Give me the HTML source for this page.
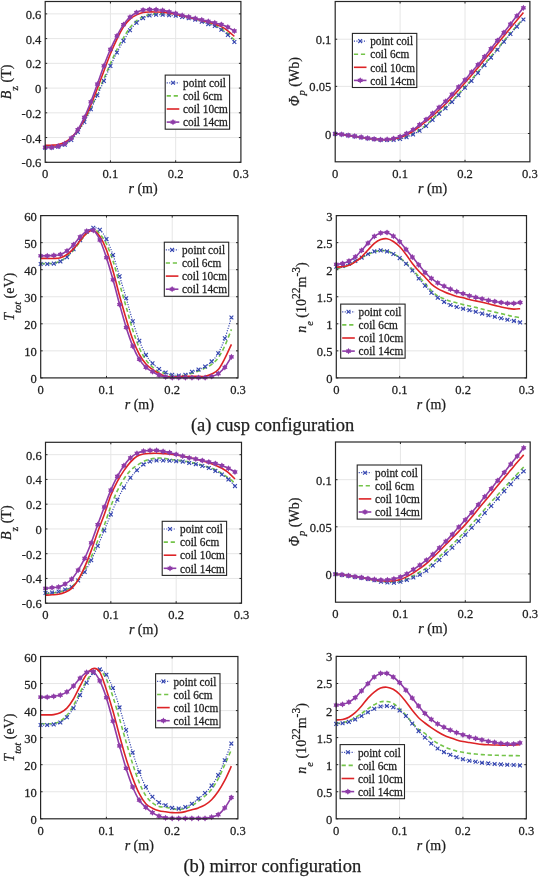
<!DOCTYPE html>
<html><head><meta charset="utf-8"><style>
html,body{margin:0;padding:0;background:#fff;width:538px;height:877px;overflow:hidden}
svg{display:block;will-change:transform}
text{font-family:"Liberation Serif", serif;fill:#1e1e1e;stroke:#1e1e1e;stroke-width:0.25px}
</style></head><body>
<svg width="538" height="877" viewBox="0 0 538 877">
<line x1="110.43" y1="1.50" x2="110.43" y2="162.30" stroke="#e6e6e6" stroke-width="1"/>
<line x1="175.67" y1="1.50" x2="175.67" y2="162.30" stroke="#e6e6e6" stroke-width="1"/>
<line x1="45.20" y1="137.56" x2="240.90" y2="137.56" stroke="#e6e6e6" stroke-width="1"/>
<line x1="45.20" y1="112.82" x2="240.90" y2="112.82" stroke="#e6e6e6" stroke-width="1"/>
<line x1="45.20" y1="88.08" x2="240.90" y2="88.08" stroke="#e6e6e6" stroke-width="1"/>
<line x1="45.20" y1="63.35" x2="240.90" y2="63.35" stroke="#e6e6e6" stroke-width="1"/>
<line x1="45.20" y1="38.61" x2="240.90" y2="38.61" stroke="#e6e6e6" stroke-width="1"/>
<line x1="45.20" y1="13.87" x2="240.90" y2="13.87" stroke="#e6e6e6" stroke-width="1"/>
<path d="M45.20,146.80 C46.29,146.77 49.55,146.75 51.72,146.60 C53.90,146.45 56.07,146.33 58.25,145.90 C60.42,145.47 62.60,145.10 64.77,144.00 C66.94,142.90 69.12,141.43 71.29,139.30 C73.47,137.17 75.64,134.28 77.82,131.20 C79.99,128.12 82.17,124.73 84.34,120.80 C86.51,116.87 88.69,112.18 90.86,107.60 C93.04,103.02 95.21,98.12 97.39,93.30 C99.56,88.48 101.74,83.65 103.91,78.70 C106.08,73.75 108.26,68.47 110.43,63.60 C112.61,58.73 114.78,53.80 116.96,49.50 C119.13,45.20 121.31,41.45 123.48,37.80 C125.65,34.15 127.83,30.43 130.00,27.60 C132.18,24.77 134.35,22.62 136.53,20.80 C138.70,18.98 140.88,17.73 143.05,16.70 C145.22,15.67 147.40,15.07 149.57,14.60 C151.75,14.13 153.92,14.02 156.10,13.90 C158.27,13.78 160.45,13.82 162.62,13.90 C164.79,13.98 166.97,14.22 169.14,14.40 C171.32,14.58 173.49,14.70 175.67,15.00 C177.84,15.30 180.02,15.77 182.19,16.20 C184.36,16.63 186.54,17.13 188.71,17.60 C190.89,18.07 193.06,18.42 195.24,19.00 C197.41,19.58 199.59,20.38 201.76,21.10 C203.93,21.82 206.11,22.62 208.28,23.30 C210.46,23.98 212.63,24.32 214.81,25.20 C216.98,26.08 219.16,27.20 221.33,28.60 C223.50,30.00 225.68,31.68 227.85,33.60 C230.03,35.52 233.29,39.02 234.38,40.10" fill="none" stroke="#74c44a" stroke-width="1.6" stroke-dasharray="4.2,2.8"/>
<path d="M45.20,147.80 C46.29,147.77 49.55,147.77 51.72,147.60 C53.90,147.43 56.07,147.27 58.25,146.80 C60.42,146.33 62.60,145.93 64.77,144.80 C66.94,143.67 69.12,142.13 71.29,140.00 C73.47,137.87 75.64,135.00 77.82,132.00 C79.99,129.00 82.17,125.78 84.34,122.00 C86.51,118.22 88.69,113.75 90.86,109.30 C93.04,104.85 95.21,100.03 97.39,95.30 C99.56,90.57 101.74,85.78 103.91,80.90 C106.08,76.02 108.26,70.73 110.43,66.00 C112.61,61.27 114.78,56.68 116.96,52.50 C119.13,48.32 121.31,44.62 123.48,40.90 C125.65,37.18 127.83,33.22 130.00,30.20 C132.18,27.18 134.35,24.82 136.53,22.80 C138.70,20.78 140.88,19.32 143.05,18.10 C145.22,16.88 147.40,16.05 149.57,15.50 C151.75,14.95 153.92,14.92 156.10,14.80 C158.27,14.68 160.45,14.72 162.62,14.80 C164.79,14.88 166.97,15.13 169.14,15.30 C171.32,15.47 173.49,15.53 175.67,15.80 C177.84,16.07 180.02,16.50 182.19,16.90 C184.36,17.30 186.54,17.75 188.71,18.20 C190.89,18.65 193.06,19.00 195.24,19.60 C197.41,20.20 199.59,21.05 201.76,21.80 C203.93,22.55 206.11,23.40 208.28,24.10 C210.46,24.80 212.63,25.07 214.81,26.00 C216.98,26.93 219.16,28.22 221.33,29.70 C223.50,31.18 225.68,32.85 227.85,34.90 C230.03,36.95 233.29,40.82 234.38,42.00" fill="none" stroke="#3445b0" stroke-width="1.2" stroke-dasharray="1.1,1.4"/>
<path d="M43.30,145.90L47.10,149.70M43.30,149.70L47.10,145.90" stroke="#3445b0" stroke-width="1.1"/>
<path d="M49.82,145.70L53.62,149.50M49.82,149.50L53.62,145.70" stroke="#3445b0" stroke-width="1.1"/>
<path d="M56.35,144.90L60.15,148.70M56.35,148.70L60.15,144.90" stroke="#3445b0" stroke-width="1.1"/>
<path d="M62.87,142.90L66.67,146.70M62.87,146.70L66.67,142.90" stroke="#3445b0" stroke-width="1.1"/>
<path d="M69.39,138.10L73.19,141.90M69.39,141.90L73.19,138.10" stroke="#3445b0" stroke-width="1.1"/>
<path d="M75.92,130.10L79.72,133.90M75.92,133.90L79.72,130.10" stroke="#3445b0" stroke-width="1.1"/>
<path d="M82.44,120.10L86.24,123.90M82.44,123.90L86.24,120.10" stroke="#3445b0" stroke-width="1.1"/>
<path d="M88.96,107.40L92.76,111.20M88.96,111.20L92.76,107.40" stroke="#3445b0" stroke-width="1.1"/>
<path d="M95.49,93.40L99.29,97.20M95.49,97.20L99.29,93.40" stroke="#3445b0" stroke-width="1.1"/>
<path d="M102.01,79.00L105.81,82.80M102.01,82.80L105.81,79.00" stroke="#3445b0" stroke-width="1.1"/>
<path d="M108.53,64.10L112.33,67.90M108.53,67.90L112.33,64.10" stroke="#3445b0" stroke-width="1.1"/>
<path d="M115.06,50.60L118.86,54.40M115.06,54.40L118.86,50.60" stroke="#3445b0" stroke-width="1.1"/>
<path d="M121.58,39.00L125.38,42.80M121.58,42.80L125.38,39.00" stroke="#3445b0" stroke-width="1.1"/>
<path d="M128.10,28.30L131.90,32.10M128.10,32.10L131.90,28.30" stroke="#3445b0" stroke-width="1.1"/>
<path d="M134.63,20.90L138.43,24.70M134.63,24.70L138.43,20.90" stroke="#3445b0" stroke-width="1.1"/>
<path d="M141.15,16.20L144.95,20.00M141.15,20.00L144.95,16.20" stroke="#3445b0" stroke-width="1.1"/>
<path d="M147.67,13.60L151.47,17.40M147.67,17.40L151.47,13.60" stroke="#3445b0" stroke-width="1.1"/>
<path d="M154.20,12.90L158.00,16.70M154.20,16.70L158.00,12.90" stroke="#3445b0" stroke-width="1.1"/>
<path d="M160.72,12.90L164.52,16.70M160.72,16.70L164.52,12.90" stroke="#3445b0" stroke-width="1.1"/>
<path d="M167.24,13.40L171.04,17.20M167.24,17.20L171.04,13.40" stroke="#3445b0" stroke-width="1.1"/>
<path d="M173.77,13.90L177.57,17.70M173.77,17.70L177.57,13.90" stroke="#3445b0" stroke-width="1.1"/>
<path d="M180.29,15.00L184.09,18.80M180.29,18.80L184.09,15.00" stroke="#3445b0" stroke-width="1.1"/>
<path d="M186.81,16.30L190.61,20.10M186.81,20.10L190.61,16.30" stroke="#3445b0" stroke-width="1.1"/>
<path d="M193.34,17.70L197.14,21.50M193.34,21.50L197.14,17.70" stroke="#3445b0" stroke-width="1.1"/>
<path d="M199.86,19.90L203.66,23.70M199.86,23.70L203.66,19.90" stroke="#3445b0" stroke-width="1.1"/>
<path d="M206.38,22.20L210.18,26.00M206.38,26.00L210.18,22.20" stroke="#3445b0" stroke-width="1.1"/>
<path d="M212.91,24.10L216.71,27.90M212.91,27.90L216.71,24.10" stroke="#3445b0" stroke-width="1.1"/>
<path d="M219.43,27.80L223.23,31.60M219.43,31.60L223.23,27.80" stroke="#3445b0" stroke-width="1.1"/>
<path d="M225.95,33.00L229.75,36.80M225.95,36.80L229.75,33.00" stroke="#3445b0" stroke-width="1.1"/>
<path d="M232.48,40.10L236.28,43.90M232.48,43.90L236.28,40.10" stroke="#3445b0" stroke-width="1.1"/>
<path d="M45.20,145.30 C46.29,145.28 49.55,145.33 51.72,145.20 C53.90,145.07 56.07,144.98 58.25,144.50 C60.42,144.02 62.60,143.45 64.77,142.30 C66.94,141.15 69.12,139.60 71.29,137.60 C73.47,135.60 75.64,133.32 77.82,130.30 C79.99,127.28 82.17,123.72 84.34,119.50 C86.51,115.28 88.69,110.17 90.86,105.00 C93.04,99.83 95.21,94.17 97.39,88.50 C99.56,82.83 101.74,76.78 103.91,71.00 C106.08,65.22 108.26,59.10 110.43,53.80 C112.61,48.50 114.78,43.68 116.96,39.20 C119.13,34.72 121.31,30.25 123.48,26.90 C125.65,23.55 127.83,21.10 130.00,19.10 C132.18,17.10 134.35,16.00 136.53,14.90 C138.70,13.80 140.88,13.00 143.05,12.50 C145.22,12.00 147.40,11.98 149.57,11.90 C151.75,11.82 153.92,11.93 156.10,12.00 C158.27,12.07 160.45,12.10 162.62,12.30 C164.79,12.50 166.97,12.87 169.14,13.20 C171.32,13.53 173.49,13.87 175.67,14.30 C177.84,14.73 180.02,15.32 182.19,15.80 C184.36,16.28 186.54,16.70 188.71,17.20 C190.89,17.70 193.06,18.27 195.24,18.80 C197.41,19.33 199.59,19.85 201.76,20.40 C203.93,20.95 206.11,21.50 208.28,22.10 C210.46,22.70 212.63,23.25 214.81,24.00 C216.98,24.75 219.16,25.47 221.33,26.60 C223.50,27.73 225.68,29.17 227.85,30.80 C230.03,32.43 233.29,35.47 234.38,36.40" fill="none" stroke="#dd2326" stroke-width="1.6"/>
<path d="M45.20,147.40 C46.29,147.38 49.55,147.50 51.72,147.30 C53.90,147.10 56.07,146.82 58.25,146.20 C60.42,145.58 62.60,144.95 64.77,143.60 C66.94,142.25 69.12,140.42 71.29,138.10 C73.47,135.78 75.64,133.15 77.82,129.70 C79.99,126.25 82.17,122.05 84.34,117.40 C86.51,112.75 88.69,107.35 90.86,101.80 C93.04,96.25 95.21,90.10 97.39,84.10 C99.56,78.10 101.74,71.60 103.91,65.80 C106.08,60.00 108.26,54.30 110.43,49.30 C112.61,44.30 114.78,39.92 116.96,35.80 C119.13,31.68 121.31,27.70 123.48,24.60 C125.65,21.50 127.83,19.22 130.00,17.20 C132.18,15.18 134.35,13.70 136.53,12.50 C138.70,11.30 140.88,10.50 143.05,10.00 C145.22,9.50 147.40,9.55 149.57,9.50 C151.75,9.45 153.92,9.55 156.10,9.70 C158.27,9.85 160.45,10.05 162.62,10.40 C164.79,10.75 166.97,11.32 169.14,11.80 C171.32,12.28 173.49,12.72 175.67,13.30 C177.84,13.88 180.02,14.70 182.19,15.30 C184.36,15.90 186.54,16.38 188.71,16.90 C190.89,17.42 193.06,17.90 195.24,18.40 C197.41,18.90 199.59,19.42 201.76,19.90 C203.93,20.38 206.11,20.82 208.28,21.30 C210.46,21.78 212.63,22.27 214.81,22.80 C216.98,23.33 219.16,23.77 221.33,24.50 C223.50,25.23 225.68,26.12 227.85,27.20 C230.03,28.28 233.29,30.37 234.38,31.00" fill="none" stroke="#8e3ca8" stroke-width="1.6"/>
<path d="M45.20,144.30 L44.25,145.75 L42.52,145.85 L43.30,147.40 L42.52,148.95 L44.25,149.05 L45.20,150.50 L46.15,149.05 L47.88,148.95 L47.10,147.40 L47.88,145.85 L46.15,145.75Z" fill="#8e3ca8"/>
<path d="M51.72,144.20 L50.77,145.65 L49.04,145.75 L49.82,147.30 L49.04,148.85 L50.77,148.95 L51.72,150.40 L52.67,148.95 L54.41,148.85 L53.62,147.30 L54.41,145.75 L52.67,145.65Z" fill="#8e3ca8"/>
<path d="M58.25,143.10 L57.30,144.55 L55.56,144.65 L56.35,146.20 L55.56,147.75 L57.30,147.85 L58.25,149.30 L59.20,147.85 L60.93,147.75 L60.15,146.20 L60.93,144.65 L59.20,144.55Z" fill="#8e3ca8"/>
<path d="M64.77,140.50 L63.82,141.95 L62.09,142.05 L62.87,143.60 L62.09,145.15 L63.82,145.25 L64.77,146.70 L65.72,145.25 L67.45,145.15 L66.67,143.60 L67.45,142.05 L65.72,141.95Z" fill="#8e3ca8"/>
<path d="M71.29,135.00 L70.34,136.45 L68.61,136.55 L69.39,138.10 L68.61,139.65 L70.34,139.75 L71.29,141.20 L72.24,139.75 L73.98,139.65 L73.19,138.10 L73.98,136.55 L72.24,136.45Z" fill="#8e3ca8"/>
<path d="M77.82,126.60 L76.87,128.05 L75.13,128.15 L75.92,129.70 L75.13,131.25 L76.87,131.35 L77.82,132.80 L78.77,131.35 L80.50,131.25 L79.72,129.70 L80.50,128.15 L78.77,128.05Z" fill="#8e3ca8"/>
<path d="M84.34,114.30 L83.39,115.75 L81.66,115.85 L82.44,117.40 L81.66,118.95 L83.39,119.05 L84.34,120.50 L85.29,119.05 L87.02,118.95 L86.24,117.40 L87.02,115.85 L85.29,115.75Z" fill="#8e3ca8"/>
<path d="M90.86,98.70 L89.91,100.15 L88.18,100.25 L88.96,101.80 L88.18,103.35 L89.91,103.45 L90.86,104.90 L91.81,103.45 L93.55,103.35 L92.76,101.80 L93.55,100.25 L91.81,100.15Z" fill="#8e3ca8"/>
<path d="M97.39,81.00 L96.44,82.45 L94.70,82.55 L95.49,84.10 L94.70,85.65 L96.44,85.75 L97.39,87.20 L98.34,85.75 L100.07,85.65 L99.29,84.10 L100.07,82.55 L98.34,82.45Z" fill="#8e3ca8"/>
<path d="M103.91,62.70 L102.96,64.15 L101.23,64.25 L102.01,65.80 L101.23,67.35 L102.96,67.45 L103.91,68.90 L104.86,67.45 L106.59,67.35 L105.81,65.80 L106.59,64.25 L104.86,64.15Z" fill="#8e3ca8"/>
<path d="M110.43,46.20 L109.48,47.65 L107.75,47.75 L108.53,49.30 L107.75,50.85 L109.48,50.95 L110.43,52.40 L111.38,50.95 L113.12,50.85 L112.33,49.30 L113.12,47.75 L111.38,47.65Z" fill="#8e3ca8"/>
<path d="M116.96,32.70 L116.01,34.15 L114.27,34.25 L115.06,35.80 L114.27,37.35 L116.01,37.45 L116.96,38.90 L117.91,37.45 L119.64,37.35 L118.86,35.80 L119.64,34.25 L117.91,34.15Z" fill="#8e3ca8"/>
<path d="M123.48,21.50 L122.53,22.95 L120.80,23.05 L121.58,24.60 L120.80,26.15 L122.53,26.25 L123.48,27.70 L124.43,26.25 L126.16,26.15 L125.38,24.60 L126.16,23.05 L124.43,22.95Z" fill="#8e3ca8"/>
<path d="M130.00,14.10 L129.05,15.55 L127.32,15.65 L128.10,17.20 L127.32,18.75 L129.05,18.85 L130.00,20.30 L130.95,18.85 L132.69,18.75 L131.90,17.20 L132.69,15.65 L130.95,15.55Z" fill="#8e3ca8"/>
<path d="M136.53,9.40 L135.58,10.85 L133.84,10.95 L134.63,12.50 L133.84,14.05 L135.58,14.15 L136.53,15.60 L137.48,14.15 L139.21,14.05 L138.43,12.50 L139.21,10.95 L137.48,10.85Z" fill="#8e3ca8"/>
<path d="M143.05,6.90 L142.10,8.35 L140.37,8.45 L141.15,10.00 L140.37,11.55 L142.10,11.65 L143.05,13.10 L144.00,11.65 L145.73,11.55 L144.95,10.00 L145.73,8.45 L144.00,8.35Z" fill="#8e3ca8"/>
<path d="M149.57,6.40 L148.62,7.85 L146.89,7.95 L147.67,9.50 L146.89,11.05 L148.62,11.15 L149.57,12.60 L150.52,11.15 L152.26,11.05 L151.47,9.50 L152.26,7.95 L150.52,7.85Z" fill="#8e3ca8"/>
<path d="M156.10,6.60 L155.15,8.05 L153.41,8.15 L154.20,9.70 L153.41,11.25 L155.15,11.35 L156.10,12.80 L157.05,11.35 L158.78,11.25 L158.00,9.70 L158.78,8.15 L157.05,8.05Z" fill="#8e3ca8"/>
<path d="M162.62,7.30 L161.67,8.75 L159.94,8.85 L160.72,10.40 L159.94,11.95 L161.67,12.05 L162.62,13.50 L163.57,12.05 L165.30,11.95 L164.52,10.40 L165.30,8.85 L163.57,8.75Z" fill="#8e3ca8"/>
<path d="M169.14,8.70 L168.19,10.15 L166.46,10.25 L167.24,11.80 L166.46,13.35 L168.19,13.45 L169.14,14.90 L170.09,13.45 L171.83,13.35 L171.04,11.80 L171.83,10.25 L170.09,10.15Z" fill="#8e3ca8"/>
<path d="M175.67,10.20 L174.72,11.65 L172.98,11.75 L173.77,13.30 L172.98,14.85 L174.72,14.95 L175.67,16.40 L176.62,14.95 L178.35,14.85 L177.57,13.30 L178.35,11.75 L176.62,11.65Z" fill="#8e3ca8"/>
<path d="M182.19,12.20 L181.24,13.65 L179.51,13.75 L180.29,15.30 L179.51,16.85 L181.24,16.95 L182.19,18.40 L183.14,16.95 L184.87,16.85 L184.09,15.30 L184.87,13.75 L183.14,13.65Z" fill="#8e3ca8"/>
<path d="M188.71,13.80 L187.76,15.25 L186.03,15.35 L186.81,16.90 L186.03,18.45 L187.76,18.55 L188.71,20.00 L189.66,18.55 L191.40,18.45 L190.61,16.90 L191.40,15.35 L189.66,15.25Z" fill="#8e3ca8"/>
<path d="M195.24,15.30 L194.29,16.75 L192.55,16.85 L193.34,18.40 L192.55,19.95 L194.29,20.05 L195.24,21.50 L196.19,20.05 L197.92,19.95 L197.14,18.40 L197.92,16.85 L196.19,16.75Z" fill="#8e3ca8"/>
<path d="M201.76,16.80 L200.81,18.25 L199.08,18.35 L199.86,19.90 L199.08,21.45 L200.81,21.55 L201.76,23.00 L202.71,21.55 L204.44,21.45 L203.66,19.90 L204.44,18.35 L202.71,18.25Z" fill="#8e3ca8"/>
<path d="M208.28,18.20 L207.33,19.65 L205.60,19.75 L206.38,21.30 L205.60,22.85 L207.33,22.95 L208.28,24.40 L209.23,22.95 L210.97,22.85 L210.18,21.30 L210.97,19.75 L209.23,19.65Z" fill="#8e3ca8"/>
<path d="M214.81,19.70 L213.86,21.15 L212.12,21.25 L212.91,22.80 L212.12,24.35 L213.86,24.45 L214.81,25.90 L215.76,24.45 L217.49,24.35 L216.71,22.80 L217.49,21.25 L215.76,21.15Z" fill="#8e3ca8"/>
<path d="M221.33,21.40 L220.38,22.85 L218.65,22.95 L219.43,24.50 L218.65,26.05 L220.38,26.15 L221.33,27.60 L222.28,26.15 L224.01,26.05 L223.23,24.50 L224.01,22.95 L222.28,22.85Z" fill="#8e3ca8"/>
<path d="M227.85,24.10 L226.90,25.55 L225.17,25.65 L225.95,27.20 L225.17,28.75 L226.90,28.85 L227.85,30.30 L228.80,28.85 L230.54,28.75 L229.75,27.20 L230.54,25.65 L228.80,25.55Z" fill="#8e3ca8"/>
<path d="M234.38,27.90 L233.43,29.35 L231.69,29.45 L232.48,31.00 L231.69,32.55 L233.43,32.65 L234.38,34.10 L235.33,32.65 L237.06,32.55 L236.28,31.00 L237.06,29.45 L235.33,29.35Z" fill="#8e3ca8"/>
<rect x="45.20" y="1.50" width="195.70" height="160.80" fill="none" stroke="#262626" stroke-width="1.2"/>
<line x1="110.43" y1="162.30" x2="110.43" y2="160.30" stroke="#262626" stroke-width="1"/>
<line x1="110.43" y1="1.50" x2="110.43" y2="3.50" stroke="#262626" stroke-width="1"/>
<line x1="175.67" y1="162.30" x2="175.67" y2="160.30" stroke="#262626" stroke-width="1"/>
<line x1="175.67" y1="1.50" x2="175.67" y2="3.50" stroke="#262626" stroke-width="1"/>
<line x1="45.20" y1="162.30" x2="47.20" y2="162.30" stroke="#262626" stroke-width="1"/>
<line x1="240.90" y1="162.30" x2="238.90" y2="162.30" stroke="#262626" stroke-width="1"/>
<line x1="45.20" y1="137.56" x2="47.20" y2="137.56" stroke="#262626" stroke-width="1"/>
<line x1="240.90" y1="137.56" x2="238.90" y2="137.56" stroke="#262626" stroke-width="1"/>
<line x1="45.20" y1="112.82" x2="47.20" y2="112.82" stroke="#262626" stroke-width="1"/>
<line x1="240.90" y1="112.82" x2="238.90" y2="112.82" stroke="#262626" stroke-width="1"/>
<line x1="45.20" y1="88.08" x2="47.20" y2="88.08" stroke="#262626" stroke-width="1"/>
<line x1="240.90" y1="88.08" x2="238.90" y2="88.08" stroke="#262626" stroke-width="1"/>
<line x1="45.20" y1="63.35" x2="47.20" y2="63.35" stroke="#262626" stroke-width="1"/>
<line x1="240.90" y1="63.35" x2="238.90" y2="63.35" stroke="#262626" stroke-width="1"/>
<line x1="45.20" y1="38.61" x2="47.20" y2="38.61" stroke="#262626" stroke-width="1"/>
<line x1="240.90" y1="38.61" x2="238.90" y2="38.61" stroke="#262626" stroke-width="1"/>
<line x1="45.20" y1="13.87" x2="47.20" y2="13.87" stroke="#262626" stroke-width="1"/>
<line x1="240.90" y1="13.87" x2="238.90" y2="13.87" stroke="#262626" stroke-width="1"/>
<text transform="translate(45.20,178.10) scale(1,1.07)" font-size="12.6" text-anchor="middle">0</text>
<text transform="translate(110.43,178.10) scale(1,1.07)" font-size="12.6" text-anchor="middle">0.1</text>
<text transform="translate(175.67,178.10) scale(1,1.07)" font-size="12.6" text-anchor="middle">0.2</text>
<text transform="translate(240.90,178.10) scale(1,1.07)" font-size="12.6" text-anchor="middle">0.3</text>
<text transform="translate(41.40,167.30) scale(1,1.07)" font-size="12.6" text-anchor="end">-0.6</text>
<text transform="translate(41.40,142.56) scale(1,1.07)" font-size="12.6" text-anchor="end">-0.4</text>
<text transform="translate(41.40,117.82) scale(1,1.07)" font-size="12.6" text-anchor="end">-0.2</text>
<text transform="translate(41.40,93.08) scale(1,1.07)" font-size="12.6" text-anchor="end">0</text>
<text transform="translate(41.40,68.35) scale(1,1.07)" font-size="12.6" text-anchor="end">0.2</text>
<text transform="translate(41.40,43.61) scale(1,1.07)" font-size="12.6" text-anchor="end">0.4</text>
<text transform="translate(41.40,18.87) scale(1,1.07)" font-size="12.6" text-anchor="end">0.6</text>
<text x="143.05" y="193.30" font-size="14" text-anchor="middle"><tspan font-style="italic">r</tspan> (m)</text>
<text transform="translate(11.20,81.90) rotate(-90)" x="0" y="0" font-size="14" text-anchor="middle"><tspan font-style="italic">B</tspan><tspan font-size="10.5" dy="6.8">z</tspan><tspan dy="-6.8"> (T)</tspan></text>
<rect x="165.20" y="75.10" width="64.4" height="54.1" fill="#fff" stroke="#262626" stroke-width="1.1"/>
<path d="M166.70,82.80 L179.30,82.80" fill="none" stroke="#3445b0" stroke-width="1.2" stroke-dasharray="1.1,1.4"/>
<path d="M171.10,80.90L174.90,84.70M171.10,84.70L174.90,80.90" stroke="#3445b0" stroke-width="1.1"/>
<text transform="translate(183.00,87.00) scale(1,1.1)" font-size="11.3">point coil</text>
<path d="M166.70,95.90 L179.30,95.90" fill="none" stroke="#74c44a" stroke-width="1.6" stroke-dasharray="4.2,2.8"/>
<text transform="translate(183.00,100.10) scale(1,1.1)" font-size="11.3">coil 6cm</text>
<path d="M166.70,109.00 L179.30,109.00" fill="none" stroke="#dd2326" stroke-width="1.6"/>
<text transform="translate(183.00,113.20) scale(1,1.1)" font-size="11.3">coil 10cm</text>
<path d="M166.70,122.10 L179.30,122.10" fill="none" stroke="#8e3ca8" stroke-width="1.6"/>
<path d="M173.00,119.00 L172.05,120.45 L170.32,120.55 L171.10,122.10 L170.32,123.65 L172.05,123.75 L173.00,125.20 L173.95,123.75 L175.68,123.65 L174.90,122.10 L175.68,120.55 L173.95,120.45Z" fill="#8e3ca8"/>
<text transform="translate(183.00,126.30) scale(1,1.1)" font-size="11.3">coil 14cm</text>
<line x1="400.10" y1="1.50" x2="400.10" y2="161.80" stroke="#e6e6e6" stroke-width="1"/>
<line x1="465.00" y1="1.50" x2="465.00" y2="161.80" stroke="#e6e6e6" stroke-width="1"/>
<line x1="335.20" y1="133.51" x2="529.90" y2="133.51" stroke="#e6e6e6" stroke-width="1"/>
<line x1="335.20" y1="86.36" x2="529.90" y2="86.36" stroke="#e6e6e6" stroke-width="1"/>
<line x1="335.20" y1="39.22" x2="529.90" y2="39.22" stroke="#e6e6e6" stroke-width="1"/>
<path d="M335.20,133.90 C336.28,134.00 339.53,134.25 341.69,134.50 C343.85,134.75 346.02,135.10 348.18,135.40 C350.34,135.70 352.51,135.97 354.67,136.30 C356.83,136.63 359.00,137.05 361.16,137.40 C363.32,137.75 365.49,138.10 367.65,138.40 C369.81,138.70 371.98,138.97 374.14,139.20 C376.30,139.43 378.47,139.68 380.63,139.80 C382.79,139.92 384.96,139.92 387.12,139.90 C389.28,139.88 391.45,139.92 393.61,139.70 C395.77,139.48 397.94,139.12 400.10,138.60 C402.26,138.08 404.43,137.43 406.59,136.60 C408.75,135.77 410.92,134.73 413.08,133.60 C415.24,132.47 417.41,131.23 419.57,129.80 C421.73,128.37 423.90,126.82 426.06,125.00 C428.22,123.18 430.39,120.93 432.55,118.90 C434.71,116.87 436.88,114.77 439.04,112.80 C441.20,110.83 443.37,109.08 445.53,107.10 C447.69,105.12 449.86,103.07 452.02,100.90 C454.18,98.73 456.35,96.50 458.51,94.10 C460.67,91.70 462.84,88.90 465.00,86.50 C467.16,84.10 469.33,82.15 471.49,79.70 C473.65,77.25 475.82,74.42 477.98,71.80 C480.14,69.18 482.31,66.55 484.47,64.00 C486.63,61.45 488.80,59.05 490.96,56.50 C493.12,53.95 495.29,51.32 497.45,48.70 C499.61,46.08 501.78,43.42 503.94,40.80 C506.10,38.18 508.27,35.52 510.43,33.00 C512.59,30.48 514.76,28.10 516.92,25.70 C519.08,23.30 522.33,19.78 523.41,18.60" fill="none" stroke="#74c44a" stroke-width="1.6" stroke-dasharray="4.2,2.8"/>
<path d="M335.20,133.90 C336.28,134.00 339.53,134.25 341.69,134.50 C343.85,134.75 346.02,135.08 348.18,135.40 C350.34,135.72 352.51,136.05 354.67,136.40 C356.83,136.75 359.00,137.15 361.16,137.50 C363.32,137.85 365.49,138.20 367.65,138.50 C369.81,138.80 371.98,139.07 374.14,139.30 C376.30,139.53 378.47,139.78 380.63,139.90 C382.79,140.02 384.96,139.98 387.12,140.00 C389.28,140.02 391.45,140.17 393.61,140.00 C395.77,139.83 397.94,139.47 400.10,139.00 C402.26,138.53 404.43,137.97 406.59,137.20 C408.75,136.43 410.92,135.48 413.08,134.40 C415.24,133.32 417.41,132.10 419.57,130.70 C421.73,129.30 423.90,127.80 426.06,126.00 C428.22,124.20 430.39,121.93 432.55,119.90 C434.71,117.87 436.88,115.75 439.04,113.80 C441.20,111.85 443.37,110.18 445.53,108.20 C447.69,106.22 449.86,104.07 452.02,101.90 C454.18,99.73 456.35,97.57 458.51,95.20 C460.67,92.83 462.84,90.08 465.00,87.70 C467.16,85.32 469.33,83.37 471.49,80.90 C473.65,78.43 475.82,75.53 477.98,72.90 C480.14,70.27 482.31,67.65 484.47,65.10 C486.63,62.55 488.80,60.15 490.96,57.60 C493.12,55.05 495.29,52.43 497.45,49.80 C499.61,47.17 501.78,44.43 503.94,41.80 C506.10,39.17 508.27,36.53 510.43,34.00 C512.59,31.47 514.76,29.02 516.92,26.60 C519.08,24.18 522.33,20.68 523.41,19.50" fill="none" stroke="#3445b0" stroke-width="1.2" stroke-dasharray="1.1,1.4"/>
<path d="M333.30,132.00L337.10,135.80M333.30,135.80L337.10,132.00" stroke="#3445b0" stroke-width="1.1"/>
<path d="M339.79,132.60L343.59,136.40M339.79,136.40L343.59,132.60" stroke="#3445b0" stroke-width="1.1"/>
<path d="M346.28,133.50L350.08,137.30M346.28,137.30L350.08,133.50" stroke="#3445b0" stroke-width="1.1"/>
<path d="M352.77,134.50L356.57,138.30M352.77,138.30L356.57,134.50" stroke="#3445b0" stroke-width="1.1"/>
<path d="M359.26,135.60L363.06,139.40M359.26,139.40L363.06,135.60" stroke="#3445b0" stroke-width="1.1"/>
<path d="M365.75,136.60L369.55,140.40M365.75,140.40L369.55,136.60" stroke="#3445b0" stroke-width="1.1"/>
<path d="M372.24,137.40L376.04,141.20M372.24,141.20L376.04,137.40" stroke="#3445b0" stroke-width="1.1"/>
<path d="M378.73,138.00L382.53,141.80M378.73,141.80L382.53,138.00" stroke="#3445b0" stroke-width="1.1"/>
<path d="M385.22,138.10L389.02,141.90M385.22,141.90L389.02,138.10" stroke="#3445b0" stroke-width="1.1"/>
<path d="M391.71,138.10L395.51,141.90M391.71,141.90L395.51,138.10" stroke="#3445b0" stroke-width="1.1"/>
<path d="M398.20,137.10L402.00,140.90M398.20,140.90L402.00,137.10" stroke="#3445b0" stroke-width="1.1"/>
<path d="M404.69,135.30L408.49,139.10M404.69,139.10L408.49,135.30" stroke="#3445b0" stroke-width="1.1"/>
<path d="M411.18,132.50L414.98,136.30M411.18,136.30L414.98,132.50" stroke="#3445b0" stroke-width="1.1"/>
<path d="M417.67,128.80L421.47,132.60M417.67,132.60L421.47,128.80" stroke="#3445b0" stroke-width="1.1"/>
<path d="M424.16,124.10L427.96,127.90M424.16,127.90L427.96,124.10" stroke="#3445b0" stroke-width="1.1"/>
<path d="M430.65,118.00L434.45,121.80M430.65,121.80L434.45,118.00" stroke="#3445b0" stroke-width="1.1"/>
<path d="M437.14,111.90L440.94,115.70M437.14,115.70L440.94,111.90" stroke="#3445b0" stroke-width="1.1"/>
<path d="M443.63,106.30L447.43,110.10M443.63,110.10L447.43,106.30" stroke="#3445b0" stroke-width="1.1"/>
<path d="M450.12,100.00L453.92,103.80M450.12,103.80L453.92,100.00" stroke="#3445b0" stroke-width="1.1"/>
<path d="M456.61,93.30L460.41,97.10M456.61,97.10L460.41,93.30" stroke="#3445b0" stroke-width="1.1"/>
<path d="M463.10,85.80L466.90,89.60M463.10,89.60L466.90,85.80" stroke="#3445b0" stroke-width="1.1"/>
<path d="M469.59,79.00L473.39,82.80M469.59,82.80L473.39,79.00" stroke="#3445b0" stroke-width="1.1"/>
<path d="M476.08,71.00L479.88,74.80M476.08,74.80L479.88,71.00" stroke="#3445b0" stroke-width="1.1"/>
<path d="M482.57,63.20L486.37,67.00M482.57,67.00L486.37,63.20" stroke="#3445b0" stroke-width="1.1"/>
<path d="M489.06,55.70L492.86,59.50M489.06,59.50L492.86,55.70" stroke="#3445b0" stroke-width="1.1"/>
<path d="M495.55,47.90L499.35,51.70M495.55,51.70L499.35,47.90" stroke="#3445b0" stroke-width="1.1"/>
<path d="M502.04,39.90L505.84,43.70M502.04,43.70L505.84,39.90" stroke="#3445b0" stroke-width="1.1"/>
<path d="M508.53,32.10L512.33,35.90M508.53,35.90L512.33,32.10" stroke="#3445b0" stroke-width="1.1"/>
<path d="M515.02,24.70L518.82,28.50M515.02,28.50L518.82,24.70" stroke="#3445b0" stroke-width="1.1"/>
<path d="M521.51,17.60L525.31,21.40M521.51,21.40L525.31,17.60" stroke="#3445b0" stroke-width="1.1"/>
<path d="M335.20,133.80 C336.28,133.90 339.53,134.15 341.69,134.40 C343.85,134.65 346.02,135.00 348.18,135.30 C350.34,135.60 352.51,135.88 354.67,136.20 C356.83,136.52 359.00,136.87 361.16,137.20 C363.32,137.53 365.49,137.88 367.65,138.20 C369.81,138.52 371.98,138.85 374.14,139.10 C376.30,139.35 378.47,139.62 380.63,139.70 C382.79,139.78 384.96,139.73 387.12,139.60 C389.28,139.47 391.45,139.27 393.61,138.90 C395.77,138.53 397.94,138.10 400.10,137.40 C402.26,136.70 404.43,135.73 406.59,134.70 C408.75,133.67 410.92,132.57 413.08,131.20 C415.24,129.83 417.41,128.15 419.57,126.50 C421.73,124.85 423.90,123.05 426.06,121.30 C428.22,119.55 430.39,117.88 432.55,116.00 C434.71,114.12 436.88,112.00 439.04,110.00 C441.20,108.00 443.37,106.13 445.53,104.00 C447.69,101.87 449.86,99.53 452.02,97.20 C454.18,94.87 456.35,92.40 458.51,90.00 C460.67,87.60 462.84,85.27 465.00,82.80 C467.16,80.33 469.33,77.70 471.49,75.20 C473.65,72.70 475.82,70.37 477.98,67.80 C480.14,65.23 482.31,62.45 484.47,59.80 C486.63,57.15 488.80,54.57 490.96,51.90 C493.12,49.23 495.29,46.47 497.45,43.80 C499.61,41.13 501.78,38.53 503.94,35.90 C506.10,33.27 508.27,30.62 510.43,28.00 C512.59,25.38 514.76,22.77 516.92,20.20 C519.08,17.63 522.33,13.87 523.41,12.60" fill="none" stroke="#dd2326" stroke-width="1.6"/>
<path d="M335.20,133.80 C336.28,133.90 339.53,134.15 341.69,134.40 C343.85,134.65 346.02,135.00 348.18,135.30 C350.34,135.60 352.51,135.88 354.67,136.20 C356.83,136.52 359.00,136.88 361.16,137.20 C363.32,137.52 365.49,137.80 367.65,138.10 C369.81,138.40 371.98,138.75 374.14,139.00 C376.30,139.25 378.47,139.53 380.63,139.60 C382.79,139.67 384.96,139.58 387.12,139.40 C389.28,139.22 391.45,138.97 393.61,138.50 C395.77,138.03 397.94,137.43 400.10,136.60 C402.26,135.77 404.43,134.65 406.59,133.50 C408.75,132.35 410.92,131.17 413.08,129.70 C415.24,128.23 417.41,126.40 419.57,124.70 C421.73,123.00 423.90,121.38 426.06,119.50 C428.22,117.62 430.39,115.42 432.55,113.40 C434.71,111.38 436.88,109.42 439.04,107.40 C441.20,105.38 443.37,103.47 445.53,101.30 C447.69,99.13 449.86,96.78 452.02,94.40 C454.18,92.02 456.35,89.42 458.51,87.00 C460.67,84.58 462.84,82.38 465.00,79.90 C467.16,77.42 469.33,74.63 471.49,72.10 C473.65,69.57 475.82,67.27 477.98,64.70 C480.14,62.13 482.31,59.37 484.47,56.70 C486.63,54.03 488.80,51.40 490.96,48.70 C493.12,46.00 495.29,43.20 497.45,40.50 C499.61,37.80 501.78,35.22 503.94,32.50 C506.10,29.78 508.27,26.98 510.43,24.20 C512.59,21.42 514.76,18.53 516.92,15.80 C519.08,13.07 522.33,9.13 523.41,7.80" fill="none" stroke="#8e3ca8" stroke-width="1.6"/>
<path d="M335.20,130.70 L334.25,132.15 L332.52,132.25 L333.30,133.80 L332.52,135.35 L334.25,135.45 L335.20,136.90 L336.15,135.45 L337.88,135.35 L337.10,133.80 L337.88,132.25 L336.15,132.15Z" fill="#8e3ca8"/>
<path d="M341.69,131.30 L340.74,132.75 L339.01,132.85 L339.79,134.40 L339.01,135.95 L340.74,136.05 L341.69,137.50 L342.64,136.05 L344.37,135.95 L343.59,134.40 L344.37,132.85 L342.64,132.75Z" fill="#8e3ca8"/>
<path d="M348.18,132.20 L347.23,133.65 L345.50,133.75 L346.28,135.30 L345.50,136.85 L347.23,136.95 L348.18,138.40 L349.13,136.95 L350.86,136.85 L350.08,135.30 L350.86,133.75 L349.13,133.65Z" fill="#8e3ca8"/>
<path d="M354.67,133.10 L353.72,134.55 L351.99,134.65 L352.77,136.20 L351.99,137.75 L353.72,137.85 L354.67,139.30 L355.62,137.85 L357.35,137.75 L356.57,136.20 L357.35,134.65 L355.62,134.55Z" fill="#8e3ca8"/>
<path d="M361.16,134.10 L360.21,135.55 L358.48,135.65 L359.26,137.20 L358.48,138.75 L360.21,138.85 L361.16,140.30 L362.11,138.85 L363.84,138.75 L363.06,137.20 L363.84,135.65 L362.11,135.55Z" fill="#8e3ca8"/>
<path d="M367.65,135.00 L366.70,136.45 L364.97,136.55 L365.75,138.10 L364.97,139.65 L366.70,139.75 L367.65,141.20 L368.60,139.75 L370.33,139.65 L369.55,138.10 L370.33,136.55 L368.60,136.45Z" fill="#8e3ca8"/>
<path d="M374.14,135.90 L373.19,137.35 L371.46,137.45 L372.24,139.00 L371.46,140.55 L373.19,140.65 L374.14,142.10 L375.09,140.65 L376.82,140.55 L376.04,139.00 L376.82,137.45 L375.09,137.35Z" fill="#8e3ca8"/>
<path d="M380.63,136.50 L379.68,137.95 L377.95,138.05 L378.73,139.60 L377.95,141.15 L379.68,141.25 L380.63,142.70 L381.58,141.25 L383.31,141.15 L382.53,139.60 L383.31,138.05 L381.58,137.95Z" fill="#8e3ca8"/>
<path d="M387.12,136.30 L386.17,137.75 L384.44,137.85 L385.22,139.40 L384.44,140.95 L386.17,141.05 L387.12,142.50 L388.07,141.05 L389.80,140.95 L389.02,139.40 L389.80,137.85 L388.07,137.75Z" fill="#8e3ca8"/>
<path d="M393.61,135.40 L392.66,136.85 L390.93,136.95 L391.71,138.50 L390.93,140.05 L392.66,140.15 L393.61,141.60 L394.56,140.15 L396.29,140.05 L395.51,138.50 L396.29,136.95 L394.56,136.85Z" fill="#8e3ca8"/>
<path d="M400.10,133.50 L399.15,134.95 L397.42,135.05 L398.20,136.60 L397.42,138.15 L399.15,138.25 L400.10,139.70 L401.05,138.25 L402.78,138.15 L402.00,136.60 L402.78,135.05 L401.05,134.95Z" fill="#8e3ca8"/>
<path d="M406.59,130.40 L405.64,131.85 L403.91,131.95 L404.69,133.50 L403.91,135.05 L405.64,135.15 L406.59,136.60 L407.54,135.15 L409.27,135.05 L408.49,133.50 L409.27,131.95 L407.54,131.85Z" fill="#8e3ca8"/>
<path d="M413.08,126.60 L412.13,128.05 L410.40,128.15 L411.18,129.70 L410.40,131.25 L412.13,131.35 L413.08,132.80 L414.03,131.35 L415.76,131.25 L414.98,129.70 L415.76,128.15 L414.03,128.05Z" fill="#8e3ca8"/>
<path d="M419.57,121.60 L418.62,123.05 L416.89,123.15 L417.67,124.70 L416.89,126.25 L418.62,126.35 L419.57,127.80 L420.52,126.35 L422.25,126.25 L421.47,124.70 L422.25,123.15 L420.52,123.05Z" fill="#8e3ca8"/>
<path d="M426.06,116.40 L425.11,117.85 L423.38,117.95 L424.16,119.50 L423.38,121.05 L425.11,121.15 L426.06,122.60 L427.01,121.15 L428.74,121.05 L427.96,119.50 L428.74,117.95 L427.01,117.85Z" fill="#8e3ca8"/>
<path d="M432.55,110.30 L431.60,111.75 L429.87,111.85 L430.65,113.40 L429.87,114.95 L431.60,115.05 L432.55,116.50 L433.50,115.05 L435.23,114.95 L434.45,113.40 L435.23,111.85 L433.50,111.75Z" fill="#8e3ca8"/>
<path d="M439.04,104.30 L438.09,105.75 L436.36,105.85 L437.14,107.40 L436.36,108.95 L438.09,109.05 L439.04,110.50 L439.99,109.05 L441.72,108.95 L440.94,107.40 L441.72,105.85 L439.99,105.75Z" fill="#8e3ca8"/>
<path d="M445.53,98.20 L444.58,99.65 L442.85,99.75 L443.63,101.30 L442.85,102.85 L444.58,102.95 L445.53,104.40 L446.48,102.95 L448.21,102.85 L447.43,101.30 L448.21,99.75 L446.48,99.65Z" fill="#8e3ca8"/>
<path d="M452.02,91.30 L451.07,92.75 L449.34,92.85 L450.12,94.40 L449.34,95.95 L451.07,96.05 L452.02,97.50 L452.97,96.05 L454.70,95.95 L453.92,94.40 L454.70,92.85 L452.97,92.75Z" fill="#8e3ca8"/>
<path d="M458.51,83.90 L457.56,85.35 L455.83,85.45 L456.61,87.00 L455.83,88.55 L457.56,88.65 L458.51,90.10 L459.46,88.65 L461.19,88.55 L460.41,87.00 L461.19,85.45 L459.46,85.35Z" fill="#8e3ca8"/>
<path d="M465.00,76.80 L464.05,78.25 L462.32,78.35 L463.10,79.90 L462.32,81.45 L464.05,81.55 L465.00,83.00 L465.95,81.55 L467.68,81.45 L466.90,79.90 L467.68,78.35 L465.95,78.25Z" fill="#8e3ca8"/>
<path d="M471.49,69.00 L470.54,70.45 L468.81,70.55 L469.59,72.10 L468.81,73.65 L470.54,73.75 L471.49,75.20 L472.44,73.75 L474.17,73.65 L473.39,72.10 L474.17,70.55 L472.44,70.45Z" fill="#8e3ca8"/>
<path d="M477.98,61.60 L477.03,63.05 L475.30,63.15 L476.08,64.70 L475.30,66.25 L477.03,66.35 L477.98,67.80 L478.93,66.35 L480.66,66.25 L479.88,64.70 L480.66,63.15 L478.93,63.05Z" fill="#8e3ca8"/>
<path d="M484.47,53.60 L483.52,55.05 L481.79,55.15 L482.57,56.70 L481.79,58.25 L483.52,58.35 L484.47,59.80 L485.42,58.35 L487.15,58.25 L486.37,56.70 L487.15,55.15 L485.42,55.05Z" fill="#8e3ca8"/>
<path d="M490.96,45.60 L490.01,47.05 L488.28,47.15 L489.06,48.70 L488.28,50.25 L490.01,50.35 L490.96,51.80 L491.91,50.35 L493.64,50.25 L492.86,48.70 L493.64,47.15 L491.91,47.05Z" fill="#8e3ca8"/>
<path d="M497.45,37.40 L496.50,38.85 L494.77,38.95 L495.55,40.50 L494.77,42.05 L496.50,42.15 L497.45,43.60 L498.40,42.15 L500.13,42.05 L499.35,40.50 L500.13,38.95 L498.40,38.85Z" fill="#8e3ca8"/>
<path d="M503.94,29.40 L502.99,30.85 L501.26,30.95 L502.04,32.50 L501.26,34.05 L502.99,34.15 L503.94,35.60 L504.89,34.15 L506.62,34.05 L505.84,32.50 L506.62,30.95 L504.89,30.85Z" fill="#8e3ca8"/>
<path d="M510.43,21.10 L509.48,22.55 L507.75,22.65 L508.53,24.20 L507.75,25.75 L509.48,25.85 L510.43,27.30 L511.38,25.85 L513.11,25.75 L512.33,24.20 L513.11,22.65 L511.38,22.55Z" fill="#8e3ca8"/>
<path d="M516.92,12.70 L515.97,14.15 L514.24,14.25 L515.02,15.80 L514.24,17.35 L515.97,17.45 L516.92,18.90 L517.87,17.45 L519.60,17.35 L518.82,15.80 L519.60,14.25 L517.87,14.15Z" fill="#8e3ca8"/>
<path d="M523.41,4.70 L522.46,6.15 L520.73,6.25 L521.51,7.80 L520.73,9.35 L522.46,9.45 L523.41,10.90 L524.36,9.45 L526.09,9.35 L525.31,7.80 L526.09,6.25 L524.36,6.15Z" fill="#8e3ca8"/>
<rect x="335.20" y="1.50" width="194.70" height="160.30" fill="none" stroke="#262626" stroke-width="1.2"/>
<line x1="400.10" y1="161.80" x2="400.10" y2="159.80" stroke="#262626" stroke-width="1"/>
<line x1="400.10" y1="1.50" x2="400.10" y2="3.50" stroke="#262626" stroke-width="1"/>
<line x1="465.00" y1="161.80" x2="465.00" y2="159.80" stroke="#262626" stroke-width="1"/>
<line x1="465.00" y1="1.50" x2="465.00" y2="3.50" stroke="#262626" stroke-width="1"/>
<line x1="335.20" y1="133.51" x2="337.20" y2="133.51" stroke="#262626" stroke-width="1"/>
<line x1="529.90" y1="133.51" x2="527.90" y2="133.51" stroke="#262626" stroke-width="1"/>
<line x1="335.20" y1="86.36" x2="337.20" y2="86.36" stroke="#262626" stroke-width="1"/>
<line x1="529.90" y1="86.36" x2="527.90" y2="86.36" stroke="#262626" stroke-width="1"/>
<line x1="335.20" y1="39.22" x2="337.20" y2="39.22" stroke="#262626" stroke-width="1"/>
<line x1="529.90" y1="39.22" x2="527.90" y2="39.22" stroke="#262626" stroke-width="1"/>
<text transform="translate(335.20,177.60) scale(1,1.07)" font-size="12.6" text-anchor="middle">0</text>
<text transform="translate(400.10,177.60) scale(1,1.07)" font-size="12.6" text-anchor="middle">0.1</text>
<text transform="translate(465.00,177.60) scale(1,1.07)" font-size="12.6" text-anchor="middle">0.2</text>
<text transform="translate(529.90,177.60) scale(1,1.07)" font-size="12.6" text-anchor="middle">0.3</text>
<text transform="translate(331.40,138.51) scale(1,1.07)" font-size="12.6" text-anchor="end">0</text>
<text transform="translate(331.40,91.36) scale(1,1.07)" font-size="12.6" text-anchor="end">0.05</text>
<text transform="translate(331.40,44.22) scale(1,1.07)" font-size="12.6" text-anchor="end">0.1</text>
<text x="432.55" y="192.80" font-size="14" text-anchor="middle"><tspan font-style="italic">r</tspan> (m)</text>
<text transform="translate(298.60,81.65) rotate(-90)" x="0" y="0" font-size="14" text-anchor="middle"><tspan font-style="italic">Φ</tspan><tspan font-size="10.5" dy="6.8" font-style="italic">p</tspan><tspan dy="-6.8"> (Wb)</tspan></text>
<rect x="352.40" y="33.40" width="64.4" height="54.1" fill="#fff" stroke="#262626" stroke-width="1.1"/>
<path d="M353.90,41.10 L366.50,41.10" fill="none" stroke="#3445b0" stroke-width="1.2" stroke-dasharray="1.1,1.4"/>
<path d="M358.30,39.20L362.10,43.00M358.30,43.00L362.10,39.20" stroke="#3445b0" stroke-width="1.1"/>
<text transform="translate(370.20,45.30) scale(1,1.1)" font-size="11.3">point coil</text>
<path d="M353.90,54.20 L366.50,54.20" fill="none" stroke="#74c44a" stroke-width="1.6" stroke-dasharray="4.2,2.8"/>
<text transform="translate(370.20,58.40) scale(1,1.1)" font-size="11.3">coil 6cm</text>
<path d="M353.90,67.30 L366.50,67.30" fill="none" stroke="#dd2326" stroke-width="1.6"/>
<text transform="translate(370.20,71.50) scale(1,1.1)" font-size="11.3">coil 10cm</text>
<path d="M353.90,80.40 L366.50,80.40" fill="none" stroke="#8e3ca8" stroke-width="1.6"/>
<path d="M360.20,77.30 L359.25,78.75 L357.52,78.85 L358.30,80.40 L357.52,81.95 L359.25,82.05 L360.20,83.50 L361.15,82.05 L362.88,81.95 L362.10,80.40 L362.88,78.85 L361.15,78.75Z" fill="#8e3ca8"/>
<text transform="translate(370.20,84.60) scale(1,1.1)" font-size="11.3">coil 14cm</text>
<line x1="106.47" y1="215.60" x2="106.47" y2="377.90" stroke="#e6e6e6" stroke-width="1"/>
<line x1="172.23" y1="215.60" x2="172.23" y2="377.90" stroke="#e6e6e6" stroke-width="1"/>
<line x1="40.70" y1="350.85" x2="238.00" y2="350.85" stroke="#e6e6e6" stroke-width="1"/>
<line x1="40.70" y1="323.80" x2="238.00" y2="323.80" stroke="#e6e6e6" stroke-width="1"/>
<line x1="40.70" y1="296.75" x2="238.00" y2="296.75" stroke="#e6e6e6" stroke-width="1"/>
<line x1="40.70" y1="269.70" x2="238.00" y2="269.70" stroke="#e6e6e6" stroke-width="1"/>
<line x1="40.70" y1="242.65" x2="238.00" y2="242.65" stroke="#e6e6e6" stroke-width="1"/>
<path d="M40.70,263.60 C41.80,263.60 45.08,263.67 47.28,263.60 C49.47,263.53 51.66,263.63 53.85,263.20 C56.05,262.77 58.24,262.10 60.43,261.00 C62.62,259.90 64.81,258.40 67.01,256.60 C69.20,254.80 71.39,252.72 73.58,250.20 C75.78,247.68 77.97,244.28 80.16,241.50 C82.35,238.72 84.54,235.58 86.74,233.50 C88.93,231.42 91.12,228.92 93.31,229.00 C95.51,229.08 97.70,231.50 99.89,234.00 C102.08,236.50 104.27,239.50 106.47,244.00 C108.66,248.50 110.85,254.33 113.04,261.00 C115.24,267.67 117.43,276.33 119.62,284.00 C121.81,291.67 124.00,299.33 126.20,307.00 C128.39,314.67 130.58,323.17 132.77,330.00 C134.97,336.83 137.16,343.00 139.35,348.00 C141.54,353.00 143.73,356.83 145.93,360.00 C148.12,363.17 150.31,365.00 152.50,367.00 C154.70,369.00 156.89,370.95 159.08,372.00 C161.27,373.05 163.46,372.72 165.66,373.30 C167.85,373.88 170.04,375.05 172.23,375.50 C174.43,375.95 176.62,376.05 178.81,376.00 C181.00,375.95 183.19,375.65 185.39,375.20 C187.58,374.75 189.77,374.00 191.96,373.30 C194.16,372.60 196.35,371.88 198.54,371.00 C200.73,370.12 202.92,369.12 205.12,368.00 C207.31,366.88 209.50,366.02 211.69,364.30 C213.89,362.58 216.08,360.78 218.27,357.70 C220.46,354.62 222.65,350.52 224.85,345.80 C227.04,341.08 230.33,332.13 231.42,329.40" fill="none" stroke="#74c44a" stroke-width="1.6" stroke-dasharray="4.2,2.8"/>
<path d="M40.70,264.00 C41.80,264.00 45.08,264.07 47.28,264.00 C49.47,263.93 51.66,264.03 53.85,263.60 C56.05,263.17 58.24,262.48 60.43,261.40 C62.62,260.32 64.81,259.12 67.01,257.10 C69.20,255.08 71.39,252.12 73.58,249.30 C75.78,246.48 77.97,243.13 80.16,240.20 C82.35,237.27 84.54,233.77 86.74,231.70 C88.93,229.63 91.12,228.12 93.31,227.80 C95.51,227.48 97.70,227.92 99.89,229.80 C102.08,231.68 104.27,234.90 106.47,239.10 C108.66,243.30 110.85,248.80 113.04,255.00 C115.24,261.20 117.43,269.08 119.62,276.30 C121.81,283.52 124.00,290.80 126.20,298.30 C128.39,305.80 130.58,314.22 132.77,321.30 C134.97,328.38 137.16,335.20 139.35,340.80 C141.54,346.40 143.73,351.17 145.93,354.90 C148.12,358.63 150.31,360.85 152.50,363.20 C154.70,365.55 156.89,367.45 159.08,369.00 C161.27,370.55 163.46,371.53 165.66,372.50 C167.85,373.47 170.04,374.30 172.23,374.80 C174.43,375.30 176.62,375.50 178.81,375.50 C181.00,375.50 183.19,375.42 185.39,374.80 C187.58,374.18 189.77,372.67 191.96,371.80 C194.16,370.93 196.35,370.47 198.54,369.60 C200.73,368.73 202.92,367.97 205.12,366.60 C207.31,365.23 209.50,363.63 211.69,361.40 C213.89,359.17 216.08,357.05 218.27,353.20 C220.46,349.35 222.65,344.25 224.85,338.30 C227.04,332.35 230.33,320.97 231.42,317.50" fill="none" stroke="#3445b0" stroke-width="1.2" stroke-dasharray="1.1,1.4"/>
<path d="M38.80,262.10L42.60,265.90M38.80,265.90L42.60,262.10" stroke="#3445b0" stroke-width="1.1"/>
<path d="M45.38,262.10L49.18,265.90M45.38,265.90L49.18,262.10" stroke="#3445b0" stroke-width="1.1"/>
<path d="M51.95,261.70L55.75,265.50M51.95,265.50L55.75,261.70" stroke="#3445b0" stroke-width="1.1"/>
<path d="M58.53,259.50L62.33,263.30M58.53,263.30L62.33,259.50" stroke="#3445b0" stroke-width="1.1"/>
<path d="M65.11,255.20L68.91,259.00M65.11,259.00L68.91,255.20" stroke="#3445b0" stroke-width="1.1"/>
<path d="M71.68,247.40L75.48,251.20M71.68,251.20L75.48,247.40" stroke="#3445b0" stroke-width="1.1"/>
<path d="M78.26,238.30L82.06,242.10M78.26,242.10L82.06,238.30" stroke="#3445b0" stroke-width="1.1"/>
<path d="M84.84,229.80L88.64,233.60M84.84,233.60L88.64,229.80" stroke="#3445b0" stroke-width="1.1"/>
<path d="M91.41,225.90L95.21,229.70M91.41,229.70L95.21,225.90" stroke="#3445b0" stroke-width="1.1"/>
<path d="M97.99,227.90L101.79,231.70M97.99,231.70L101.79,227.90" stroke="#3445b0" stroke-width="1.1"/>
<path d="M104.57,237.20L108.37,241.00M104.57,241.00L108.37,237.20" stroke="#3445b0" stroke-width="1.1"/>
<path d="M111.14,253.10L114.94,256.90M111.14,256.90L114.94,253.10" stroke="#3445b0" stroke-width="1.1"/>
<path d="M117.72,274.40L121.52,278.20M117.72,278.20L121.52,274.40" stroke="#3445b0" stroke-width="1.1"/>
<path d="M124.30,296.40L128.10,300.20M124.30,300.20L128.10,296.40" stroke="#3445b0" stroke-width="1.1"/>
<path d="M130.87,319.40L134.67,323.20M130.87,323.20L134.67,319.40" stroke="#3445b0" stroke-width="1.1"/>
<path d="M137.45,338.90L141.25,342.70M137.45,342.70L141.25,338.90" stroke="#3445b0" stroke-width="1.1"/>
<path d="M144.03,353.00L147.83,356.80M144.03,356.80L147.83,353.00" stroke="#3445b0" stroke-width="1.1"/>
<path d="M150.60,361.30L154.40,365.10M150.60,365.10L154.40,361.30" stroke="#3445b0" stroke-width="1.1"/>
<path d="M157.18,367.10L160.98,370.90M157.18,370.90L160.98,367.10" stroke="#3445b0" stroke-width="1.1"/>
<path d="M163.76,370.60L167.56,374.40M163.76,374.40L167.56,370.60" stroke="#3445b0" stroke-width="1.1"/>
<path d="M170.33,372.90L174.13,376.70M170.33,376.70L174.13,372.90" stroke="#3445b0" stroke-width="1.1"/>
<path d="M176.91,373.60L180.71,377.40M176.91,377.40L180.71,373.60" stroke="#3445b0" stroke-width="1.1"/>
<path d="M183.49,372.90L187.29,376.70M183.49,376.70L187.29,372.90" stroke="#3445b0" stroke-width="1.1"/>
<path d="M190.06,369.90L193.86,373.70M190.06,373.70L193.86,369.90" stroke="#3445b0" stroke-width="1.1"/>
<path d="M196.64,367.70L200.44,371.50M196.64,371.50L200.44,367.70" stroke="#3445b0" stroke-width="1.1"/>
<path d="M203.22,364.70L207.02,368.50M203.22,368.50L207.02,364.70" stroke="#3445b0" stroke-width="1.1"/>
<path d="M209.79,359.50L213.59,363.30M209.79,363.30L213.59,359.50" stroke="#3445b0" stroke-width="1.1"/>
<path d="M216.37,351.30L220.17,355.10M216.37,355.10L220.17,351.30" stroke="#3445b0" stroke-width="1.1"/>
<path d="M222.95,336.40L226.75,340.20M222.95,340.20L226.75,336.40" stroke="#3445b0" stroke-width="1.1"/>
<path d="M229.52,315.60L233.32,319.40M229.52,319.40L233.32,315.60" stroke="#3445b0" stroke-width="1.1"/>
<path d="M40.70,258.40 C41.80,258.40 45.08,258.40 47.28,258.40 C49.47,258.40 51.66,258.52 53.85,258.40 C56.05,258.28 58.24,258.35 60.43,257.70 C62.62,257.05 64.81,256.02 67.01,254.50 C69.20,252.98 71.39,250.88 73.58,248.60 C75.78,246.32 77.97,243.40 80.16,240.80 C82.35,238.20 84.54,234.73 86.74,233.00 C88.93,231.27 91.12,229.82 93.31,230.40 C95.51,230.98 97.70,233.23 99.89,236.50 C102.08,239.77 104.27,244.25 106.47,250.00 C108.66,255.75 110.85,263.33 113.04,271.00 C115.24,278.67 117.43,288.00 119.62,296.00 C121.81,304.00 124.00,311.75 126.20,319.00 C128.39,326.25 130.58,333.58 132.77,339.50 C134.97,345.42 137.16,350.42 139.35,354.50 C141.54,358.58 143.73,361.50 145.93,364.00 C148.12,366.50 150.31,367.92 152.50,369.50 C154.70,371.08 156.89,372.38 159.08,373.50 C161.27,374.62 163.46,375.62 165.66,376.20 C167.85,376.78 170.04,376.93 172.23,377.00 C174.43,377.07 176.62,376.70 178.81,376.60 C181.00,376.50 183.19,376.43 185.39,376.40 C187.58,376.37 189.77,376.40 191.96,376.40 C194.16,376.40 196.35,376.43 198.54,376.40 C200.73,376.37 202.92,376.60 205.12,376.20 C207.31,375.80 209.50,375.10 211.69,374.00 C213.89,372.90 216.08,372.20 218.27,369.60 C220.46,367.00 222.65,362.62 224.85,358.40 C227.04,354.18 230.33,346.65 231.42,344.30" fill="none" stroke="#dd2326" stroke-width="1.6"/>
<path d="M40.70,255.80 C41.80,255.80 45.08,255.87 47.28,255.80 C49.47,255.73 51.66,255.62 53.85,255.40 C56.05,255.18 58.24,255.27 60.43,254.50 C62.62,253.73 64.81,252.43 67.01,250.80 C69.20,249.17 71.39,247.02 73.58,244.70 C75.78,242.38 77.97,239.17 80.16,236.90 C82.35,234.63 84.54,232.18 86.74,231.10 C88.93,230.02 91.12,228.92 93.31,230.40 C95.51,231.88 97.70,235.45 99.89,240.00 C102.08,244.55 104.27,251.07 106.47,257.70 C108.66,264.33 110.85,272.00 113.04,279.80 C115.24,287.60 117.43,296.55 119.62,304.50 C121.81,312.45 124.00,320.57 126.20,327.50 C128.39,334.43 130.58,340.80 132.77,346.10 C134.97,351.40 137.16,355.77 139.35,359.30 C141.54,362.83 143.73,365.23 145.93,367.30 C148.12,369.37 150.31,370.38 152.50,371.70 C154.70,373.02 156.89,374.32 159.08,375.20 C161.27,376.08 163.46,376.58 165.66,377.00 C167.85,377.42 170.04,377.58 172.23,377.70 C174.43,377.82 176.62,377.70 178.81,377.70 C181.00,377.70 183.19,377.70 185.39,377.70 C187.58,377.70 189.77,377.70 191.96,377.70 C194.16,377.70 196.35,377.70 198.54,377.70 C200.73,377.70 202.92,377.90 205.12,377.70 C207.31,377.50 209.50,377.18 211.69,376.50 C213.89,375.82 216.08,375.13 218.27,373.60 C220.46,372.07 222.65,370.08 224.85,367.30 C227.04,364.52 230.33,358.63 231.42,356.90" fill="none" stroke="#8e3ca8" stroke-width="1.6"/>
<path d="M40.70,252.70 L39.75,254.15 L38.02,254.25 L38.80,255.80 L38.02,257.35 L39.75,257.45 L40.70,258.90 L41.65,257.45 L43.38,257.35 L42.60,255.80 L43.38,254.25 L41.65,254.15Z" fill="#8e3ca8"/>
<path d="M47.28,252.70 L46.33,254.15 L44.59,254.25 L45.38,255.80 L44.59,257.35 L46.33,257.45 L47.28,258.90 L48.23,257.45 L49.96,257.35 L49.18,255.80 L49.96,254.25 L48.23,254.15Z" fill="#8e3ca8"/>
<path d="M53.85,252.30 L52.90,253.75 L51.17,253.85 L51.95,255.40 L51.17,256.95 L52.90,257.05 L53.85,258.50 L54.80,257.05 L56.54,256.95 L55.75,255.40 L56.54,253.85 L54.80,253.75Z" fill="#8e3ca8"/>
<path d="M60.43,251.40 L59.48,252.85 L57.75,252.95 L58.53,254.50 L57.75,256.05 L59.48,256.15 L60.43,257.60 L61.38,256.15 L63.11,256.05 L62.33,254.50 L63.11,252.95 L61.38,252.85Z" fill="#8e3ca8"/>
<path d="M67.01,247.70 L66.06,249.15 L64.32,249.25 L65.11,250.80 L64.32,252.35 L66.06,252.45 L67.01,253.90 L67.96,252.45 L69.69,252.35 L68.91,250.80 L69.69,249.25 L67.96,249.15Z" fill="#8e3ca8"/>
<path d="M73.58,241.60 L72.63,243.05 L70.90,243.15 L71.68,244.70 L70.90,246.25 L72.63,246.35 L73.58,247.80 L74.53,246.35 L76.27,246.25 L75.48,244.70 L76.27,243.15 L74.53,243.05Z" fill="#8e3ca8"/>
<path d="M80.16,233.80 L79.21,235.25 L77.48,235.35 L78.26,236.90 L77.48,238.45 L79.21,238.55 L80.16,240.00 L81.11,238.55 L82.84,238.45 L82.06,236.90 L82.84,235.35 L81.11,235.25Z" fill="#8e3ca8"/>
<path d="M86.74,228.00 L85.79,229.45 L84.05,229.55 L84.84,231.10 L84.05,232.65 L85.79,232.75 L86.74,234.20 L87.69,232.75 L89.42,232.65 L88.64,231.10 L89.42,229.55 L87.69,229.45Z" fill="#8e3ca8"/>
<path d="M93.31,227.30 L92.36,228.75 L90.63,228.85 L91.41,230.40 L90.63,231.95 L92.36,232.05 L93.31,233.50 L94.26,232.05 L96.00,231.95 L95.21,230.40 L96.00,228.85 L94.26,228.75Z" fill="#8e3ca8"/>
<path d="M99.89,236.90 L98.94,238.35 L97.21,238.45 L97.99,240.00 L97.21,241.55 L98.94,241.65 L99.89,243.10 L100.84,241.65 L102.57,241.55 L101.79,240.00 L102.57,238.45 L100.84,238.35Z" fill="#8e3ca8"/>
<path d="M106.47,254.60 L105.52,256.05 L103.78,256.15 L104.57,257.70 L103.78,259.25 L105.52,259.35 L106.47,260.80 L107.42,259.35 L109.15,259.25 L108.37,257.70 L109.15,256.15 L107.42,256.05Z" fill="#8e3ca8"/>
<path d="M113.04,276.70 L112.09,278.15 L110.36,278.25 L111.14,279.80 L110.36,281.35 L112.09,281.45 L113.04,282.90 L113.99,281.45 L115.73,281.35 L114.94,279.80 L115.73,278.25 L113.99,278.15Z" fill="#8e3ca8"/>
<path d="M119.62,301.40 L118.67,302.85 L116.94,302.95 L117.72,304.50 L116.94,306.05 L118.67,306.15 L119.62,307.60 L120.57,306.15 L122.30,306.05 L121.52,304.50 L122.30,302.95 L120.57,302.85Z" fill="#8e3ca8"/>
<path d="M126.20,324.40 L125.25,325.85 L123.51,325.95 L124.30,327.50 L123.51,329.05 L125.25,329.15 L126.20,330.60 L127.15,329.15 L128.88,329.05 L128.10,327.50 L128.88,325.95 L127.15,325.85Z" fill="#8e3ca8"/>
<path d="M132.77,343.00 L131.82,344.45 L130.09,344.55 L130.87,346.10 L130.09,347.65 L131.82,347.75 L132.77,349.20 L133.72,347.75 L135.46,347.65 L134.67,346.10 L135.46,344.55 L133.72,344.45Z" fill="#8e3ca8"/>
<path d="M139.35,356.20 L138.40,357.65 L136.67,357.75 L137.45,359.30 L136.67,360.85 L138.40,360.95 L139.35,362.40 L140.30,360.95 L142.03,360.85 L141.25,359.30 L142.03,357.75 L140.30,357.65Z" fill="#8e3ca8"/>
<path d="M145.93,364.20 L144.98,365.65 L143.24,365.75 L144.03,367.30 L143.24,368.85 L144.98,368.95 L145.93,370.40 L146.88,368.95 L148.61,368.85 L147.83,367.30 L148.61,365.75 L146.88,365.65Z" fill="#8e3ca8"/>
<path d="M152.50,368.60 L151.55,370.05 L149.82,370.15 L150.60,371.70 L149.82,373.25 L151.55,373.35 L152.50,374.80 L153.45,373.35 L155.19,373.25 L154.40,371.70 L155.19,370.15 L153.45,370.05Z" fill="#8e3ca8"/>
<path d="M159.08,372.10 L158.13,373.55 L156.40,373.65 L157.18,375.20 L156.40,376.75 L158.13,376.85 L159.08,378.30 L160.03,376.85 L161.76,376.75 L160.98,375.20 L161.76,373.65 L160.03,373.55Z" fill="#8e3ca8"/>
<path d="M165.66,373.90 L164.71,375.35 L162.97,375.45 L163.76,377.00 L162.97,378.55 L164.71,378.65 L165.66,380.10 L166.61,378.65 L168.34,378.55 L167.56,377.00 L168.34,375.45 L166.61,375.35Z" fill="#8e3ca8"/>
<path d="M172.23,374.60 L171.28,376.05 L169.55,376.15 L170.33,377.70 L169.55,379.25 L171.28,379.35 L172.23,380.80 L173.18,379.35 L174.92,379.25 L174.13,377.70 L174.92,376.15 L173.18,376.05Z" fill="#8e3ca8"/>
<path d="M178.81,374.60 L177.86,376.05 L176.13,376.15 L176.91,377.70 L176.13,379.25 L177.86,379.35 L178.81,380.80 L179.76,379.35 L181.49,379.25 L180.71,377.70 L181.49,376.15 L179.76,376.05Z" fill="#8e3ca8"/>
<path d="M185.39,374.60 L184.44,376.05 L182.70,376.15 L183.49,377.70 L182.70,379.25 L184.44,379.35 L185.39,380.80 L186.34,379.35 L188.07,379.25 L187.29,377.70 L188.07,376.15 L186.34,376.05Z" fill="#8e3ca8"/>
<path d="M191.96,374.60 L191.01,376.05 L189.28,376.15 L190.06,377.70 L189.28,379.25 L191.01,379.35 L191.96,380.80 L192.91,379.35 L194.65,379.25 L193.86,377.70 L194.65,376.15 L192.91,376.05Z" fill="#8e3ca8"/>
<path d="M198.54,374.60 L197.59,376.05 L195.86,376.15 L196.64,377.70 L195.86,379.25 L197.59,379.35 L198.54,380.80 L199.49,379.35 L201.22,379.25 L200.44,377.70 L201.22,376.15 L199.49,376.05Z" fill="#8e3ca8"/>
<path d="M205.12,374.60 L204.17,376.05 L202.43,376.15 L203.22,377.70 L202.43,379.25 L204.17,379.35 L205.12,380.80 L206.07,379.35 L207.80,379.25 L207.02,377.70 L207.80,376.15 L206.07,376.05Z" fill="#8e3ca8"/>
<path d="M211.69,373.40 L210.74,374.85 L209.01,374.95 L209.79,376.50 L209.01,378.05 L210.74,378.15 L211.69,379.60 L212.64,378.15 L214.38,378.05 L213.59,376.50 L214.38,374.95 L212.64,374.85Z" fill="#8e3ca8"/>
<path d="M218.27,370.50 L217.32,371.95 L215.59,372.05 L216.37,373.60 L215.59,375.15 L217.32,375.25 L218.27,376.70 L219.22,375.25 L220.95,375.15 L220.17,373.60 L220.95,372.05 L219.22,371.95Z" fill="#8e3ca8"/>
<path d="M224.85,364.20 L223.90,365.65 L222.16,365.75 L222.95,367.30 L222.16,368.85 L223.90,368.95 L224.85,370.40 L225.80,368.95 L227.53,368.85 L226.75,367.30 L227.53,365.75 L225.80,365.65Z" fill="#8e3ca8"/>
<path d="M231.42,353.80 L230.47,355.25 L228.74,355.35 L229.52,356.90 L228.74,358.45 L230.47,358.55 L231.42,360.00 L232.37,358.55 L234.11,358.45 L233.32,356.90 L234.11,355.35 L232.37,355.25Z" fill="#8e3ca8"/>
<rect x="40.70" y="215.60" width="197.30" height="162.30" fill="none" stroke="#262626" stroke-width="1.2"/>
<line x1="106.47" y1="377.90" x2="106.47" y2="375.90" stroke="#262626" stroke-width="1"/>
<line x1="106.47" y1="215.60" x2="106.47" y2="217.60" stroke="#262626" stroke-width="1"/>
<line x1="172.23" y1="377.90" x2="172.23" y2="375.90" stroke="#262626" stroke-width="1"/>
<line x1="172.23" y1="215.60" x2="172.23" y2="217.60" stroke="#262626" stroke-width="1"/>
<line x1="40.70" y1="377.90" x2="42.70" y2="377.90" stroke="#262626" stroke-width="1"/>
<line x1="238.00" y1="377.90" x2="236.00" y2="377.90" stroke="#262626" stroke-width="1"/>
<line x1="40.70" y1="350.85" x2="42.70" y2="350.85" stroke="#262626" stroke-width="1"/>
<line x1="238.00" y1="350.85" x2="236.00" y2="350.85" stroke="#262626" stroke-width="1"/>
<line x1="40.70" y1="323.80" x2="42.70" y2="323.80" stroke="#262626" stroke-width="1"/>
<line x1="238.00" y1="323.80" x2="236.00" y2="323.80" stroke="#262626" stroke-width="1"/>
<line x1="40.70" y1="296.75" x2="42.70" y2="296.75" stroke="#262626" stroke-width="1"/>
<line x1="238.00" y1="296.75" x2="236.00" y2="296.75" stroke="#262626" stroke-width="1"/>
<line x1="40.70" y1="269.70" x2="42.70" y2="269.70" stroke="#262626" stroke-width="1"/>
<line x1="238.00" y1="269.70" x2="236.00" y2="269.70" stroke="#262626" stroke-width="1"/>
<line x1="40.70" y1="242.65" x2="42.70" y2="242.65" stroke="#262626" stroke-width="1"/>
<line x1="238.00" y1="242.65" x2="236.00" y2="242.65" stroke="#262626" stroke-width="1"/>
<line x1="40.70" y1="215.60" x2="42.70" y2="215.60" stroke="#262626" stroke-width="1"/>
<line x1="238.00" y1="215.60" x2="236.00" y2="215.60" stroke="#262626" stroke-width="1"/>
<text transform="translate(40.70,393.70) scale(1,1.07)" font-size="12.6" text-anchor="middle">0</text>
<text transform="translate(106.47,393.70) scale(1,1.07)" font-size="12.6" text-anchor="middle">0.1</text>
<text transform="translate(172.23,393.70) scale(1,1.07)" font-size="12.6" text-anchor="middle">0.2</text>
<text transform="translate(238.00,393.70) scale(1,1.07)" font-size="12.6" text-anchor="middle">0.3</text>
<text transform="translate(36.90,382.90) scale(1,1.07)" font-size="12.6" text-anchor="end">0</text>
<text transform="translate(36.90,355.85) scale(1,1.07)" font-size="12.6" text-anchor="end">10</text>
<text transform="translate(36.90,328.80) scale(1,1.07)" font-size="12.6" text-anchor="end">20</text>
<text transform="translate(36.90,301.75) scale(1,1.07)" font-size="12.6" text-anchor="end">30</text>
<text transform="translate(36.90,274.70) scale(1,1.07)" font-size="12.6" text-anchor="end">40</text>
<text transform="translate(36.90,247.65) scale(1,1.07)" font-size="12.6" text-anchor="end">50</text>
<text transform="translate(36.90,220.60) scale(1,1.07)" font-size="12.6" text-anchor="end">60</text>
<text x="139.35" y="408.90" font-size="14" text-anchor="middle"><tspan font-style="italic">r</tspan> (m)</text>
<text transform="translate(13.80,296.75) rotate(-90)" x="0" y="0" font-size="14" text-anchor="middle"><tspan font-style="italic">T</tspan><tspan font-size="10.5" dy="6.8" font-style="italic">tot</tspan><tspan dy="-6.8"> (eV)</tspan></text>
<rect x="164.30" y="242.20" width="64.4" height="54.1" fill="#fff" stroke="#262626" stroke-width="1.1"/>
<path d="M165.80,249.90 L178.40,249.90" fill="none" stroke="#3445b0" stroke-width="1.2" stroke-dasharray="1.1,1.4"/>
<path d="M170.20,248.00L174.00,251.80M170.20,251.80L174.00,248.00" stroke="#3445b0" stroke-width="1.1"/>
<text transform="translate(182.10,254.10) scale(1,1.1)" font-size="11.3">point coil</text>
<path d="M165.80,263.00 L178.40,263.00" fill="none" stroke="#74c44a" stroke-width="1.6" stroke-dasharray="4.2,2.8"/>
<text transform="translate(182.10,267.20) scale(1,1.1)" font-size="11.3">coil 6cm</text>
<path d="M165.80,276.10 L178.40,276.10" fill="none" stroke="#dd2326" stroke-width="1.6"/>
<text transform="translate(182.10,280.30) scale(1,1.1)" font-size="11.3">coil 10cm</text>
<path d="M165.80,289.20 L178.40,289.20" fill="none" stroke="#8e3ca8" stroke-width="1.6"/>
<path d="M172.10,286.10 L171.15,287.55 L169.42,287.65 L170.20,289.20 L169.42,290.75 L171.15,290.85 L172.10,292.30 L173.05,290.85 L174.78,290.75 L174.00,289.20 L174.78,287.65 L173.05,287.55Z" fill="#8e3ca8"/>
<text transform="translate(182.10,293.40) scale(1,1.1)" font-size="11.3">coil 14cm</text>
<line x1="399.70" y1="215.60" x2="399.70" y2="377.90" stroke="#e6e6e6" stroke-width="1"/>
<line x1="463.10" y1="215.60" x2="463.10" y2="377.90" stroke="#e6e6e6" stroke-width="1"/>
<line x1="336.30" y1="350.85" x2="526.50" y2="350.85" stroke="#e6e6e6" stroke-width="1"/>
<line x1="336.30" y1="323.80" x2="526.50" y2="323.80" stroke="#e6e6e6" stroke-width="1"/>
<line x1="336.30" y1="296.75" x2="526.50" y2="296.75" stroke="#e6e6e6" stroke-width="1"/>
<line x1="336.30" y1="269.70" x2="526.50" y2="269.70" stroke="#e6e6e6" stroke-width="1"/>
<line x1="336.30" y1="242.65" x2="526.50" y2="242.65" stroke="#e6e6e6" stroke-width="1"/>
<path d="M336.30,268.50 C337.36,268.33 340.53,268.05 342.64,267.50 C344.75,266.95 346.87,266.20 348.98,265.20 C351.09,264.20 353.21,262.77 355.32,261.50 C357.43,260.23 359.55,258.82 361.66,257.60 C363.77,256.38 365.89,255.17 368.00,254.20 C370.11,253.23 372.23,252.40 374.34,251.80 C376.45,251.20 378.57,250.73 380.68,250.60 C382.79,250.47 384.91,250.47 387.02,251.00 C389.13,251.53 391.25,252.70 393.36,253.80 C395.47,254.90 397.59,256.07 399.70,257.60 C401.81,259.13 403.93,261.05 406.04,263.00 C408.15,264.95 410.27,267.05 412.38,269.30 C414.49,271.55 416.61,274.13 418.72,276.50 C420.83,278.87 422.95,281.13 425.06,283.50 C427.17,285.87 429.29,288.65 431.40,290.70 C433.51,292.75 435.63,294.45 437.74,295.80 C439.85,297.15 441.97,297.88 444.08,298.80 C446.19,299.72 448.31,300.62 450.42,301.30 C452.53,301.98 454.65,302.35 456.76,302.90 C458.87,303.45 460.99,304.08 463.10,304.60 C465.21,305.12 467.33,305.53 469.44,306.00 C471.55,306.47 473.67,306.88 475.78,307.40 C477.89,307.92 480.01,308.55 482.12,309.10 C484.23,309.65 486.35,310.20 488.46,310.70 C490.57,311.20 492.69,311.62 494.80,312.10 C496.91,312.58 499.03,313.08 501.14,313.60 C503.25,314.12 505.37,314.70 507.48,315.20 C509.59,315.70 511.71,316.18 513.82,316.60 C515.93,317.02 519.10,317.52 520.16,317.70" fill="none" stroke="#74c44a" stroke-width="1.6" stroke-dasharray="4.2,2.8"/>
<path d="M336.30,266.80 C337.36,266.67 340.53,266.50 342.64,266.00 C344.75,265.50 346.87,264.63 348.98,263.80 C351.09,262.97 353.21,262.03 355.32,261.00 C357.43,259.97 359.55,258.77 361.66,257.60 C363.77,256.43 365.89,255.03 368.00,254.00 C370.11,252.97 372.23,252.00 374.34,251.40 C376.45,250.80 378.57,250.40 380.68,250.40 C382.79,250.40 384.91,250.80 387.02,251.40 C389.13,252.00 391.25,252.88 393.36,254.00 C395.47,255.12 397.59,256.47 399.70,258.10 C401.81,259.73 403.93,261.73 406.04,263.80 C408.15,265.87 410.27,268.05 412.38,270.50 C414.49,272.95 416.61,275.95 418.72,278.50 C420.83,281.05 422.95,283.43 425.06,285.80 C427.17,288.17 429.29,290.70 431.40,292.70 C433.51,294.70 435.63,296.27 437.74,297.80 C439.85,299.33 441.97,300.70 444.08,301.90 C446.19,303.10 448.31,304.15 450.42,305.00 C452.53,305.85 454.65,306.38 456.76,307.00 C458.87,307.62 460.99,308.18 463.10,308.70 C465.21,309.22 467.33,309.60 469.44,310.10 C471.55,310.60 473.67,311.12 475.78,311.70 C477.89,312.28 480.01,313.02 482.12,313.60 C484.23,314.18 486.35,314.67 488.46,315.20 C490.57,315.73 492.69,316.28 494.80,316.80 C496.91,317.32 499.03,317.82 501.14,318.30 C503.25,318.78 505.37,319.27 507.48,319.70 C509.59,320.13 511.71,320.45 513.82,320.90 C515.93,321.35 519.10,322.15 520.16,322.40" fill="none" stroke="#3445b0" stroke-width="1.2" stroke-dasharray="1.1,1.4"/>
<path d="M334.40,264.90L338.20,268.70M334.40,268.70L338.20,264.90" stroke="#3445b0" stroke-width="1.1"/>
<path d="M340.74,264.10L344.54,267.90M340.74,267.90L344.54,264.10" stroke="#3445b0" stroke-width="1.1"/>
<path d="M347.08,261.90L350.88,265.70M347.08,265.70L350.88,261.90" stroke="#3445b0" stroke-width="1.1"/>
<path d="M353.42,259.10L357.22,262.90M353.42,262.90L357.22,259.10" stroke="#3445b0" stroke-width="1.1"/>
<path d="M359.76,255.70L363.56,259.50M359.76,259.50L363.56,255.70" stroke="#3445b0" stroke-width="1.1"/>
<path d="M366.10,252.10L369.90,255.90M366.10,255.90L369.90,252.10" stroke="#3445b0" stroke-width="1.1"/>
<path d="M372.44,249.50L376.24,253.30M372.44,253.30L376.24,249.50" stroke="#3445b0" stroke-width="1.1"/>
<path d="M378.78,248.50L382.58,252.30M378.78,252.30L382.58,248.50" stroke="#3445b0" stroke-width="1.1"/>
<path d="M385.12,249.50L388.92,253.30M385.12,253.30L388.92,249.50" stroke="#3445b0" stroke-width="1.1"/>
<path d="M391.46,252.10L395.26,255.90M391.46,255.90L395.26,252.10" stroke="#3445b0" stroke-width="1.1"/>
<path d="M397.80,256.20L401.60,260.00M397.80,260.00L401.60,256.20" stroke="#3445b0" stroke-width="1.1"/>
<path d="M404.14,261.90L407.94,265.70M404.14,265.70L407.94,261.90" stroke="#3445b0" stroke-width="1.1"/>
<path d="M410.48,268.60L414.28,272.40M410.48,272.40L414.28,268.60" stroke="#3445b0" stroke-width="1.1"/>
<path d="M416.82,276.60L420.62,280.40M416.82,280.40L420.62,276.60" stroke="#3445b0" stroke-width="1.1"/>
<path d="M423.16,283.90L426.96,287.70M423.16,287.70L426.96,283.90" stroke="#3445b0" stroke-width="1.1"/>
<path d="M429.50,290.80L433.30,294.60M429.50,294.60L433.30,290.80" stroke="#3445b0" stroke-width="1.1"/>
<path d="M435.84,295.90L439.64,299.70M435.84,299.70L439.64,295.90" stroke="#3445b0" stroke-width="1.1"/>
<path d="M442.18,300.00L445.98,303.80M442.18,303.80L445.98,300.00" stroke="#3445b0" stroke-width="1.1"/>
<path d="M448.52,303.10L452.32,306.90M448.52,306.90L452.32,303.10" stroke="#3445b0" stroke-width="1.1"/>
<path d="M454.86,305.10L458.66,308.90M454.86,308.90L458.66,305.10" stroke="#3445b0" stroke-width="1.1"/>
<path d="M461.20,306.80L465.00,310.60M461.20,310.60L465.00,306.80" stroke="#3445b0" stroke-width="1.1"/>
<path d="M467.54,308.20L471.34,312.00M467.54,312.00L471.34,308.20" stroke="#3445b0" stroke-width="1.1"/>
<path d="M473.88,309.80L477.68,313.60M473.88,313.60L477.68,309.80" stroke="#3445b0" stroke-width="1.1"/>
<path d="M480.22,311.70L484.02,315.50M480.22,315.50L484.02,311.70" stroke="#3445b0" stroke-width="1.1"/>
<path d="M486.56,313.30L490.36,317.10M486.56,317.10L490.36,313.30" stroke="#3445b0" stroke-width="1.1"/>
<path d="M492.90,314.90L496.70,318.70M492.90,318.70L496.70,314.90" stroke="#3445b0" stroke-width="1.1"/>
<path d="M499.24,316.40L503.04,320.20M499.24,320.20L503.04,316.40" stroke="#3445b0" stroke-width="1.1"/>
<path d="M505.58,317.80L509.38,321.60M505.58,321.60L509.38,317.80" stroke="#3445b0" stroke-width="1.1"/>
<path d="M511.92,319.00L515.72,322.80M511.92,322.80L515.72,319.00" stroke="#3445b0" stroke-width="1.1"/>
<path d="M518.26,320.50L522.06,324.30M518.26,324.30L522.06,320.50" stroke="#3445b0" stroke-width="1.1"/>
<path d="M336.30,267.20 C337.36,267.10 340.53,266.93 342.64,266.60 C344.75,266.27 346.87,266.00 348.98,265.20 C351.09,264.40 353.21,263.20 355.32,261.80 C357.43,260.40 359.55,258.77 361.66,256.80 C363.77,254.83 365.89,252.23 368.00,250.00 C370.11,247.77 372.23,245.13 374.34,243.40 C376.45,241.67 378.57,240.38 380.68,239.60 C382.79,238.82 384.91,238.38 387.02,238.70 C389.13,239.02 391.25,240.15 393.36,241.50 C395.47,242.85 397.59,244.63 399.70,246.80 C401.81,248.97 403.93,251.72 406.04,254.50 C408.15,257.28 410.27,260.75 412.38,263.50 C414.49,266.25 416.61,268.72 418.72,271.00 C420.83,273.28 422.95,275.02 425.06,277.20 C427.17,279.38 429.29,282.20 431.40,284.10 C433.51,286.00 435.63,287.33 437.74,288.60 C439.85,289.87 441.97,290.75 444.08,291.70 C446.19,292.65 448.31,293.52 450.42,294.30 C452.53,295.08 454.65,295.82 456.76,296.40 C458.87,296.98 460.99,297.28 463.10,297.80 C465.21,298.32 467.33,298.98 469.44,299.50 C471.55,300.02 473.67,300.43 475.78,300.90 C477.89,301.37 480.01,301.82 482.12,302.30 C484.23,302.78 486.35,303.28 488.46,303.80 C490.57,304.32 492.69,304.87 494.80,305.40 C496.91,305.93 499.03,306.52 501.14,307.00 C503.25,307.48 505.37,307.95 507.48,308.30 C509.59,308.65 511.71,309.03 513.82,309.10 C515.93,309.17 519.10,308.77 520.16,308.70" fill="none" stroke="#dd2326" stroke-width="1.6"/>
<path d="M336.30,264.30 C337.36,264.17 340.53,264.05 342.64,263.50 C344.75,262.95 346.87,262.12 348.98,261.00 C351.09,259.88 353.21,258.57 355.32,256.80 C357.43,255.03 359.55,252.68 361.66,250.40 C363.77,248.12 365.89,245.43 368.00,243.10 C370.11,240.77 372.23,238.08 374.34,236.40 C376.45,234.72 378.57,233.65 380.68,233.00 C382.79,232.35 384.91,231.97 387.02,232.50 C389.13,233.03 391.25,234.67 393.36,236.20 C395.47,237.73 397.59,239.52 399.70,241.70 C401.81,243.88 403.93,246.73 406.04,249.30 C408.15,251.87 410.27,254.52 412.38,257.10 C414.49,259.68 416.61,262.23 418.72,264.80 C420.83,267.37 422.95,270.23 425.06,272.50 C427.17,274.77 429.29,276.67 431.40,278.40 C433.51,280.13 435.63,281.60 437.74,282.90 C439.85,284.20 441.97,285.15 444.08,286.20 C446.19,287.25 448.31,288.28 450.42,289.20 C452.53,290.12 454.65,290.95 456.76,291.70 C458.87,292.45 460.99,293.02 463.10,293.70 C465.21,294.38 467.33,295.18 469.44,295.80 C471.55,296.42 473.67,296.90 475.78,297.40 C477.89,297.90 480.01,298.32 482.12,298.80 C484.23,299.28 486.35,299.85 488.46,300.30 C490.57,300.75 492.69,301.13 494.80,301.50 C496.91,301.87 499.03,302.20 501.14,302.50 C503.25,302.80 505.37,303.17 507.48,303.30 C509.59,303.43 511.71,303.43 513.82,303.30 C515.93,303.17 519.10,302.63 520.16,302.50" fill="none" stroke="#8e3ca8" stroke-width="1.6"/>
<path d="M336.30,261.20 L335.35,262.65 L333.62,262.75 L334.40,264.30 L333.62,265.85 L335.35,265.95 L336.30,267.40 L337.25,265.95 L338.98,265.85 L338.20,264.30 L338.98,262.75 L337.25,262.65Z" fill="#8e3ca8"/>
<path d="M342.64,260.40 L341.69,261.85 L339.96,261.95 L340.74,263.50 L339.96,265.05 L341.69,265.15 L342.64,266.60 L343.59,265.15 L345.32,265.05 L344.54,263.50 L345.32,261.95 L343.59,261.85Z" fill="#8e3ca8"/>
<path d="M348.98,257.90 L348.03,259.35 L346.30,259.45 L347.08,261.00 L346.30,262.55 L348.03,262.65 L348.98,264.10 L349.93,262.65 L351.66,262.55 L350.88,261.00 L351.66,259.45 L349.93,259.35Z" fill="#8e3ca8"/>
<path d="M355.32,253.70 L354.37,255.15 L352.64,255.25 L353.42,256.80 L352.64,258.35 L354.37,258.45 L355.32,259.90 L356.27,258.45 L358.00,258.35 L357.22,256.80 L358.00,255.25 L356.27,255.15Z" fill="#8e3ca8"/>
<path d="M361.66,247.30 L360.71,248.75 L358.98,248.85 L359.76,250.40 L358.98,251.95 L360.71,252.05 L361.66,253.50 L362.61,252.05 L364.34,251.95 L363.56,250.40 L364.34,248.85 L362.61,248.75Z" fill="#8e3ca8"/>
<path d="M368.00,240.00 L367.05,241.45 L365.32,241.55 L366.10,243.10 L365.32,244.65 L367.05,244.75 L368.00,246.20 L368.95,244.75 L370.68,244.65 L369.90,243.10 L370.68,241.55 L368.95,241.45Z" fill="#8e3ca8"/>
<path d="M374.34,233.30 L373.39,234.75 L371.66,234.85 L372.44,236.40 L371.66,237.95 L373.39,238.05 L374.34,239.50 L375.29,238.05 L377.02,237.95 L376.24,236.40 L377.02,234.85 L375.29,234.75Z" fill="#8e3ca8"/>
<path d="M380.68,229.90 L379.73,231.35 L378.00,231.45 L378.78,233.00 L378.00,234.55 L379.73,234.65 L380.68,236.10 L381.63,234.65 L383.36,234.55 L382.58,233.00 L383.36,231.45 L381.63,231.35Z" fill="#8e3ca8"/>
<path d="M387.02,229.40 L386.07,230.85 L384.34,230.95 L385.12,232.50 L384.34,234.05 L386.07,234.15 L387.02,235.60 L387.97,234.15 L389.70,234.05 L388.92,232.50 L389.70,230.95 L387.97,230.85Z" fill="#8e3ca8"/>
<path d="M393.36,233.10 L392.41,234.55 L390.68,234.65 L391.46,236.20 L390.68,237.75 L392.41,237.85 L393.36,239.30 L394.31,237.85 L396.04,237.75 L395.26,236.20 L396.04,234.65 L394.31,234.55Z" fill="#8e3ca8"/>
<path d="M399.70,238.60 L398.75,240.05 L397.02,240.15 L397.80,241.70 L397.02,243.25 L398.75,243.35 L399.70,244.80 L400.65,243.35 L402.38,243.25 L401.60,241.70 L402.38,240.15 L400.65,240.05Z" fill="#8e3ca8"/>
<path d="M406.04,246.20 L405.09,247.65 L403.36,247.75 L404.14,249.30 L403.36,250.85 L405.09,250.95 L406.04,252.40 L406.99,250.95 L408.72,250.85 L407.94,249.30 L408.72,247.75 L406.99,247.65Z" fill="#8e3ca8"/>
<path d="M412.38,254.00 L411.43,255.45 L409.70,255.55 L410.48,257.10 L409.70,258.65 L411.43,258.75 L412.38,260.20 L413.33,258.75 L415.06,258.65 L414.28,257.10 L415.06,255.55 L413.33,255.45Z" fill="#8e3ca8"/>
<path d="M418.72,261.70 L417.77,263.15 L416.04,263.25 L416.82,264.80 L416.04,266.35 L417.77,266.45 L418.72,267.90 L419.67,266.45 L421.40,266.35 L420.62,264.80 L421.40,263.25 L419.67,263.15Z" fill="#8e3ca8"/>
<path d="M425.06,269.40 L424.11,270.85 L422.38,270.95 L423.16,272.50 L422.38,274.05 L424.11,274.15 L425.06,275.60 L426.01,274.15 L427.74,274.05 L426.96,272.50 L427.74,270.95 L426.01,270.85Z" fill="#8e3ca8"/>
<path d="M431.40,275.30 L430.45,276.75 L428.72,276.85 L429.50,278.40 L428.72,279.95 L430.45,280.05 L431.40,281.50 L432.35,280.05 L434.08,279.95 L433.30,278.40 L434.08,276.85 L432.35,276.75Z" fill="#8e3ca8"/>
<path d="M437.74,279.80 L436.79,281.25 L435.06,281.35 L435.84,282.90 L435.06,284.45 L436.79,284.55 L437.74,286.00 L438.69,284.55 L440.42,284.45 L439.64,282.90 L440.42,281.35 L438.69,281.25Z" fill="#8e3ca8"/>
<path d="M444.08,283.10 L443.13,284.55 L441.40,284.65 L442.18,286.20 L441.40,287.75 L443.13,287.85 L444.08,289.30 L445.03,287.85 L446.76,287.75 L445.98,286.20 L446.76,284.65 L445.03,284.55Z" fill="#8e3ca8"/>
<path d="M450.42,286.10 L449.47,287.55 L447.74,287.65 L448.52,289.20 L447.74,290.75 L449.47,290.85 L450.42,292.30 L451.37,290.85 L453.10,290.75 L452.32,289.20 L453.10,287.65 L451.37,287.55Z" fill="#8e3ca8"/>
<path d="M456.76,288.60 L455.81,290.05 L454.08,290.15 L454.86,291.70 L454.08,293.25 L455.81,293.35 L456.76,294.80 L457.71,293.35 L459.44,293.25 L458.66,291.70 L459.44,290.15 L457.71,290.05Z" fill="#8e3ca8"/>
<path d="M463.10,290.60 L462.15,292.05 L460.42,292.15 L461.20,293.70 L460.42,295.25 L462.15,295.35 L463.10,296.80 L464.05,295.35 L465.78,295.25 L465.00,293.70 L465.78,292.15 L464.05,292.05Z" fill="#8e3ca8"/>
<path d="M469.44,292.70 L468.49,294.15 L466.76,294.25 L467.54,295.80 L466.76,297.35 L468.49,297.45 L469.44,298.90 L470.39,297.45 L472.12,297.35 L471.34,295.80 L472.12,294.25 L470.39,294.15Z" fill="#8e3ca8"/>
<path d="M475.78,294.30 L474.83,295.75 L473.10,295.85 L473.88,297.40 L473.10,298.95 L474.83,299.05 L475.78,300.50 L476.73,299.05 L478.46,298.95 L477.68,297.40 L478.46,295.85 L476.73,295.75Z" fill="#8e3ca8"/>
<path d="M482.12,295.70 L481.17,297.15 L479.44,297.25 L480.22,298.80 L479.44,300.35 L481.17,300.45 L482.12,301.90 L483.07,300.45 L484.80,300.35 L484.02,298.80 L484.80,297.25 L483.07,297.15Z" fill="#8e3ca8"/>
<path d="M488.46,297.20 L487.51,298.65 L485.78,298.75 L486.56,300.30 L485.78,301.85 L487.51,301.95 L488.46,303.40 L489.41,301.95 L491.14,301.85 L490.36,300.30 L491.14,298.75 L489.41,298.65Z" fill="#8e3ca8"/>
<path d="M494.80,298.40 L493.85,299.85 L492.12,299.95 L492.90,301.50 L492.12,303.05 L493.85,303.15 L494.80,304.60 L495.75,303.15 L497.48,303.05 L496.70,301.50 L497.48,299.95 L495.75,299.85Z" fill="#8e3ca8"/>
<path d="M501.14,299.40 L500.19,300.85 L498.46,300.95 L499.24,302.50 L498.46,304.05 L500.19,304.15 L501.14,305.60 L502.09,304.15 L503.82,304.05 L503.04,302.50 L503.82,300.95 L502.09,300.85Z" fill="#8e3ca8"/>
<path d="M507.48,300.20 L506.53,301.65 L504.80,301.75 L505.58,303.30 L504.80,304.85 L506.53,304.95 L507.48,306.40 L508.43,304.95 L510.16,304.85 L509.38,303.30 L510.16,301.75 L508.43,301.65Z" fill="#8e3ca8"/>
<path d="M513.82,300.20 L512.87,301.65 L511.14,301.75 L511.92,303.30 L511.14,304.85 L512.87,304.95 L513.82,306.40 L514.77,304.95 L516.50,304.85 L515.72,303.30 L516.50,301.75 L514.77,301.65Z" fill="#8e3ca8"/>
<path d="M520.16,299.40 L519.21,300.85 L517.48,300.95 L518.26,302.50 L517.48,304.05 L519.21,304.15 L520.16,305.60 L521.11,304.15 L522.84,304.05 L522.06,302.50 L522.84,300.95 L521.11,300.85Z" fill="#8e3ca8"/>
<rect x="336.30" y="215.60" width="190.20" height="162.30" fill="none" stroke="#262626" stroke-width="1.2"/>
<line x1="399.70" y1="377.90" x2="399.70" y2="375.90" stroke="#262626" stroke-width="1"/>
<line x1="399.70" y1="215.60" x2="399.70" y2="217.60" stroke="#262626" stroke-width="1"/>
<line x1="463.10" y1="377.90" x2="463.10" y2="375.90" stroke="#262626" stroke-width="1"/>
<line x1="463.10" y1="215.60" x2="463.10" y2="217.60" stroke="#262626" stroke-width="1"/>
<line x1="336.30" y1="377.90" x2="338.30" y2="377.90" stroke="#262626" stroke-width="1"/>
<line x1="526.50" y1="377.90" x2="524.50" y2="377.90" stroke="#262626" stroke-width="1"/>
<line x1="336.30" y1="350.85" x2="338.30" y2="350.85" stroke="#262626" stroke-width="1"/>
<line x1="526.50" y1="350.85" x2="524.50" y2="350.85" stroke="#262626" stroke-width="1"/>
<line x1="336.30" y1="323.80" x2="338.30" y2="323.80" stroke="#262626" stroke-width="1"/>
<line x1="526.50" y1="323.80" x2="524.50" y2="323.80" stroke="#262626" stroke-width="1"/>
<line x1="336.30" y1="296.75" x2="338.30" y2="296.75" stroke="#262626" stroke-width="1"/>
<line x1="526.50" y1="296.75" x2="524.50" y2="296.75" stroke="#262626" stroke-width="1"/>
<line x1="336.30" y1="269.70" x2="338.30" y2="269.70" stroke="#262626" stroke-width="1"/>
<line x1="526.50" y1="269.70" x2="524.50" y2="269.70" stroke="#262626" stroke-width="1"/>
<line x1="336.30" y1="242.65" x2="338.30" y2="242.65" stroke="#262626" stroke-width="1"/>
<line x1="526.50" y1="242.65" x2="524.50" y2="242.65" stroke="#262626" stroke-width="1"/>
<line x1="336.30" y1="215.60" x2="338.30" y2="215.60" stroke="#262626" stroke-width="1"/>
<line x1="526.50" y1="215.60" x2="524.50" y2="215.60" stroke="#262626" stroke-width="1"/>
<text transform="translate(336.30,393.70) scale(1,1.07)" font-size="12.6" text-anchor="middle">0</text>
<text transform="translate(399.70,393.70) scale(1,1.07)" font-size="12.6" text-anchor="middle">0.1</text>
<text transform="translate(463.10,393.70) scale(1,1.07)" font-size="12.6" text-anchor="middle">0.2</text>
<text transform="translate(526.50,393.70) scale(1,1.07)" font-size="12.6" text-anchor="middle">0.3</text>
<text transform="translate(332.50,382.90) scale(1,1.07)" font-size="12.6" text-anchor="end">0</text>
<text transform="translate(332.50,355.85) scale(1,1.07)" font-size="12.6" text-anchor="end">0.5</text>
<text transform="translate(332.50,328.80) scale(1,1.07)" font-size="12.6" text-anchor="end">1</text>
<text transform="translate(332.50,301.75) scale(1,1.07)" font-size="12.6" text-anchor="end">1.5</text>
<text transform="translate(332.50,274.70) scale(1,1.07)" font-size="12.6" text-anchor="end">2</text>
<text transform="translate(332.50,247.65) scale(1,1.07)" font-size="12.6" text-anchor="end">2.5</text>
<text transform="translate(332.50,220.60) scale(1,1.07)" font-size="12.6" text-anchor="end">3</text>
<text x="431.40" y="408.90" font-size="14" text-anchor="middle"><tspan font-style="italic">r</tspan> (m)</text>
<text transform="translate(306.00,297.55) rotate(-90)" x="0" y="0" font-size="14" text-anchor="middle"><tspan font-style="italic">n</tspan><tspan font-size="10.5" dy="6.8" font-style="italic">e</tspan><tspan dy="-6.8"> (10</tspan><tspan font-size="11.5" dy="-6.5">22</tspan><tspan dy="6.5">m</tspan><tspan font-size="11.5" dy="-6.5">-3</tspan><tspan dy="6.5">)</tspan></text>
<rect x="340.70" y="304.10" width="64.4" height="54.1" fill="#fff" stroke="#262626" stroke-width="1.1"/>
<path d="M342.20,311.80 L354.80,311.80" fill="none" stroke="#3445b0" stroke-width="1.2" stroke-dasharray="1.1,1.4"/>
<path d="M346.60,309.90L350.40,313.70M346.60,313.70L350.40,309.90" stroke="#3445b0" stroke-width="1.1"/>
<text transform="translate(358.50,316.00) scale(1,1.1)" font-size="11.3">point coil</text>
<path d="M342.20,324.90 L354.80,324.90" fill="none" stroke="#74c44a" stroke-width="1.6" stroke-dasharray="4.2,2.8"/>
<text transform="translate(358.50,329.10) scale(1,1.1)" font-size="11.3">coil 6cm</text>
<path d="M342.20,338.00 L354.80,338.00" fill="none" stroke="#dd2326" stroke-width="1.6"/>
<text transform="translate(358.50,342.20) scale(1,1.1)" font-size="11.3">coil 10cm</text>
<path d="M342.20,351.10 L354.80,351.10" fill="none" stroke="#8e3ca8" stroke-width="1.6"/>
<path d="M348.50,348.00 L347.55,349.45 L345.82,349.55 L346.60,351.10 L345.82,352.65 L347.55,352.75 L348.50,354.20 L349.45,352.75 L351.18,352.65 L350.40,351.10 L351.18,349.55 L349.45,349.45Z" fill="#8e3ca8"/>
<text transform="translate(358.50,355.30) scale(1,1.1)" font-size="11.3">coil 14cm</text>
<line x1="110.83" y1="442.30" x2="110.83" y2="603.20" stroke="#e6e6e6" stroke-width="1"/>
<line x1="176.17" y1="442.30" x2="176.17" y2="603.20" stroke="#e6e6e6" stroke-width="1"/>
<line x1="45.50" y1="578.45" x2="241.50" y2="578.45" stroke="#e6e6e6" stroke-width="1"/>
<line x1="45.50" y1="553.69" x2="241.50" y2="553.69" stroke="#e6e6e6" stroke-width="1"/>
<line x1="45.50" y1="528.94" x2="241.50" y2="528.94" stroke="#e6e6e6" stroke-width="1"/>
<line x1="45.50" y1="504.18" x2="241.50" y2="504.18" stroke="#e6e6e6" stroke-width="1"/>
<line x1="45.50" y1="479.43" x2="241.50" y2="479.43" stroke="#e6e6e6" stroke-width="1"/>
<line x1="45.50" y1="454.68" x2="241.50" y2="454.68" stroke="#e6e6e6" stroke-width="1"/>
<path d="M45.50,593.50 C46.59,593.45 49.86,593.42 52.03,593.20 C54.21,592.98 56.39,592.68 58.57,592.20 C60.74,591.72 62.92,591.17 65.10,590.30 C67.28,589.43 69.46,588.85 71.63,587.00 C73.81,585.15 75.99,582.13 78.17,579.20 C80.34,576.27 82.52,573.08 84.70,569.40 C86.88,565.72 89.06,561.87 91.23,557.10 C93.41,552.33 95.59,546.12 97.77,540.80 C99.94,535.48 102.12,530.95 104.30,525.20 C106.48,519.45 108.66,512.05 110.83,506.30 C113.01,500.55 115.19,495.25 117.37,490.70 C119.54,486.15 121.72,482.35 123.90,479.00 C126.08,475.65 128.26,472.87 130.43,470.60 C132.61,468.33 134.79,466.92 136.97,465.40 C139.14,463.88 141.32,462.53 143.50,461.50 C145.68,460.47 147.86,459.75 150.03,459.20 C152.21,458.65 154.39,458.37 156.57,458.20 C158.74,458.03 160.92,458.02 163.10,458.20 C165.28,458.38 167.46,458.98 169.63,459.30 C171.81,459.62 173.99,459.85 176.17,460.10 C178.34,460.35 180.52,460.48 182.70,460.80 C184.88,461.12 187.06,461.55 189.23,462.00 C191.41,462.45 193.59,462.95 195.77,463.50 C197.94,464.05 200.12,464.68 202.30,465.30 C204.48,465.92 206.66,466.47 208.83,467.20 C211.01,467.93 213.19,468.65 215.37,469.70 C217.54,470.75 219.72,472.13 221.90,473.50 C224.08,474.87 226.26,476.30 228.43,477.90 C230.61,479.50 233.88,482.23 234.97,483.10" fill="none" stroke="#74c44a" stroke-width="1.6" stroke-dasharray="4.2,2.8"/>
<path d="M45.50,592.90 C46.59,592.85 49.86,592.82 52.03,592.60 C54.21,592.38 56.39,592.10 58.57,591.60 C60.74,591.10 62.92,590.37 65.10,589.60 C67.28,588.83 69.46,588.52 71.63,587.00 C73.81,585.48 75.99,583.00 78.17,580.50 C80.34,578.00 82.52,575.37 84.70,572.00 C86.88,568.63 89.06,564.63 91.23,560.30 C93.41,555.97 95.59,550.98 97.77,546.00 C99.94,541.02 102.12,535.67 104.30,530.40 C106.48,525.13 108.66,519.50 110.83,514.40 C113.01,509.30 115.19,504.28 117.37,499.80 C119.54,495.32 121.72,491.18 123.90,487.50 C126.08,483.82 128.26,480.58 130.43,477.70 C132.61,474.82 134.79,472.42 136.97,470.20 C139.14,467.98 141.32,465.85 143.50,464.40 C145.68,462.95 147.86,462.15 150.03,461.50 C152.21,460.85 154.39,460.67 156.57,460.50 C158.74,460.33 160.92,460.45 163.10,460.50 C165.28,460.55 167.46,460.67 169.63,460.80 C171.81,460.93 173.99,461.17 176.17,461.30 C178.34,461.43 180.52,461.32 182.70,461.60 C184.88,461.88 187.06,462.57 189.23,463.00 C191.41,463.43 193.59,463.70 195.77,464.20 C197.94,464.70 200.12,465.37 202.30,466.00 C204.48,466.63 206.66,467.18 208.83,468.00 C211.01,468.82 213.19,469.82 215.37,470.90 C217.54,471.98 219.72,473.08 221.90,474.50 C224.08,475.92 226.26,477.47 228.43,479.40 C230.61,481.33 233.88,484.98 234.97,486.10" fill="none" stroke="#3445b0" stroke-width="1.2" stroke-dasharray="1.1,1.4"/>
<path d="M43.60,591.00L47.40,594.80M43.60,594.80L47.40,591.00" stroke="#3445b0" stroke-width="1.1"/>
<path d="M50.13,590.70L53.93,594.50M50.13,594.50L53.93,590.70" stroke="#3445b0" stroke-width="1.1"/>
<path d="M56.67,589.70L60.47,593.50M56.67,593.50L60.47,589.70" stroke="#3445b0" stroke-width="1.1"/>
<path d="M63.20,587.70L67.00,591.50M63.20,591.50L67.00,587.70" stroke="#3445b0" stroke-width="1.1"/>
<path d="M69.73,585.10L73.53,588.90M69.73,588.90L73.53,585.10" stroke="#3445b0" stroke-width="1.1"/>
<path d="M76.27,578.60L80.07,582.40M76.27,582.40L80.07,578.60" stroke="#3445b0" stroke-width="1.1"/>
<path d="M82.80,570.10L86.60,573.90M82.80,573.90L86.60,570.10" stroke="#3445b0" stroke-width="1.1"/>
<path d="M89.33,558.40L93.13,562.20M89.33,562.20L93.13,558.40" stroke="#3445b0" stroke-width="1.1"/>
<path d="M95.87,544.10L99.67,547.90M95.87,547.90L99.67,544.10" stroke="#3445b0" stroke-width="1.1"/>
<path d="M102.40,528.50L106.20,532.30M102.40,532.30L106.20,528.50" stroke="#3445b0" stroke-width="1.1"/>
<path d="M108.93,512.50L112.73,516.30M108.93,516.30L112.73,512.50" stroke="#3445b0" stroke-width="1.1"/>
<path d="M115.47,497.90L119.27,501.70M115.47,501.70L119.27,497.90" stroke="#3445b0" stroke-width="1.1"/>
<path d="M122.00,485.60L125.80,489.40M122.00,489.40L125.80,485.60" stroke="#3445b0" stroke-width="1.1"/>
<path d="M128.53,475.80L132.33,479.60M128.53,479.60L132.33,475.80" stroke="#3445b0" stroke-width="1.1"/>
<path d="M135.07,468.30L138.87,472.10M135.07,472.10L138.87,468.30" stroke="#3445b0" stroke-width="1.1"/>
<path d="M141.60,462.50L145.40,466.30M141.60,466.30L145.40,462.50" stroke="#3445b0" stroke-width="1.1"/>
<path d="M148.13,459.60L151.93,463.40M148.13,463.40L151.93,459.60" stroke="#3445b0" stroke-width="1.1"/>
<path d="M154.67,458.60L158.47,462.40M154.67,462.40L158.47,458.60" stroke="#3445b0" stroke-width="1.1"/>
<path d="M161.20,458.60L165.00,462.40M161.20,462.40L165.00,458.60" stroke="#3445b0" stroke-width="1.1"/>
<path d="M167.73,458.90L171.53,462.70M167.73,462.70L171.53,458.90" stroke="#3445b0" stroke-width="1.1"/>
<path d="M174.27,459.40L178.07,463.20M174.27,463.20L178.07,459.40" stroke="#3445b0" stroke-width="1.1"/>
<path d="M180.80,459.70L184.60,463.50M180.80,463.50L184.60,459.70" stroke="#3445b0" stroke-width="1.1"/>
<path d="M187.33,461.10L191.13,464.90M187.33,464.90L191.13,461.10" stroke="#3445b0" stroke-width="1.1"/>
<path d="M193.87,462.30L197.67,466.10M193.87,466.10L197.67,462.30" stroke="#3445b0" stroke-width="1.1"/>
<path d="M200.40,464.10L204.20,467.90M200.40,467.90L204.20,464.10" stroke="#3445b0" stroke-width="1.1"/>
<path d="M206.93,466.10L210.73,469.90M206.93,469.90L210.73,466.10" stroke="#3445b0" stroke-width="1.1"/>
<path d="M213.47,469.00L217.27,472.80M213.47,472.80L217.27,469.00" stroke="#3445b0" stroke-width="1.1"/>
<path d="M220.00,472.60L223.80,476.40M220.00,476.40L223.80,472.60" stroke="#3445b0" stroke-width="1.1"/>
<path d="M226.53,477.50L230.33,481.30M226.53,481.30L230.33,477.50" stroke="#3445b0" stroke-width="1.1"/>
<path d="M233.07,484.20L236.87,488.00M233.07,488.00L236.87,484.20" stroke="#3445b0" stroke-width="1.1"/>
<path d="M45.50,595.20 C46.59,595.13 49.86,594.97 52.03,594.80 C54.21,594.63 56.39,594.63 58.57,594.20 C60.74,593.77 62.92,593.18 65.10,592.20 C67.28,591.22 69.46,590.37 71.63,588.30 C73.81,586.23 75.99,583.38 78.17,579.80 C80.34,576.22 82.52,571.67 84.70,566.80 C86.88,561.93 89.06,556.45 91.23,550.60 C93.41,544.75 95.59,537.72 97.77,531.70 C99.94,525.68 102.12,520.57 104.30,514.50 C106.48,508.43 108.66,500.82 110.83,495.30 C113.01,489.78 115.19,485.52 117.37,481.40 C119.54,477.28 121.72,473.82 123.90,470.60 C126.08,467.38 128.26,464.48 130.43,462.10 C132.61,459.72 134.79,457.65 136.97,456.30 C139.14,454.95 141.32,454.48 143.50,454.00 C145.68,453.52 147.86,453.52 150.03,453.40 C152.21,453.28 154.39,453.25 156.57,453.30 C158.74,453.35 160.92,453.57 163.10,453.70 C165.28,453.83 167.46,453.90 169.63,454.10 C171.81,454.30 173.99,454.57 176.17,454.90 C178.34,455.23 180.52,455.67 182.70,456.10 C184.88,456.53 187.06,457.02 189.23,457.50 C191.41,457.98 193.59,458.45 195.77,459.00 C197.94,459.55 200.12,460.17 202.30,460.80 C204.48,461.43 206.66,462.05 208.83,462.80 C211.01,463.55 213.19,464.38 215.37,465.30 C217.54,466.22 219.72,467.07 221.90,468.30 C224.08,469.53 226.26,470.92 228.43,472.70 C230.61,474.48 233.88,477.95 234.97,479.00" fill="none" stroke="#dd2326" stroke-width="1.6"/>
<path d="M45.50,588.30 C46.59,588.20 49.86,587.92 52.03,587.70 C54.21,587.48 56.39,587.62 58.57,587.00 C60.74,586.38 62.92,585.30 65.10,584.00 C67.28,582.70 69.46,581.52 71.63,579.20 C73.81,576.88 75.99,573.57 78.17,570.10 C80.34,566.63 82.52,562.95 84.70,558.40 C86.88,553.85 89.06,548.43 91.23,542.80 C93.41,537.17 95.59,530.57 97.77,524.60 C99.94,518.63 102.12,512.75 104.30,507.00 C106.48,501.25 108.66,495.20 110.83,490.10 C113.01,485.00 115.19,480.47 117.37,476.40 C119.54,472.33 121.72,468.78 123.90,465.70 C126.08,462.62 128.26,459.95 130.43,457.90 C132.61,455.85 134.79,454.53 136.97,453.40 C139.14,452.27 141.32,451.60 143.50,451.10 C145.68,450.60 147.86,450.52 150.03,450.40 C152.21,450.28 154.39,450.23 156.57,450.40 C158.74,450.57 160.92,451.03 163.10,451.40 C165.28,451.77 167.46,452.10 169.63,452.60 C171.81,453.10 173.99,453.82 176.17,454.40 C178.34,454.98 180.52,455.53 182.70,456.10 C184.88,456.67 187.06,457.32 189.23,457.80 C191.41,458.28 193.59,458.55 195.77,459.00 C197.94,459.45 200.12,460.00 202.30,460.50 C204.48,461.00 206.66,461.50 208.83,462.00 C211.01,462.50 213.19,462.90 215.37,463.50 C217.54,464.10 219.72,464.80 221.90,465.60 C224.08,466.40 226.26,467.23 228.43,468.30 C230.61,469.37 233.88,471.38 234.97,472.00" fill="none" stroke="#8e3ca8" stroke-width="1.6"/>
<path d="M45.50,585.20 L44.55,586.65 L42.82,586.75 L43.60,588.30 L42.82,589.85 L44.55,589.95 L45.50,591.40 L46.45,589.95 L48.18,589.85 L47.40,588.30 L48.18,586.75 L46.45,586.65Z" fill="#8e3ca8"/>
<path d="M52.03,584.60 L51.08,586.05 L49.35,586.15 L50.13,587.70 L49.35,589.25 L51.08,589.35 L52.03,590.80 L52.98,589.35 L54.72,589.25 L53.93,587.70 L54.72,586.15 L52.98,586.05Z" fill="#8e3ca8"/>
<path d="M58.57,583.90 L57.62,585.35 L55.88,585.45 L56.67,587.00 L55.88,588.55 L57.62,588.65 L58.57,590.10 L59.52,588.65 L61.25,588.55 L60.47,587.00 L61.25,585.45 L59.52,585.35Z" fill="#8e3ca8"/>
<path d="M65.10,580.90 L64.15,582.35 L62.42,582.45 L63.20,584.00 L62.42,585.55 L64.15,585.65 L65.10,587.10 L66.05,585.65 L67.78,585.55 L67.00,584.00 L67.78,582.45 L66.05,582.35Z" fill="#8e3ca8"/>
<path d="M71.63,576.10 L70.68,577.55 L68.95,577.65 L69.73,579.20 L68.95,580.75 L70.68,580.85 L71.63,582.30 L72.58,580.85 L74.32,580.75 L73.53,579.20 L74.32,577.65 L72.58,577.55Z" fill="#8e3ca8"/>
<path d="M78.17,567.00 L77.22,568.45 L75.48,568.55 L76.27,570.10 L75.48,571.65 L77.22,571.75 L78.17,573.20 L79.12,571.75 L80.85,571.65 L80.07,570.10 L80.85,568.55 L79.12,568.45Z" fill="#8e3ca8"/>
<path d="M84.70,555.30 L83.75,556.75 L82.02,556.85 L82.80,558.40 L82.02,559.95 L83.75,560.05 L84.70,561.50 L85.65,560.05 L87.38,559.95 L86.60,558.40 L87.38,556.85 L85.65,556.75Z" fill="#8e3ca8"/>
<path d="M91.23,539.70 L90.28,541.15 L88.55,541.25 L89.33,542.80 L88.55,544.35 L90.28,544.45 L91.23,545.90 L92.18,544.45 L93.92,544.35 L93.13,542.80 L93.92,541.25 L92.18,541.15Z" fill="#8e3ca8"/>
<path d="M97.77,521.50 L96.82,522.95 L95.08,523.05 L95.87,524.60 L95.08,526.15 L96.82,526.25 L97.77,527.70 L98.72,526.25 L100.45,526.15 L99.67,524.60 L100.45,523.05 L98.72,522.95Z" fill="#8e3ca8"/>
<path d="M104.30,503.90 L103.35,505.35 L101.62,505.45 L102.40,507.00 L101.62,508.55 L103.35,508.65 L104.30,510.10 L105.25,508.65 L106.98,508.55 L106.20,507.00 L106.98,505.45 L105.25,505.35Z" fill="#8e3ca8"/>
<path d="M110.83,487.00 L109.88,488.45 L108.15,488.55 L108.93,490.10 L108.15,491.65 L109.88,491.75 L110.83,493.20 L111.78,491.75 L113.52,491.65 L112.73,490.10 L113.52,488.55 L111.78,488.45Z" fill="#8e3ca8"/>
<path d="M117.37,473.30 L116.42,474.75 L114.68,474.85 L115.47,476.40 L114.68,477.95 L116.42,478.05 L117.37,479.50 L118.32,478.05 L120.05,477.95 L119.27,476.40 L120.05,474.85 L118.32,474.75Z" fill="#8e3ca8"/>
<path d="M123.90,462.60 L122.95,464.05 L121.22,464.15 L122.00,465.70 L121.22,467.25 L122.95,467.35 L123.90,468.80 L124.85,467.35 L126.58,467.25 L125.80,465.70 L126.58,464.15 L124.85,464.05Z" fill="#8e3ca8"/>
<path d="M130.43,454.80 L129.48,456.25 L127.75,456.35 L128.53,457.90 L127.75,459.45 L129.48,459.55 L130.43,461.00 L131.38,459.55 L133.12,459.45 L132.33,457.90 L133.12,456.35 L131.38,456.25Z" fill="#8e3ca8"/>
<path d="M136.97,450.30 L136.02,451.75 L134.28,451.85 L135.07,453.40 L134.28,454.95 L136.02,455.05 L136.97,456.50 L137.92,455.05 L139.65,454.95 L138.87,453.40 L139.65,451.85 L137.92,451.75Z" fill="#8e3ca8"/>
<path d="M143.50,448.00 L142.55,449.45 L140.82,449.55 L141.60,451.10 L140.82,452.65 L142.55,452.75 L143.50,454.20 L144.45,452.75 L146.18,452.65 L145.40,451.10 L146.18,449.55 L144.45,449.45Z" fill="#8e3ca8"/>
<path d="M150.03,447.30 L149.08,448.75 L147.35,448.85 L148.13,450.40 L147.35,451.95 L149.08,452.05 L150.03,453.50 L150.98,452.05 L152.72,451.95 L151.93,450.40 L152.72,448.85 L150.98,448.75Z" fill="#8e3ca8"/>
<path d="M156.57,447.30 L155.62,448.75 L153.88,448.85 L154.67,450.40 L153.88,451.95 L155.62,452.05 L156.57,453.50 L157.52,452.05 L159.25,451.95 L158.47,450.40 L159.25,448.85 L157.52,448.75Z" fill="#8e3ca8"/>
<path d="M163.10,448.30 L162.15,449.75 L160.42,449.85 L161.20,451.40 L160.42,452.95 L162.15,453.05 L163.10,454.50 L164.05,453.05 L165.78,452.95 L165.00,451.40 L165.78,449.85 L164.05,449.75Z" fill="#8e3ca8"/>
<path d="M169.63,449.50 L168.68,450.95 L166.95,451.05 L167.73,452.60 L166.95,454.15 L168.68,454.25 L169.63,455.70 L170.58,454.25 L172.32,454.15 L171.53,452.60 L172.32,451.05 L170.58,450.95Z" fill="#8e3ca8"/>
<path d="M176.17,451.30 L175.22,452.75 L173.48,452.85 L174.27,454.40 L173.48,455.95 L175.22,456.05 L176.17,457.50 L177.12,456.05 L178.85,455.95 L178.07,454.40 L178.85,452.85 L177.12,452.75Z" fill="#8e3ca8"/>
<path d="M182.70,453.00 L181.75,454.45 L180.02,454.55 L180.80,456.10 L180.02,457.65 L181.75,457.75 L182.70,459.20 L183.65,457.75 L185.38,457.65 L184.60,456.10 L185.38,454.55 L183.65,454.45Z" fill="#8e3ca8"/>
<path d="M189.23,454.70 L188.28,456.15 L186.55,456.25 L187.33,457.80 L186.55,459.35 L188.28,459.45 L189.23,460.90 L190.18,459.45 L191.92,459.35 L191.13,457.80 L191.92,456.25 L190.18,456.15Z" fill="#8e3ca8"/>
<path d="M195.77,455.90 L194.82,457.35 L193.08,457.45 L193.87,459.00 L193.08,460.55 L194.82,460.65 L195.77,462.10 L196.72,460.65 L198.45,460.55 L197.67,459.00 L198.45,457.45 L196.72,457.35Z" fill="#8e3ca8"/>
<path d="M202.30,457.40 L201.35,458.85 L199.62,458.95 L200.40,460.50 L199.62,462.05 L201.35,462.15 L202.30,463.60 L203.25,462.15 L204.98,462.05 L204.20,460.50 L204.98,458.95 L203.25,458.85Z" fill="#8e3ca8"/>
<path d="M208.83,458.90 L207.88,460.35 L206.15,460.45 L206.93,462.00 L206.15,463.55 L207.88,463.65 L208.83,465.10 L209.78,463.65 L211.52,463.55 L210.73,462.00 L211.52,460.45 L209.78,460.35Z" fill="#8e3ca8"/>
<path d="M215.37,460.40 L214.42,461.85 L212.68,461.95 L213.47,463.50 L212.68,465.05 L214.42,465.15 L215.37,466.60 L216.32,465.15 L218.05,465.05 L217.27,463.50 L218.05,461.95 L216.32,461.85Z" fill="#8e3ca8"/>
<path d="M221.90,462.50 L220.95,463.95 L219.22,464.05 L220.00,465.60 L219.22,467.15 L220.95,467.25 L221.90,468.70 L222.85,467.25 L224.58,467.15 L223.80,465.60 L224.58,464.05 L222.85,463.95Z" fill="#8e3ca8"/>
<path d="M228.43,465.20 L227.48,466.65 L225.75,466.75 L226.53,468.30 L225.75,469.85 L227.48,469.95 L228.43,471.40 L229.38,469.95 L231.12,469.85 L230.33,468.30 L231.12,466.75 L229.38,466.65Z" fill="#8e3ca8"/>
<path d="M234.97,468.90 L234.02,470.35 L232.28,470.45 L233.07,472.00 L232.28,473.55 L234.02,473.65 L234.97,475.10 L235.92,473.65 L237.65,473.55 L236.87,472.00 L237.65,470.45 L235.92,470.35Z" fill="#8e3ca8"/>
<rect x="45.50" y="442.30" width="196.00" height="160.90" fill="none" stroke="#262626" stroke-width="1.2"/>
<line x1="110.83" y1="603.20" x2="110.83" y2="601.20" stroke="#262626" stroke-width="1"/>
<line x1="110.83" y1="442.30" x2="110.83" y2="444.30" stroke="#262626" stroke-width="1"/>
<line x1="176.17" y1="603.20" x2="176.17" y2="601.20" stroke="#262626" stroke-width="1"/>
<line x1="176.17" y1="442.30" x2="176.17" y2="444.30" stroke="#262626" stroke-width="1"/>
<line x1="45.50" y1="603.20" x2="47.50" y2="603.20" stroke="#262626" stroke-width="1"/>
<line x1="241.50" y1="603.20" x2="239.50" y2="603.20" stroke="#262626" stroke-width="1"/>
<line x1="45.50" y1="578.45" x2="47.50" y2="578.45" stroke="#262626" stroke-width="1"/>
<line x1="241.50" y1="578.45" x2="239.50" y2="578.45" stroke="#262626" stroke-width="1"/>
<line x1="45.50" y1="553.69" x2="47.50" y2="553.69" stroke="#262626" stroke-width="1"/>
<line x1="241.50" y1="553.69" x2="239.50" y2="553.69" stroke="#262626" stroke-width="1"/>
<line x1="45.50" y1="528.94" x2="47.50" y2="528.94" stroke="#262626" stroke-width="1"/>
<line x1="241.50" y1="528.94" x2="239.50" y2="528.94" stroke="#262626" stroke-width="1"/>
<line x1="45.50" y1="504.18" x2="47.50" y2="504.18" stroke="#262626" stroke-width="1"/>
<line x1="241.50" y1="504.18" x2="239.50" y2="504.18" stroke="#262626" stroke-width="1"/>
<line x1="45.50" y1="479.43" x2="47.50" y2="479.43" stroke="#262626" stroke-width="1"/>
<line x1="241.50" y1="479.43" x2="239.50" y2="479.43" stroke="#262626" stroke-width="1"/>
<line x1="45.50" y1="454.68" x2="47.50" y2="454.68" stroke="#262626" stroke-width="1"/>
<line x1="241.50" y1="454.68" x2="239.50" y2="454.68" stroke="#262626" stroke-width="1"/>
<text transform="translate(45.50,619.00) scale(1,1.07)" font-size="12.6" text-anchor="middle">0</text>
<text transform="translate(110.83,619.00) scale(1,1.07)" font-size="12.6" text-anchor="middle">0.1</text>
<text transform="translate(176.17,619.00) scale(1,1.07)" font-size="12.6" text-anchor="middle">0.2</text>
<text transform="translate(241.50,619.00) scale(1,1.07)" font-size="12.6" text-anchor="middle">0.3</text>
<text transform="translate(41.70,608.20) scale(1,1.07)" font-size="12.6" text-anchor="end">-0.6</text>
<text transform="translate(41.70,583.45) scale(1,1.07)" font-size="12.6" text-anchor="end">-0.4</text>
<text transform="translate(41.70,558.69) scale(1,1.07)" font-size="12.6" text-anchor="end">-0.2</text>
<text transform="translate(41.70,533.94) scale(1,1.07)" font-size="12.6" text-anchor="end">0</text>
<text transform="translate(41.70,509.18) scale(1,1.07)" font-size="12.6" text-anchor="end">0.2</text>
<text transform="translate(41.70,484.43) scale(1,1.07)" font-size="12.6" text-anchor="end">0.4</text>
<text transform="translate(41.70,459.68) scale(1,1.07)" font-size="12.6" text-anchor="end">0.6</text>
<text x="143.50" y="634.20" font-size="14" text-anchor="middle"><tspan font-style="italic">r</tspan> (m)</text>
<text transform="translate(11.20,522.75) rotate(-90)" x="0" y="0" font-size="14" text-anchor="middle"><tspan font-style="italic">B</tspan><tspan font-size="10.5" dy="6.8">z</tspan><tspan dy="-6.8"> (T)</tspan></text>
<rect x="162.20" y="521.30" width="64.4" height="54.1" fill="#fff" stroke="#262626" stroke-width="1.1"/>
<path d="M163.70,529.00 L176.30,529.00" fill="none" stroke="#3445b0" stroke-width="1.2" stroke-dasharray="1.1,1.4"/>
<path d="M168.10,527.10L171.90,530.90M168.10,530.90L171.90,527.10" stroke="#3445b0" stroke-width="1.1"/>
<text transform="translate(180.00,533.20) scale(1,1.1)" font-size="11.3">point coil</text>
<path d="M163.70,542.10 L176.30,542.10" fill="none" stroke="#74c44a" stroke-width="1.6" stroke-dasharray="4.2,2.8"/>
<text transform="translate(180.00,546.30) scale(1,1.1)" font-size="11.3">coil 6cm</text>
<path d="M163.70,555.20 L176.30,555.20" fill="none" stroke="#dd2326" stroke-width="1.6"/>
<text transform="translate(180.00,559.40) scale(1,1.1)" font-size="11.3">coil 10cm</text>
<path d="M163.70,568.30 L176.30,568.30" fill="none" stroke="#8e3ca8" stroke-width="1.6"/>
<path d="M170.00,565.20 L169.05,566.65 L167.32,566.75 L168.10,568.30 L167.32,569.85 L169.05,569.95 L170.00,571.40 L170.95,569.95 L172.68,569.85 L171.90,568.30 L172.68,566.75 L170.95,566.65Z" fill="#8e3ca8"/>
<text transform="translate(180.00,572.50) scale(1,1.1)" font-size="11.3">coil 14cm</text>
<line x1="400.40" y1="442.00" x2="400.40" y2="602.20" stroke="#e6e6e6" stroke-width="1"/>
<line x1="465.30" y1="442.00" x2="465.30" y2="602.20" stroke="#e6e6e6" stroke-width="1"/>
<line x1="335.50" y1="573.93" x2="530.20" y2="573.93" stroke="#e6e6e6" stroke-width="1"/>
<line x1="335.50" y1="526.81" x2="530.20" y2="526.81" stroke="#e6e6e6" stroke-width="1"/>
<line x1="335.50" y1="479.69" x2="530.20" y2="479.69" stroke="#e6e6e6" stroke-width="1"/>
<path d="M335.50,574.30 C336.58,574.40 339.83,574.63 341.99,574.90 C344.15,575.17 346.32,575.57 348.48,575.90 C350.64,576.23 352.81,576.57 354.97,576.90 C357.13,577.23 359.30,577.55 361.46,577.90 C363.62,578.25 365.79,578.62 367.95,579.00 C370.11,579.38 372.28,579.82 374.44,580.20 C376.60,580.58 378.77,581.03 380.93,581.30 C383.09,581.57 385.26,581.72 387.42,581.80 C389.58,581.88 391.75,581.90 393.91,581.80 C396.07,581.70 398.24,581.67 400.40,581.20 C402.56,580.73 404.73,579.92 406.89,579.00 C409.05,578.08 411.22,576.87 413.38,575.70 C415.54,574.53 417.71,573.25 419.87,572.00 C422.03,570.75 424.20,569.75 426.36,568.20 C428.52,566.65 430.69,564.62 432.85,562.70 C435.01,560.78 437.18,558.72 439.34,556.70 C441.50,554.68 443.67,552.63 445.83,550.60 C447.99,548.57 450.16,546.60 452.32,544.50 C454.48,542.40 456.65,540.23 458.81,538.00 C460.97,535.77 463.14,533.43 465.30,531.10 C467.46,528.77 469.63,526.38 471.79,524.00 C473.95,521.62 476.12,519.25 478.28,516.80 C480.44,514.35 482.61,511.78 484.77,509.30 C486.93,506.82 489.10,504.32 491.26,501.90 C493.42,499.48 495.59,497.15 497.75,494.80 C499.91,492.45 502.08,490.12 504.24,487.80 C506.40,485.48 508.57,483.20 510.73,480.90 C512.89,478.60 515.06,476.32 517.22,474.00 C519.38,471.68 522.63,468.17 523.71,467.00" fill="none" stroke="#74c44a" stroke-width="1.6" stroke-dasharray="4.2,2.8"/>
<path d="M335.50,574.30 C336.58,574.40 339.83,574.63 341.99,574.90 C344.15,575.17 346.32,575.57 348.48,575.90 C350.64,576.23 352.81,576.57 354.97,576.90 C357.13,577.23 359.30,577.55 361.46,577.90 C363.62,578.25 365.79,578.60 367.95,579.00 C370.11,579.40 372.28,579.83 374.44,580.30 C376.60,580.77 378.77,581.43 380.93,581.80 C383.09,582.17 385.26,582.35 387.42,582.50 C389.58,582.65 391.75,582.82 393.91,582.70 C396.07,582.58 398.24,582.25 400.40,581.80 C402.56,581.35 404.73,580.72 406.89,580.00 C409.05,579.28 411.22,578.38 413.38,577.50 C415.54,576.62 417.71,575.83 419.87,574.70 C422.03,573.57 424.20,572.23 426.36,570.70 C428.52,569.17 430.69,567.30 432.85,565.50 C435.01,563.70 437.18,561.85 439.34,559.90 C441.50,557.95 443.67,555.82 445.83,553.80 C447.99,551.78 450.16,549.88 452.32,547.80 C454.48,545.72 456.65,543.47 458.81,541.30 C460.97,539.13 463.14,537.07 465.30,534.80 C467.46,532.53 469.63,530.02 471.79,527.70 C473.95,525.38 476.12,523.35 478.28,520.90 C480.44,518.45 482.61,515.48 484.77,513.00 C486.93,510.52 489.10,508.40 491.26,506.00 C493.42,503.60 495.59,501.08 497.75,498.60 C499.91,496.12 502.08,493.50 504.24,491.10 C506.40,488.70 508.57,486.52 510.73,484.20 C512.89,481.88 515.06,479.37 517.22,477.20 C519.38,475.03 522.63,472.20 523.71,471.20" fill="none" stroke="#3445b0" stroke-width="1.2" stroke-dasharray="1.1,1.4"/>
<path d="M333.60,572.40L337.40,576.20M333.60,576.20L337.40,572.40" stroke="#3445b0" stroke-width="1.1"/>
<path d="M340.09,573.00L343.89,576.80M340.09,576.80L343.89,573.00" stroke="#3445b0" stroke-width="1.1"/>
<path d="M346.58,574.00L350.38,577.80M346.58,577.80L350.38,574.00" stroke="#3445b0" stroke-width="1.1"/>
<path d="M353.07,575.00L356.87,578.80M353.07,578.80L356.87,575.00" stroke="#3445b0" stroke-width="1.1"/>
<path d="M359.56,576.00L363.36,579.80M359.56,579.80L363.36,576.00" stroke="#3445b0" stroke-width="1.1"/>
<path d="M366.05,577.10L369.85,580.90M366.05,580.90L369.85,577.10" stroke="#3445b0" stroke-width="1.1"/>
<path d="M372.54,578.40L376.34,582.20M372.54,582.20L376.34,578.40" stroke="#3445b0" stroke-width="1.1"/>
<path d="M379.03,579.90L382.83,583.70M379.03,583.70L382.83,579.90" stroke="#3445b0" stroke-width="1.1"/>
<path d="M385.52,580.60L389.32,584.40M385.52,584.40L389.32,580.60" stroke="#3445b0" stroke-width="1.1"/>
<path d="M392.01,580.80L395.81,584.60M392.01,584.60L395.81,580.80" stroke="#3445b0" stroke-width="1.1"/>
<path d="M398.50,579.90L402.30,583.70M398.50,583.70L402.30,579.90" stroke="#3445b0" stroke-width="1.1"/>
<path d="M404.99,578.10L408.79,581.90M404.99,581.90L408.79,578.10" stroke="#3445b0" stroke-width="1.1"/>
<path d="M411.48,575.60L415.28,579.40M411.48,579.40L415.28,575.60" stroke="#3445b0" stroke-width="1.1"/>
<path d="M417.97,572.80L421.77,576.60M417.97,576.60L421.77,572.80" stroke="#3445b0" stroke-width="1.1"/>
<path d="M424.46,568.80L428.26,572.60M424.46,572.60L428.26,568.80" stroke="#3445b0" stroke-width="1.1"/>
<path d="M430.95,563.60L434.75,567.40M430.95,567.40L434.75,563.60" stroke="#3445b0" stroke-width="1.1"/>
<path d="M437.44,558.00L441.24,561.80M437.44,561.80L441.24,558.00" stroke="#3445b0" stroke-width="1.1"/>
<path d="M443.93,551.90L447.73,555.70M443.93,555.70L447.73,551.90" stroke="#3445b0" stroke-width="1.1"/>
<path d="M450.42,545.90L454.22,549.70M450.42,549.70L454.22,545.90" stroke="#3445b0" stroke-width="1.1"/>
<path d="M456.91,539.40L460.71,543.20M456.91,543.20L460.71,539.40" stroke="#3445b0" stroke-width="1.1"/>
<path d="M463.40,532.90L467.20,536.70M463.40,536.70L467.20,532.90" stroke="#3445b0" stroke-width="1.1"/>
<path d="M469.89,525.80L473.69,529.60M469.89,529.60L473.69,525.80" stroke="#3445b0" stroke-width="1.1"/>
<path d="M476.38,519.00L480.18,522.80M476.38,522.80L480.18,519.00" stroke="#3445b0" stroke-width="1.1"/>
<path d="M482.87,511.10L486.67,514.90M482.87,514.90L486.67,511.10" stroke="#3445b0" stroke-width="1.1"/>
<path d="M489.36,504.10L493.16,507.90M489.36,507.90L493.16,504.10" stroke="#3445b0" stroke-width="1.1"/>
<path d="M495.85,496.70L499.65,500.50M495.85,500.50L499.65,496.70" stroke="#3445b0" stroke-width="1.1"/>
<path d="M502.34,489.20L506.14,493.00M502.34,493.00L506.14,489.20" stroke="#3445b0" stroke-width="1.1"/>
<path d="M508.83,482.30L512.63,486.10M508.83,486.10L512.63,482.30" stroke="#3445b0" stroke-width="1.1"/>
<path d="M515.32,475.30L519.12,479.10M515.32,479.10L519.12,475.30" stroke="#3445b0" stroke-width="1.1"/>
<path d="M521.81,469.30L525.61,473.10M521.81,473.10L525.61,469.30" stroke="#3445b0" stroke-width="1.1"/>
<path d="M335.50,574.20 C336.58,574.28 339.83,574.45 341.99,574.70 C344.15,574.95 346.32,575.37 348.48,575.70 C350.64,576.03 352.81,576.37 354.97,576.70 C357.13,577.03 359.30,577.35 361.46,577.70 C363.62,578.05 365.79,578.43 367.95,578.80 C370.11,579.17 372.28,579.58 374.44,579.90 C376.60,580.22 378.77,580.48 380.93,580.70 C383.09,580.92 385.26,581.18 387.42,581.20 C389.58,581.22 391.75,581.10 393.91,580.80 C396.07,580.50 398.24,580.10 400.40,579.40 C402.56,578.70 404.73,577.68 406.89,576.60 C409.05,575.52 411.22,574.27 413.38,572.90 C415.54,571.53 417.71,569.95 419.87,568.40 C422.03,566.85 424.20,565.42 426.36,563.60 C428.52,561.78 430.69,559.57 432.85,557.50 C435.01,555.43 437.18,553.37 439.34,551.20 C441.50,549.03 443.67,546.70 445.83,544.50 C447.99,542.30 450.16,540.18 452.32,538.00 C454.48,535.82 456.65,533.63 458.81,531.40 C460.97,529.17 463.14,526.98 465.30,524.60 C467.46,522.22 469.63,519.68 471.79,517.10 C473.95,514.52 476.12,511.73 478.28,509.10 C480.44,506.47 482.61,503.90 484.77,501.30 C486.93,498.70 489.10,496.13 491.26,493.50 C493.42,490.87 495.59,488.13 497.75,485.50 C499.91,482.87 502.08,480.27 504.24,477.70 C506.40,475.13 508.57,472.67 510.73,470.10 C512.89,467.53 515.06,464.83 517.22,462.30 C519.38,459.77 522.63,456.13 523.71,454.90" fill="none" stroke="#dd2326" stroke-width="1.6"/>
<path d="M335.50,574.20 C336.58,574.28 339.83,574.45 341.99,574.70 C344.15,574.95 346.32,575.38 348.48,575.70 C350.64,576.02 352.81,576.30 354.97,576.60 C357.13,576.90 359.30,577.18 361.46,577.50 C363.62,577.82 365.79,578.18 367.95,578.50 C370.11,578.82 372.28,579.15 374.44,579.40 C376.60,579.65 378.77,579.93 380.93,580.00 C383.09,580.07 385.26,580.00 387.42,579.80 C389.58,579.60 391.75,579.27 393.91,578.80 C396.07,578.33 398.24,577.83 400.40,577.00 C402.56,576.17 404.73,575.05 406.89,573.80 C409.05,572.55 411.22,570.95 413.38,569.50 C415.54,568.05 417.71,566.65 419.87,565.10 C422.03,563.55 424.20,562.00 426.36,560.20 C428.52,558.40 430.69,556.37 432.85,554.30 C435.01,552.23 437.18,549.97 439.34,547.80 C441.50,545.63 443.67,543.53 445.83,541.30 C447.99,539.07 450.16,536.78 452.32,534.40 C454.48,532.02 456.65,529.42 458.81,527.00 C460.97,524.58 463.14,522.32 465.30,519.90 C467.46,517.48 469.63,515.03 471.79,512.50 C473.95,509.97 476.12,507.33 478.28,504.70 C480.44,502.07 482.61,499.37 484.77,496.70 C486.93,494.03 489.10,491.40 491.26,488.70 C493.42,486.00 495.59,483.20 497.75,480.50 C499.91,477.80 502.08,475.22 504.24,472.50 C506.40,469.78 508.57,466.92 510.73,464.20 C512.89,461.48 515.06,458.93 517.22,456.20 C519.38,453.47 522.63,449.20 523.71,447.80" fill="none" stroke="#8e3ca8" stroke-width="1.6"/>
<path d="M335.50,571.10 L334.55,572.55 L332.82,572.65 L333.60,574.20 L332.82,575.75 L334.55,575.85 L335.50,577.30 L336.45,575.85 L338.18,575.75 L337.40,574.20 L338.18,572.65 L336.45,572.55Z" fill="#8e3ca8"/>
<path d="M341.99,571.60 L341.04,573.05 L339.31,573.15 L340.09,574.70 L339.31,576.25 L341.04,576.35 L341.99,577.80 L342.94,576.35 L344.67,576.25 L343.89,574.70 L344.67,573.15 L342.94,573.05Z" fill="#8e3ca8"/>
<path d="M348.48,572.60 L347.53,574.05 L345.80,574.15 L346.58,575.70 L345.80,577.25 L347.53,577.35 L348.48,578.80 L349.43,577.35 L351.16,577.25 L350.38,575.70 L351.16,574.15 L349.43,574.05Z" fill="#8e3ca8"/>
<path d="M354.97,573.50 L354.02,574.95 L352.29,575.05 L353.07,576.60 L352.29,578.15 L354.02,578.25 L354.97,579.70 L355.92,578.25 L357.65,578.15 L356.87,576.60 L357.65,575.05 L355.92,574.95Z" fill="#8e3ca8"/>
<path d="M361.46,574.40 L360.51,575.85 L358.78,575.95 L359.56,577.50 L358.78,579.05 L360.51,579.15 L361.46,580.60 L362.41,579.15 L364.14,579.05 L363.36,577.50 L364.14,575.95 L362.41,575.85Z" fill="#8e3ca8"/>
<path d="M367.95,575.40 L367.00,576.85 L365.27,576.95 L366.05,578.50 L365.27,580.05 L367.00,580.15 L367.95,581.60 L368.90,580.15 L370.63,580.05 L369.85,578.50 L370.63,576.95 L368.90,576.85Z" fill="#8e3ca8"/>
<path d="M374.44,576.30 L373.49,577.75 L371.76,577.85 L372.54,579.40 L371.76,580.95 L373.49,581.05 L374.44,582.50 L375.39,581.05 L377.12,580.95 L376.34,579.40 L377.12,577.85 L375.39,577.75Z" fill="#8e3ca8"/>
<path d="M380.93,576.90 L379.98,578.35 L378.25,578.45 L379.03,580.00 L378.25,581.55 L379.98,581.65 L380.93,583.10 L381.88,581.65 L383.61,581.55 L382.83,580.00 L383.61,578.45 L381.88,578.35Z" fill="#8e3ca8"/>
<path d="M387.42,576.70 L386.47,578.15 L384.74,578.25 L385.52,579.80 L384.74,581.35 L386.47,581.45 L387.42,582.90 L388.37,581.45 L390.10,581.35 L389.32,579.80 L390.10,578.25 L388.37,578.15Z" fill="#8e3ca8"/>
<path d="M393.91,575.70 L392.96,577.15 L391.23,577.25 L392.01,578.80 L391.23,580.35 L392.96,580.45 L393.91,581.90 L394.86,580.45 L396.59,580.35 L395.81,578.80 L396.59,577.25 L394.86,577.15Z" fill="#8e3ca8"/>
<path d="M400.40,573.90 L399.45,575.35 L397.72,575.45 L398.50,577.00 L397.72,578.55 L399.45,578.65 L400.40,580.10 L401.35,578.65 L403.08,578.55 L402.30,577.00 L403.08,575.45 L401.35,575.35Z" fill="#8e3ca8"/>
<path d="M406.89,570.70 L405.94,572.15 L404.21,572.25 L404.99,573.80 L404.21,575.35 L405.94,575.45 L406.89,576.90 L407.84,575.45 L409.57,575.35 L408.79,573.80 L409.57,572.25 L407.84,572.15Z" fill="#8e3ca8"/>
<path d="M413.38,566.40 L412.43,567.85 L410.70,567.95 L411.48,569.50 L410.70,571.05 L412.43,571.15 L413.38,572.60 L414.33,571.15 L416.06,571.05 L415.28,569.50 L416.06,567.95 L414.33,567.85Z" fill="#8e3ca8"/>
<path d="M419.87,562.00 L418.92,563.45 L417.19,563.55 L417.97,565.10 L417.19,566.65 L418.92,566.75 L419.87,568.20 L420.82,566.75 L422.55,566.65 L421.77,565.10 L422.55,563.55 L420.82,563.45Z" fill="#8e3ca8"/>
<path d="M426.36,557.10 L425.41,558.55 L423.68,558.65 L424.46,560.20 L423.68,561.75 L425.41,561.85 L426.36,563.30 L427.31,561.85 L429.04,561.75 L428.26,560.20 L429.04,558.65 L427.31,558.55Z" fill="#8e3ca8"/>
<path d="M432.85,551.20 L431.90,552.65 L430.17,552.75 L430.95,554.30 L430.17,555.85 L431.90,555.95 L432.85,557.40 L433.80,555.95 L435.53,555.85 L434.75,554.30 L435.53,552.75 L433.80,552.65Z" fill="#8e3ca8"/>
<path d="M439.34,544.70 L438.39,546.15 L436.66,546.25 L437.44,547.80 L436.66,549.35 L438.39,549.45 L439.34,550.90 L440.29,549.45 L442.02,549.35 L441.24,547.80 L442.02,546.25 L440.29,546.15Z" fill="#8e3ca8"/>
<path d="M445.83,538.20 L444.88,539.65 L443.15,539.75 L443.93,541.30 L443.15,542.85 L444.88,542.95 L445.83,544.40 L446.78,542.95 L448.51,542.85 L447.73,541.30 L448.51,539.75 L446.78,539.65Z" fill="#8e3ca8"/>
<path d="M452.32,531.30 L451.37,532.75 L449.64,532.85 L450.42,534.40 L449.64,535.95 L451.37,536.05 L452.32,537.50 L453.27,536.05 L455.00,535.95 L454.22,534.40 L455.00,532.85 L453.27,532.75Z" fill="#8e3ca8"/>
<path d="M458.81,523.90 L457.86,525.35 L456.13,525.45 L456.91,527.00 L456.13,528.55 L457.86,528.65 L458.81,530.10 L459.76,528.65 L461.49,528.55 L460.71,527.00 L461.49,525.45 L459.76,525.35Z" fill="#8e3ca8"/>
<path d="M465.30,516.80 L464.35,518.25 L462.62,518.35 L463.40,519.90 L462.62,521.45 L464.35,521.55 L465.30,523.00 L466.25,521.55 L467.98,521.45 L467.20,519.90 L467.98,518.35 L466.25,518.25Z" fill="#8e3ca8"/>
<path d="M471.79,509.40 L470.84,510.85 L469.11,510.95 L469.89,512.50 L469.11,514.05 L470.84,514.15 L471.79,515.60 L472.74,514.15 L474.47,514.05 L473.69,512.50 L474.47,510.95 L472.74,510.85Z" fill="#8e3ca8"/>
<path d="M478.28,501.60 L477.33,503.05 L475.60,503.15 L476.38,504.70 L475.60,506.25 L477.33,506.35 L478.28,507.80 L479.23,506.35 L480.96,506.25 L480.18,504.70 L480.96,503.15 L479.23,503.05Z" fill="#8e3ca8"/>
<path d="M484.77,493.60 L483.82,495.05 L482.09,495.15 L482.87,496.70 L482.09,498.25 L483.82,498.35 L484.77,499.80 L485.72,498.35 L487.45,498.25 L486.67,496.70 L487.45,495.15 L485.72,495.05Z" fill="#8e3ca8"/>
<path d="M491.26,485.60 L490.31,487.05 L488.58,487.15 L489.36,488.70 L488.58,490.25 L490.31,490.35 L491.26,491.80 L492.21,490.35 L493.94,490.25 L493.16,488.70 L493.94,487.15 L492.21,487.05Z" fill="#8e3ca8"/>
<path d="M497.75,477.40 L496.80,478.85 L495.07,478.95 L495.85,480.50 L495.07,482.05 L496.80,482.15 L497.75,483.60 L498.70,482.15 L500.43,482.05 L499.65,480.50 L500.43,478.95 L498.70,478.85Z" fill="#8e3ca8"/>
<path d="M504.24,469.40 L503.29,470.85 L501.56,470.95 L502.34,472.50 L501.56,474.05 L503.29,474.15 L504.24,475.60 L505.19,474.15 L506.92,474.05 L506.14,472.50 L506.92,470.95 L505.19,470.85Z" fill="#8e3ca8"/>
<path d="M510.73,461.10 L509.78,462.55 L508.05,462.65 L508.83,464.20 L508.05,465.75 L509.78,465.85 L510.73,467.30 L511.68,465.85 L513.41,465.75 L512.63,464.20 L513.41,462.65 L511.68,462.55Z" fill="#8e3ca8"/>
<path d="M517.22,453.10 L516.27,454.55 L514.54,454.65 L515.32,456.20 L514.54,457.75 L516.27,457.85 L517.22,459.30 L518.17,457.85 L519.90,457.75 L519.12,456.20 L519.90,454.65 L518.17,454.55Z" fill="#8e3ca8"/>
<path d="M523.71,444.70 L522.76,446.15 L521.03,446.25 L521.81,447.80 L521.03,449.35 L522.76,449.45 L523.71,450.90 L524.66,449.45 L526.39,449.35 L525.61,447.80 L526.39,446.25 L524.66,446.15Z" fill="#8e3ca8"/>
<rect x="335.50" y="442.00" width="194.70" height="160.20" fill="none" stroke="#262626" stroke-width="1.2"/>
<line x1="400.40" y1="602.20" x2="400.40" y2="600.20" stroke="#262626" stroke-width="1"/>
<line x1="400.40" y1="442.00" x2="400.40" y2="444.00" stroke="#262626" stroke-width="1"/>
<line x1="465.30" y1="602.20" x2="465.30" y2="600.20" stroke="#262626" stroke-width="1"/>
<line x1="465.30" y1="442.00" x2="465.30" y2="444.00" stroke="#262626" stroke-width="1"/>
<line x1="335.50" y1="573.93" x2="337.50" y2="573.93" stroke="#262626" stroke-width="1"/>
<line x1="530.20" y1="573.93" x2="528.20" y2="573.93" stroke="#262626" stroke-width="1"/>
<line x1="335.50" y1="526.81" x2="337.50" y2="526.81" stroke="#262626" stroke-width="1"/>
<line x1="530.20" y1="526.81" x2="528.20" y2="526.81" stroke="#262626" stroke-width="1"/>
<line x1="335.50" y1="479.69" x2="337.50" y2="479.69" stroke="#262626" stroke-width="1"/>
<line x1="530.20" y1="479.69" x2="528.20" y2="479.69" stroke="#262626" stroke-width="1"/>
<text transform="translate(335.50,618.00) scale(1,1.07)" font-size="12.6" text-anchor="middle">0</text>
<text transform="translate(400.40,618.00) scale(1,1.07)" font-size="12.6" text-anchor="middle">0.1</text>
<text transform="translate(465.30,618.00) scale(1,1.07)" font-size="12.6" text-anchor="middle">0.2</text>
<text transform="translate(530.20,618.00) scale(1,1.07)" font-size="12.6" text-anchor="middle">0.3</text>
<text transform="translate(331.70,578.93) scale(1,1.07)" font-size="12.6" text-anchor="end">0</text>
<text transform="translate(331.70,531.81) scale(1,1.07)" font-size="12.6" text-anchor="end">0.05</text>
<text transform="translate(331.70,484.69) scale(1,1.07)" font-size="12.6" text-anchor="end">0.1</text>
<text x="432.85" y="633.20" font-size="14" text-anchor="middle"><tspan font-style="italic">r</tspan> (m)</text>
<text transform="translate(298.60,522.10) rotate(-90)" x="0" y="0" font-size="14" text-anchor="middle"><tspan font-style="italic">Φ</tspan><tspan font-size="10.5" dy="6.8" font-style="italic">p</tspan><tspan dy="-6.8"> (Wb)</tspan></text>
<rect x="357.20" y="465.00" width="64.4" height="54.1" fill="#fff" stroke="#262626" stroke-width="1.1"/>
<path d="M358.70,472.70 L371.30,472.70" fill="none" stroke="#3445b0" stroke-width="1.2" stroke-dasharray="1.1,1.4"/>
<path d="M363.10,470.80L366.90,474.60M363.10,474.60L366.90,470.80" stroke="#3445b0" stroke-width="1.1"/>
<text transform="translate(375.00,476.90) scale(1,1.1)" font-size="11.3">point coil</text>
<path d="M358.70,485.80 L371.30,485.80" fill="none" stroke="#74c44a" stroke-width="1.6" stroke-dasharray="4.2,2.8"/>
<text transform="translate(375.00,490.00) scale(1,1.1)" font-size="11.3">coil 6cm</text>
<path d="M358.70,498.90 L371.30,498.90" fill="none" stroke="#dd2326" stroke-width="1.6"/>
<text transform="translate(375.00,503.10) scale(1,1.1)" font-size="11.3">coil 10cm</text>
<path d="M358.70,512.00 L371.30,512.00" fill="none" stroke="#8e3ca8" stroke-width="1.6"/>
<path d="M365.00,508.90 L364.05,510.35 L362.32,510.45 L363.10,512.00 L362.32,513.55 L364.05,513.65 L365.00,515.10 L365.95,513.65 L367.68,513.55 L366.90,512.00 L367.68,510.45 L365.95,510.35Z" fill="#8e3ca8"/>
<text transform="translate(375.00,516.20) scale(1,1.1)" font-size="11.3">coil 14cm</text>
<line x1="106.37" y1="656.50" x2="106.37" y2="818.80" stroke="#e6e6e6" stroke-width="1"/>
<line x1="172.13" y1="656.50" x2="172.13" y2="818.80" stroke="#e6e6e6" stroke-width="1"/>
<line x1="40.60" y1="791.75" x2="237.90" y2="791.75" stroke="#e6e6e6" stroke-width="1"/>
<line x1="40.60" y1="764.70" x2="237.90" y2="764.70" stroke="#e6e6e6" stroke-width="1"/>
<line x1="40.60" y1="737.65" x2="237.90" y2="737.65" stroke="#e6e6e6" stroke-width="1"/>
<line x1="40.60" y1="710.60" x2="237.90" y2="710.60" stroke="#e6e6e6" stroke-width="1"/>
<line x1="40.60" y1="683.55" x2="237.90" y2="683.55" stroke="#e6e6e6" stroke-width="1"/>
<path d="M40.60,723.80 C41.70,723.80 44.98,723.85 47.18,723.80 C49.37,723.75 51.56,723.93 53.75,723.50 C55.95,723.07 58.14,722.57 60.33,721.20 C62.52,719.83 64.71,717.92 66.91,715.30 C69.10,712.68 71.29,709.30 73.48,705.50 C75.68,701.70 77.87,696.62 80.06,692.50 C82.25,688.38 84.44,684.15 86.64,680.80 C88.83,677.45 91.02,674.13 93.21,672.40 C95.41,670.67 97.60,669.28 99.79,670.40 C101.98,671.52 104.17,674.70 106.37,679.10 C108.56,683.50 110.75,690.17 112.94,696.80 C115.14,703.43 117.33,711.38 119.52,718.90 C121.71,726.42 123.90,734.38 126.10,741.90 C128.29,749.42 130.48,757.23 132.67,764.00 C134.87,770.77 137.06,777.20 139.25,782.50 C141.44,787.80 143.63,792.40 145.83,795.80 C148.02,799.20 150.21,801.13 152.40,802.90 C154.60,804.67 156.79,805.67 158.98,806.40 C161.17,807.13 163.36,806.93 165.56,807.30 C167.75,807.67 169.94,808.22 172.13,808.60 C174.33,808.98 176.52,809.60 178.71,809.60 C180.90,809.60 183.09,809.27 185.29,808.60 C187.48,807.93 189.67,806.83 191.86,805.60 C194.06,804.37 196.25,802.80 198.44,801.20 C200.63,799.60 202.82,797.98 205.02,796.00 C207.21,794.02 209.40,792.15 211.59,789.30 C213.79,786.45 215.98,783.00 218.17,778.90 C220.36,774.80 222.55,769.53 224.75,764.70 C226.94,759.87 230.23,752.37 231.32,749.90" fill="none" stroke="#74c44a" stroke-width="1.6" stroke-dasharray="4.2,2.8"/>
<path d="M40.60,725.00 C41.70,725.00 44.98,725.10 47.18,725.00 C49.37,724.90 51.56,724.82 53.75,724.40 C55.95,723.98 58.14,723.70 60.33,722.50 C62.52,721.30 64.71,719.60 66.91,717.20 C69.10,714.80 71.29,711.78 73.48,708.10 C75.68,704.42 77.87,699.32 80.06,695.10 C82.25,690.88 84.44,686.48 86.64,682.80 C88.83,679.12 91.02,675.23 93.21,673.00 C95.41,670.77 97.60,669.12 99.79,669.40 C101.98,669.68 104.17,671.60 106.37,674.70 C108.56,677.80 110.75,682.55 112.94,688.00 C115.14,693.45 117.33,700.40 119.52,707.40 C121.71,714.40 123.90,722.48 126.10,730.00 C128.29,737.52 130.48,745.52 132.67,752.50 C134.87,759.48 137.06,766.15 139.25,771.90 C141.44,777.65 143.63,782.87 145.83,787.00 C148.02,791.13 150.21,794.12 152.40,796.70 C154.60,799.28 156.79,801.08 158.98,802.50 C161.17,803.92 163.36,804.30 165.56,805.20 C167.75,806.10 169.94,807.33 172.13,807.90 C174.33,808.47 176.52,808.73 178.71,808.60 C180.90,808.47 183.09,807.92 185.29,807.10 C187.48,806.28 189.67,805.12 191.86,803.70 C194.06,802.28 196.25,800.38 198.44,798.60 C200.63,796.82 202.82,795.17 205.02,793.00 C207.21,790.83 209.40,788.58 211.59,785.60 C213.79,782.62 215.98,779.32 218.17,775.10 C220.36,770.88 222.55,765.55 224.75,760.30 C226.94,755.05 230.23,746.38 231.32,743.60" fill="none" stroke="#3445b0" stroke-width="1.2" stroke-dasharray="1.1,1.4"/>
<path d="M38.70,723.10L42.50,726.90M38.70,726.90L42.50,723.10" stroke="#3445b0" stroke-width="1.1"/>
<path d="M45.28,723.10L49.08,726.90M45.28,726.90L49.08,723.10" stroke="#3445b0" stroke-width="1.1"/>
<path d="M51.85,722.50L55.65,726.30M51.85,726.30L55.65,722.50" stroke="#3445b0" stroke-width="1.1"/>
<path d="M58.43,720.60L62.23,724.40M58.43,724.40L62.23,720.60" stroke="#3445b0" stroke-width="1.1"/>
<path d="M65.01,715.30L68.81,719.10M65.01,719.10L68.81,715.30" stroke="#3445b0" stroke-width="1.1"/>
<path d="M71.58,706.20L75.38,710.00M71.58,710.00L75.38,706.20" stroke="#3445b0" stroke-width="1.1"/>
<path d="M78.16,693.20L81.96,697.00M78.16,697.00L81.96,693.20" stroke="#3445b0" stroke-width="1.1"/>
<path d="M84.74,680.90L88.54,684.70M84.74,684.70L88.54,680.90" stroke="#3445b0" stroke-width="1.1"/>
<path d="M91.31,671.10L95.11,674.90M91.31,674.90L95.11,671.10" stroke="#3445b0" stroke-width="1.1"/>
<path d="M97.89,667.50L101.69,671.30M97.89,671.30L101.69,667.50" stroke="#3445b0" stroke-width="1.1"/>
<path d="M104.47,672.80L108.27,676.60M104.47,676.60L108.27,672.80" stroke="#3445b0" stroke-width="1.1"/>
<path d="M111.04,686.10L114.84,689.90M111.04,689.90L114.84,686.10" stroke="#3445b0" stroke-width="1.1"/>
<path d="M117.62,705.50L121.42,709.30M117.62,709.30L121.42,705.50" stroke="#3445b0" stroke-width="1.1"/>
<path d="M124.20,728.10L128.00,731.90M124.20,731.90L128.00,728.10" stroke="#3445b0" stroke-width="1.1"/>
<path d="M130.77,750.60L134.57,754.40M130.77,754.40L134.57,750.60" stroke="#3445b0" stroke-width="1.1"/>
<path d="M137.35,770.00L141.15,773.80M137.35,773.80L141.15,770.00" stroke="#3445b0" stroke-width="1.1"/>
<path d="M143.93,785.10L147.73,788.90M143.93,788.90L147.73,785.10" stroke="#3445b0" stroke-width="1.1"/>
<path d="M150.50,794.80L154.30,798.60M150.50,798.60L154.30,794.80" stroke="#3445b0" stroke-width="1.1"/>
<path d="M157.08,800.60L160.88,804.40M157.08,804.40L160.88,800.60" stroke="#3445b0" stroke-width="1.1"/>
<path d="M163.66,803.30L167.46,807.10M163.66,807.10L167.46,803.30" stroke="#3445b0" stroke-width="1.1"/>
<path d="M170.23,806.00L174.03,809.80M170.23,809.80L174.03,806.00" stroke="#3445b0" stroke-width="1.1"/>
<path d="M176.81,806.70L180.61,810.50M176.81,810.50L180.61,806.70" stroke="#3445b0" stroke-width="1.1"/>
<path d="M183.39,805.20L187.19,809.00M183.39,809.00L187.19,805.20" stroke="#3445b0" stroke-width="1.1"/>
<path d="M189.96,801.80L193.76,805.60M189.96,805.60L193.76,801.80" stroke="#3445b0" stroke-width="1.1"/>
<path d="M196.54,796.70L200.34,800.50M196.54,800.50L200.34,796.70" stroke="#3445b0" stroke-width="1.1"/>
<path d="M203.12,791.10L206.92,794.90M203.12,794.90L206.92,791.10" stroke="#3445b0" stroke-width="1.1"/>
<path d="M209.69,783.70L213.49,787.50M209.69,787.50L213.49,783.70" stroke="#3445b0" stroke-width="1.1"/>
<path d="M216.27,773.20L220.07,777.00M216.27,777.00L220.07,773.20" stroke="#3445b0" stroke-width="1.1"/>
<path d="M222.85,758.40L226.65,762.20M222.85,762.20L226.65,758.40" stroke="#3445b0" stroke-width="1.1"/>
<path d="M229.42,741.70L233.22,745.50M229.42,745.50L233.22,741.70" stroke="#3445b0" stroke-width="1.1"/>
<path d="M40.60,714.90 C41.70,714.90 44.98,714.95 47.18,714.90 C49.37,714.85 51.56,714.97 53.75,714.60 C55.95,714.23 58.14,713.78 60.33,712.70 C62.52,711.62 64.71,710.38 66.91,708.10 C69.10,705.82 71.29,702.68 73.48,699.00 C75.68,695.32 77.87,690.12 80.06,686.00 C82.25,681.88 84.44,677.22 86.64,674.30 C88.83,671.38 91.02,668.87 93.21,668.50 C95.41,668.13 97.60,668.57 99.79,672.10 C101.98,675.63 104.17,683.22 106.37,689.70 C108.56,696.18 110.75,703.33 112.94,711.00 C115.14,718.67 117.33,727.75 119.52,735.70 C121.71,743.65 123.90,751.63 126.10,758.70 C128.29,765.77 130.48,772.27 132.67,778.10 C134.87,783.93 137.06,789.43 139.25,793.70 C141.44,797.97 143.63,801.28 145.83,803.70 C148.02,806.12 150.21,807.02 152.40,808.20 C154.60,809.38 156.79,810.20 158.98,810.80 C161.17,811.40 163.36,811.50 165.56,811.80 C167.75,812.10 169.94,812.47 172.13,812.60 C174.33,812.73 176.52,812.77 178.71,812.60 C180.90,812.43 183.09,812.07 185.29,811.60 C187.48,811.13 189.67,810.42 191.86,809.80 C194.06,809.18 196.25,808.72 198.44,807.90 C200.63,807.08 202.82,806.27 205.02,804.90 C207.21,803.53 209.40,801.93 211.59,799.70 C213.79,797.47 215.98,794.72 218.17,791.50 C220.36,788.28 222.55,784.62 224.75,780.40 C226.94,776.18 230.23,768.57 231.32,766.20" fill="none" stroke="#dd2326" stroke-width="1.6"/>
<path d="M40.60,697.10 C41.70,697.10 44.98,697.22 47.18,697.10 C49.37,696.98 51.56,696.73 53.75,696.40 C55.95,696.07 58.14,695.85 60.33,695.10 C62.52,694.35 64.71,693.42 66.91,691.90 C69.10,690.38 71.29,688.28 73.48,686.00 C75.68,683.72 77.87,680.47 80.06,678.20 C82.25,675.93 84.44,673.48 86.64,672.40 C88.83,671.32 91.02,670.28 93.21,671.70 C95.41,673.12 97.60,676.57 99.79,680.90 C101.98,685.23 104.17,690.98 106.37,697.70 C108.56,704.42 110.75,713.17 112.94,721.20 C115.14,729.23 117.33,738.03 119.52,745.90 C121.71,753.77 123.90,761.55 126.10,768.40 C128.29,775.25 130.48,781.70 132.67,787.00 C134.87,792.30 137.06,796.82 139.25,800.20 C141.44,803.58 143.63,805.23 145.83,807.30 C148.02,809.37 150.21,811.13 152.40,812.60 C154.60,814.07 156.79,815.22 158.98,816.10 C161.17,816.98 163.36,817.53 165.56,817.90 C167.75,818.27 169.94,818.23 172.13,818.30 C174.33,818.37 176.52,818.30 178.71,818.30 C180.90,818.30 183.09,818.30 185.29,818.30 C187.48,818.30 189.67,818.30 191.86,818.30 C194.06,818.30 196.25,818.30 198.44,818.30 C200.63,818.30 202.82,818.50 205.02,818.30 C207.21,818.10 209.40,817.72 211.59,817.10 C213.79,816.48 215.98,816.13 218.17,814.60 C220.36,813.07 222.55,810.75 224.75,807.90 C226.94,805.05 230.23,799.23 231.32,797.50" fill="none" stroke="#8e3ca8" stroke-width="1.6"/>
<path d="M40.60,694.00 L39.65,695.45 L37.92,695.55 L38.70,697.10 L37.92,698.65 L39.65,698.75 L40.60,700.20 L41.55,698.75 L43.28,698.65 L42.50,697.10 L43.28,695.55 L41.55,695.45Z" fill="#8e3ca8"/>
<path d="M47.18,694.00 L46.23,695.45 L44.49,695.55 L45.28,697.10 L44.49,698.65 L46.23,698.75 L47.18,700.20 L48.13,698.75 L49.86,698.65 L49.08,697.10 L49.86,695.55 L48.13,695.45Z" fill="#8e3ca8"/>
<path d="M53.75,693.30 L52.80,694.75 L51.07,694.85 L51.85,696.40 L51.07,697.95 L52.80,698.05 L53.75,699.50 L54.70,698.05 L56.44,697.95 L55.65,696.40 L56.44,694.85 L54.70,694.75Z" fill="#8e3ca8"/>
<path d="M60.33,692.00 L59.38,693.45 L57.65,693.55 L58.43,695.10 L57.65,696.65 L59.38,696.75 L60.33,698.20 L61.28,696.75 L63.01,696.65 L62.23,695.10 L63.01,693.55 L61.28,693.45Z" fill="#8e3ca8"/>
<path d="M66.91,688.80 L65.96,690.25 L64.22,690.35 L65.01,691.90 L64.22,693.45 L65.96,693.55 L66.91,695.00 L67.86,693.55 L69.59,693.45 L68.81,691.90 L69.59,690.35 L67.86,690.25Z" fill="#8e3ca8"/>
<path d="M73.48,682.90 L72.53,684.35 L70.80,684.45 L71.58,686.00 L70.80,687.55 L72.53,687.65 L73.48,689.10 L74.43,687.65 L76.17,687.55 L75.38,686.00 L76.17,684.45 L74.43,684.35Z" fill="#8e3ca8"/>
<path d="M80.06,675.10 L79.11,676.55 L77.38,676.65 L78.16,678.20 L77.38,679.75 L79.11,679.85 L80.06,681.30 L81.01,679.85 L82.74,679.75 L81.96,678.20 L82.74,676.65 L81.01,676.55Z" fill="#8e3ca8"/>
<path d="M86.64,669.30 L85.69,670.75 L83.95,670.85 L84.74,672.40 L83.95,673.95 L85.69,674.05 L86.64,675.50 L87.59,674.05 L89.32,673.95 L88.54,672.40 L89.32,670.85 L87.59,670.75Z" fill="#8e3ca8"/>
<path d="M93.21,668.60 L92.26,670.05 L90.53,670.15 L91.31,671.70 L90.53,673.25 L92.26,673.35 L93.21,674.80 L94.16,673.35 L95.90,673.25 L95.11,671.70 L95.90,670.15 L94.16,670.05Z" fill="#8e3ca8"/>
<path d="M99.79,677.80 L98.84,679.25 L97.11,679.35 L97.89,680.90 L97.11,682.45 L98.84,682.55 L99.79,684.00 L100.74,682.55 L102.47,682.45 L101.69,680.90 L102.47,679.35 L100.74,679.25Z" fill="#8e3ca8"/>
<path d="M106.37,694.60 L105.42,696.05 L103.68,696.15 L104.47,697.70 L103.68,699.25 L105.42,699.35 L106.37,700.80 L107.32,699.35 L109.05,699.25 L108.27,697.70 L109.05,696.15 L107.32,696.05Z" fill="#8e3ca8"/>
<path d="M112.94,718.10 L111.99,719.55 L110.26,719.65 L111.04,721.20 L110.26,722.75 L111.99,722.85 L112.94,724.30 L113.89,722.85 L115.63,722.75 L114.84,721.20 L115.63,719.65 L113.89,719.55Z" fill="#8e3ca8"/>
<path d="M119.52,742.80 L118.57,744.25 L116.84,744.35 L117.62,745.90 L116.84,747.45 L118.57,747.55 L119.52,749.00 L120.47,747.55 L122.20,747.45 L121.42,745.90 L122.20,744.35 L120.47,744.25Z" fill="#8e3ca8"/>
<path d="M126.10,765.30 L125.15,766.75 L123.41,766.85 L124.20,768.40 L123.41,769.95 L125.15,770.05 L126.10,771.50 L127.05,770.05 L128.78,769.95 L128.00,768.40 L128.78,766.85 L127.05,766.75Z" fill="#8e3ca8"/>
<path d="M132.67,783.90 L131.72,785.35 L129.99,785.45 L130.77,787.00 L129.99,788.55 L131.72,788.65 L132.67,790.10 L133.62,788.65 L135.36,788.55 L134.57,787.00 L135.36,785.45 L133.62,785.35Z" fill="#8e3ca8"/>
<path d="M139.25,797.10 L138.30,798.55 L136.57,798.65 L137.35,800.20 L136.57,801.75 L138.30,801.85 L139.25,803.30 L140.20,801.85 L141.93,801.75 L141.15,800.20 L141.93,798.65 L140.20,798.55Z" fill="#8e3ca8"/>
<path d="M145.83,804.20 L144.88,805.65 L143.14,805.75 L143.93,807.30 L143.14,808.85 L144.88,808.95 L145.83,810.40 L146.78,808.95 L148.51,808.85 L147.73,807.30 L148.51,805.75 L146.78,805.65Z" fill="#8e3ca8"/>
<path d="M152.40,809.50 L151.45,810.95 L149.72,811.05 L150.50,812.60 L149.72,814.15 L151.45,814.25 L152.40,815.70 L153.35,814.25 L155.09,814.15 L154.30,812.60 L155.09,811.05 L153.35,810.95Z" fill="#8e3ca8"/>
<path d="M158.98,813.00 L158.03,814.45 L156.30,814.55 L157.08,816.10 L156.30,817.65 L158.03,817.75 L158.98,819.20 L159.93,817.75 L161.66,817.65 L160.88,816.10 L161.66,814.55 L159.93,814.45Z" fill="#8e3ca8"/>
<path d="M165.56,814.80 L164.61,816.25 L162.87,816.35 L163.66,817.90 L162.87,819.45 L164.61,819.55 L165.56,821.00 L166.51,819.55 L168.24,819.45 L167.46,817.90 L168.24,816.35 L166.51,816.25Z" fill="#8e3ca8"/>
<path d="M172.13,815.20 L171.18,816.65 L169.45,816.75 L170.23,818.30 L169.45,819.85 L171.18,819.95 L172.13,821.40 L173.08,819.95 L174.82,819.85 L174.03,818.30 L174.82,816.75 L173.08,816.65Z" fill="#8e3ca8"/>
<path d="M178.71,815.20 L177.76,816.65 L176.03,816.75 L176.81,818.30 L176.03,819.85 L177.76,819.95 L178.71,821.40 L179.66,819.95 L181.39,819.85 L180.61,818.30 L181.39,816.75 L179.66,816.65Z" fill="#8e3ca8"/>
<path d="M185.29,815.20 L184.34,816.65 L182.60,816.75 L183.39,818.30 L182.60,819.85 L184.34,819.95 L185.29,821.40 L186.24,819.95 L187.97,819.85 L187.19,818.30 L187.97,816.75 L186.24,816.65Z" fill="#8e3ca8"/>
<path d="M191.86,815.20 L190.91,816.65 L189.18,816.75 L189.96,818.30 L189.18,819.85 L190.91,819.95 L191.86,821.40 L192.81,819.95 L194.55,819.85 L193.76,818.30 L194.55,816.75 L192.81,816.65Z" fill="#8e3ca8"/>
<path d="M198.44,815.20 L197.49,816.65 L195.76,816.75 L196.54,818.30 L195.76,819.85 L197.49,819.95 L198.44,821.40 L199.39,819.95 L201.12,819.85 L200.34,818.30 L201.12,816.75 L199.39,816.65Z" fill="#8e3ca8"/>
<path d="M205.02,815.20 L204.07,816.65 L202.33,816.75 L203.12,818.30 L202.33,819.85 L204.07,819.95 L205.02,821.40 L205.97,819.95 L207.70,819.85 L206.92,818.30 L207.70,816.75 L205.97,816.65Z" fill="#8e3ca8"/>
<path d="M211.59,814.00 L210.64,815.45 L208.91,815.55 L209.69,817.10 L208.91,818.65 L210.64,818.75 L211.59,820.20 L212.54,818.75 L214.28,818.65 L213.49,817.10 L214.28,815.55 L212.54,815.45Z" fill="#8e3ca8"/>
<path d="M218.17,811.50 L217.22,812.95 L215.49,813.05 L216.27,814.60 L215.49,816.15 L217.22,816.25 L218.17,817.70 L219.12,816.25 L220.85,816.15 L220.07,814.60 L220.85,813.05 L219.12,812.95Z" fill="#8e3ca8"/>
<path d="M224.75,804.80 L223.80,806.25 L222.06,806.35 L222.85,807.90 L222.06,809.45 L223.80,809.55 L224.75,811.00 L225.70,809.55 L227.43,809.45 L226.65,807.90 L227.43,806.35 L225.70,806.25Z" fill="#8e3ca8"/>
<path d="M231.32,794.40 L230.37,795.85 L228.64,795.95 L229.42,797.50 L228.64,799.05 L230.37,799.15 L231.32,800.60 L232.27,799.15 L234.01,799.05 L233.22,797.50 L234.01,795.95 L232.27,795.85Z" fill="#8e3ca8"/>
<rect x="40.60" y="656.50" width="197.30" height="162.30" fill="none" stroke="#262626" stroke-width="1.2"/>
<line x1="106.37" y1="818.80" x2="106.37" y2="816.80" stroke="#262626" stroke-width="1"/>
<line x1="106.37" y1="656.50" x2="106.37" y2="658.50" stroke="#262626" stroke-width="1"/>
<line x1="172.13" y1="818.80" x2="172.13" y2="816.80" stroke="#262626" stroke-width="1"/>
<line x1="172.13" y1="656.50" x2="172.13" y2="658.50" stroke="#262626" stroke-width="1"/>
<line x1="40.60" y1="818.80" x2="42.60" y2="818.80" stroke="#262626" stroke-width="1"/>
<line x1="237.90" y1="818.80" x2="235.90" y2="818.80" stroke="#262626" stroke-width="1"/>
<line x1="40.60" y1="791.75" x2="42.60" y2="791.75" stroke="#262626" stroke-width="1"/>
<line x1="237.90" y1="791.75" x2="235.90" y2="791.75" stroke="#262626" stroke-width="1"/>
<line x1="40.60" y1="764.70" x2="42.60" y2="764.70" stroke="#262626" stroke-width="1"/>
<line x1="237.90" y1="764.70" x2="235.90" y2="764.70" stroke="#262626" stroke-width="1"/>
<line x1="40.60" y1="737.65" x2="42.60" y2="737.65" stroke="#262626" stroke-width="1"/>
<line x1="237.90" y1="737.65" x2="235.90" y2="737.65" stroke="#262626" stroke-width="1"/>
<line x1="40.60" y1="710.60" x2="42.60" y2="710.60" stroke="#262626" stroke-width="1"/>
<line x1="237.90" y1="710.60" x2="235.90" y2="710.60" stroke="#262626" stroke-width="1"/>
<line x1="40.60" y1="683.55" x2="42.60" y2="683.55" stroke="#262626" stroke-width="1"/>
<line x1="237.90" y1="683.55" x2="235.90" y2="683.55" stroke="#262626" stroke-width="1"/>
<line x1="40.60" y1="656.50" x2="42.60" y2="656.50" stroke="#262626" stroke-width="1"/>
<line x1="237.90" y1="656.50" x2="235.90" y2="656.50" stroke="#262626" stroke-width="1"/>
<text transform="translate(40.60,834.60) scale(1,1.07)" font-size="12.6" text-anchor="middle">0</text>
<text transform="translate(106.37,834.60) scale(1,1.07)" font-size="12.6" text-anchor="middle">0.1</text>
<text transform="translate(172.13,834.60) scale(1,1.07)" font-size="12.6" text-anchor="middle">0.2</text>
<text transform="translate(237.90,834.60) scale(1,1.07)" font-size="12.6" text-anchor="middle">0.3</text>
<text transform="translate(36.80,823.80) scale(1,1.07)" font-size="12.6" text-anchor="end">0</text>
<text transform="translate(36.80,796.75) scale(1,1.07)" font-size="12.6" text-anchor="end">10</text>
<text transform="translate(36.80,769.70) scale(1,1.07)" font-size="12.6" text-anchor="end">20</text>
<text transform="translate(36.80,742.65) scale(1,1.07)" font-size="12.6" text-anchor="end">30</text>
<text transform="translate(36.80,715.60) scale(1,1.07)" font-size="12.6" text-anchor="end">40</text>
<text transform="translate(36.80,688.55) scale(1,1.07)" font-size="12.6" text-anchor="end">50</text>
<text transform="translate(36.80,661.50) scale(1,1.07)" font-size="12.6" text-anchor="end">60</text>
<text x="139.25" y="849.80" font-size="14" text-anchor="middle"><tspan font-style="italic">r</tspan> (m)</text>
<text transform="translate(13.80,737.65) rotate(-90)" x="0" y="0" font-size="14" text-anchor="middle"><tspan font-style="italic">T</tspan><tspan font-size="10.5" dy="6.8" font-style="italic">tot</tspan><tspan dy="-6.8"> (eV)</tspan></text>
<rect x="155.60" y="673.70" width="64.4" height="54.1" fill="#fff" stroke="#262626" stroke-width="1.1"/>
<path d="M157.10,681.40 L169.70,681.40" fill="none" stroke="#3445b0" stroke-width="1.2" stroke-dasharray="1.1,1.4"/>
<path d="M161.50,679.50L165.30,683.30M161.50,683.30L165.30,679.50" stroke="#3445b0" stroke-width="1.1"/>
<text transform="translate(173.40,685.60) scale(1,1.1)" font-size="11.3">point coil</text>
<path d="M157.10,694.50 L169.70,694.50" fill="none" stroke="#74c44a" stroke-width="1.6" stroke-dasharray="4.2,2.8"/>
<text transform="translate(173.40,698.70) scale(1,1.1)" font-size="11.3">coil 6cm</text>
<path d="M157.10,707.60 L169.70,707.60" fill="none" stroke="#dd2326" stroke-width="1.6"/>
<text transform="translate(173.40,711.80) scale(1,1.1)" font-size="11.3">coil 10cm</text>
<path d="M157.10,720.70 L169.70,720.70" fill="none" stroke="#8e3ca8" stroke-width="1.6"/>
<path d="M163.40,717.60 L162.45,719.05 L160.72,719.15 L161.50,720.70 L160.72,722.25 L162.45,722.35 L163.40,723.80 L164.35,722.35 L166.08,722.25 L165.30,720.70 L166.08,719.15 L164.35,719.05Z" fill="#8e3ca8"/>
<text transform="translate(173.40,724.90) scale(1,1.1)" font-size="11.3">coil 14cm</text>
<line x1="399.57" y1="656.40" x2="399.57" y2="818.80" stroke="#e6e6e6" stroke-width="1"/>
<line x1="462.93" y1="656.40" x2="462.93" y2="818.80" stroke="#e6e6e6" stroke-width="1"/>
<line x1="336.20" y1="791.73" x2="526.30" y2="791.73" stroke="#e6e6e6" stroke-width="1"/>
<line x1="336.20" y1="764.67" x2="526.30" y2="764.67" stroke="#e6e6e6" stroke-width="1"/>
<line x1="336.20" y1="737.60" x2="526.30" y2="737.60" stroke="#e6e6e6" stroke-width="1"/>
<line x1="336.20" y1="710.53" x2="526.30" y2="710.53" stroke="#e6e6e6" stroke-width="1"/>
<line x1="336.20" y1="683.47" x2="526.30" y2="683.47" stroke="#e6e6e6" stroke-width="1"/>
<path d="M336.20,723.50 C337.26,723.35 340.42,723.02 342.54,722.60 C344.65,722.18 346.76,721.82 348.87,721.00 C350.99,720.18 353.10,718.95 355.21,717.70 C357.32,716.45 359.43,714.98 361.55,713.50 C363.66,712.02 365.77,710.25 367.88,708.80 C370.00,707.35 372.11,705.97 374.22,704.80 C376.33,703.63 378.44,702.35 380.56,701.80 C382.67,701.25 384.78,701.22 386.89,701.50 C389.01,701.78 391.12,702.28 393.23,703.50 C395.34,704.72 397.45,706.85 399.57,708.80 C401.68,710.75 403.79,712.88 405.90,715.20 C408.02,717.52 410.13,720.33 412.24,722.70 C414.35,725.07 416.46,727.62 418.58,729.40 C420.69,731.18 422.80,731.83 424.91,733.40 C427.03,734.97 429.14,737.15 431.25,738.80 C433.36,740.45 435.47,742.00 437.59,743.30 C439.70,744.60 441.81,745.63 443.92,746.60 C446.04,747.57 448.15,748.35 450.26,749.10 C452.37,749.85 454.48,750.57 456.60,751.10 C458.71,751.63 460.82,751.92 462.93,752.30 C465.05,752.68 467.16,753.12 469.27,753.40 C471.38,753.68 473.49,753.80 475.61,754.00 C477.72,754.20 479.83,754.43 481.94,754.60 C484.06,754.77 486.17,754.90 488.28,755.00 C490.39,755.10 492.50,755.13 494.62,755.20 C496.73,755.27 498.84,755.33 500.95,755.40 C503.07,755.47 505.18,755.57 507.29,755.60 C509.40,755.63 511.51,755.57 513.63,755.60 C515.74,755.63 518.91,755.77 519.96,755.80" fill="none" stroke="#74c44a" stroke-width="1.6" stroke-dasharray="4.2,2.8"/>
<path d="M336.20,723.90 C337.26,723.78 340.42,723.53 342.54,723.20 C344.65,722.87 346.76,722.53 348.87,721.90 C350.99,721.27 353.10,720.38 355.21,719.40 C357.32,718.42 359.43,717.18 361.55,716.00 C363.66,714.82 365.77,713.50 367.88,712.30 C370.00,711.10 372.11,709.77 374.22,708.80 C376.33,707.83 378.44,706.97 380.56,706.50 C382.67,706.03 384.78,705.88 386.89,706.00 C389.01,706.12 391.12,706.45 393.23,707.20 C395.34,707.95 397.45,709.03 399.57,710.50 C401.68,711.97 403.79,713.83 405.90,716.00 C408.02,718.17 410.13,720.98 412.24,723.50 C414.35,726.02 416.46,728.77 418.58,731.10 C420.69,733.43 422.80,735.43 424.91,737.50 C427.03,739.57 429.14,741.67 431.25,743.50 C433.36,745.33 435.47,747.07 437.59,748.50 C439.70,749.93 441.81,751.05 443.92,752.10 C446.04,753.15 448.15,753.95 450.26,754.80 C452.37,755.65 454.48,756.45 456.60,757.20 C458.71,757.95 460.82,758.72 462.93,759.30 C465.05,759.88 467.16,760.30 469.27,760.70 C471.38,761.10 473.49,761.35 475.61,761.70 C477.72,762.05 479.83,762.52 481.94,762.80 C484.06,763.08 486.17,763.20 488.28,763.40 C490.39,763.60 492.50,763.83 494.62,764.00 C496.73,764.17 498.84,764.27 500.95,764.40 C503.07,764.53 505.18,764.70 507.29,764.80 C509.40,764.90 511.51,764.90 513.63,765.00 C515.74,765.10 518.91,765.33 519.96,765.40" fill="none" stroke="#3445b0" stroke-width="1.2" stroke-dasharray="1.1,1.4"/>
<path d="M334.30,722.00L338.10,725.80M334.30,725.80L338.10,722.00" stroke="#3445b0" stroke-width="1.1"/>
<path d="M340.64,721.30L344.44,725.10M340.64,725.10L344.44,721.30" stroke="#3445b0" stroke-width="1.1"/>
<path d="M346.97,720.00L350.77,723.80M346.97,723.80L350.77,720.00" stroke="#3445b0" stroke-width="1.1"/>
<path d="M353.31,717.50L357.11,721.30M353.31,721.30L357.11,717.50" stroke="#3445b0" stroke-width="1.1"/>
<path d="M359.65,714.10L363.45,717.90M359.65,717.90L363.45,714.10" stroke="#3445b0" stroke-width="1.1"/>
<path d="M365.98,710.40L369.78,714.20M365.98,714.20L369.78,710.40" stroke="#3445b0" stroke-width="1.1"/>
<path d="M372.32,706.90L376.12,710.70M372.32,710.70L376.12,706.90" stroke="#3445b0" stroke-width="1.1"/>
<path d="M378.66,704.60L382.46,708.40M378.66,708.40L382.46,704.60" stroke="#3445b0" stroke-width="1.1"/>
<path d="M384.99,704.10L388.79,707.90M384.99,707.90L388.79,704.10" stroke="#3445b0" stroke-width="1.1"/>
<path d="M391.33,705.30L395.13,709.10M391.33,709.10L395.13,705.30" stroke="#3445b0" stroke-width="1.1"/>
<path d="M397.67,708.60L401.47,712.40M397.67,712.40L401.47,708.60" stroke="#3445b0" stroke-width="1.1"/>
<path d="M404.00,714.10L407.80,717.90M404.00,717.90L407.80,714.10" stroke="#3445b0" stroke-width="1.1"/>
<path d="M410.34,721.60L414.14,725.40M410.34,725.40L414.14,721.60" stroke="#3445b0" stroke-width="1.1"/>
<path d="M416.68,729.20L420.48,733.00M416.68,733.00L420.48,729.20" stroke="#3445b0" stroke-width="1.1"/>
<path d="M423.01,735.60L426.81,739.40M423.01,739.40L426.81,735.60" stroke="#3445b0" stroke-width="1.1"/>
<path d="M429.35,741.60L433.15,745.40M429.35,745.40L433.15,741.60" stroke="#3445b0" stroke-width="1.1"/>
<path d="M435.69,746.60L439.49,750.40M435.69,750.40L439.49,746.60" stroke="#3445b0" stroke-width="1.1"/>
<path d="M442.02,750.20L445.82,754.00M442.02,754.00L445.82,750.20" stroke="#3445b0" stroke-width="1.1"/>
<path d="M448.36,752.90L452.16,756.70M448.36,756.70L452.16,752.90" stroke="#3445b0" stroke-width="1.1"/>
<path d="M454.70,755.30L458.50,759.10M454.70,759.10L458.50,755.30" stroke="#3445b0" stroke-width="1.1"/>
<path d="M461.03,757.40L464.83,761.20M461.03,761.20L464.83,757.40" stroke="#3445b0" stroke-width="1.1"/>
<path d="M467.37,758.80L471.17,762.60M467.37,762.60L471.17,758.80" stroke="#3445b0" stroke-width="1.1"/>
<path d="M473.71,759.80L477.51,763.60M473.71,763.60L477.51,759.80" stroke="#3445b0" stroke-width="1.1"/>
<path d="M480.04,760.90L483.84,764.70M480.04,764.70L483.84,760.90" stroke="#3445b0" stroke-width="1.1"/>
<path d="M486.38,761.50L490.18,765.30M486.38,765.30L490.18,761.50" stroke="#3445b0" stroke-width="1.1"/>
<path d="M492.72,762.10L496.52,765.90M492.72,765.90L496.52,762.10" stroke="#3445b0" stroke-width="1.1"/>
<path d="M499.05,762.50L502.85,766.30M499.05,766.30L502.85,762.50" stroke="#3445b0" stroke-width="1.1"/>
<path d="M505.39,762.90L509.19,766.70M505.39,766.70L509.19,762.90" stroke="#3445b0" stroke-width="1.1"/>
<path d="M511.73,763.10L515.53,766.90M511.73,766.90L515.53,763.10" stroke="#3445b0" stroke-width="1.1"/>
<path d="M518.06,763.50L521.86,767.30M518.06,767.30L521.86,763.50" stroke="#3445b0" stroke-width="1.1"/>
<path d="M336.20,719.90 C337.26,719.83 340.42,719.95 342.54,719.50 C344.65,719.05 346.76,718.33 348.87,717.20 C350.99,716.07 353.10,714.57 355.21,712.70 C357.32,710.83 359.43,708.43 361.55,706.00 C363.66,703.57 365.77,700.42 367.88,698.10 C370.00,695.78 372.11,693.77 374.22,692.10 C376.33,690.43 378.44,688.92 380.56,688.10 C382.67,687.28 384.78,687.00 386.89,687.20 C389.01,687.40 391.12,688.12 393.23,689.30 C395.34,690.48 397.45,692.22 399.57,694.30 C401.68,696.38 403.79,699.15 405.90,701.80 C408.02,704.45 410.13,707.55 412.24,710.20 C414.35,712.85 416.46,715.57 418.58,717.70 C420.69,719.83 422.80,721.35 424.91,723.00 C427.03,724.65 429.14,726.15 431.25,727.60 C433.36,729.05 435.47,730.43 437.59,731.70 C439.70,732.97 441.81,734.18 443.92,735.20 C446.04,736.22 448.15,737.02 450.26,737.80 C452.37,738.58 454.48,739.28 456.60,739.90 C458.71,740.52 460.82,741.07 462.93,741.50 C465.05,741.93 467.16,742.17 469.27,742.50 C471.38,742.83 473.49,743.18 475.61,743.50 C477.72,743.82 479.83,744.18 481.94,744.40 C484.06,744.62 486.17,744.70 488.28,744.80 C490.39,744.90 492.50,744.93 494.62,745.00 C496.73,745.07 498.84,745.17 500.95,745.20 C503.07,745.23 505.18,745.23 507.29,745.20 C509.40,745.17 511.51,745.10 513.63,745.00 C515.74,744.90 518.91,744.67 519.96,744.60" fill="none" stroke="#dd2326" stroke-width="1.6"/>
<path d="M336.20,705.10 C337.26,704.97 340.42,704.80 342.54,704.30 C344.65,703.80 346.76,703.22 348.87,702.10 C350.99,700.98 353.10,699.47 355.21,697.60 C357.32,695.73 359.43,693.22 361.55,690.90 C363.66,688.58 365.77,686.02 367.88,683.70 C370.00,681.38 372.11,678.72 374.22,677.00 C376.33,675.28 378.44,674.00 380.56,673.40 C382.67,672.80 384.78,672.80 386.89,673.40 C389.01,674.00 391.12,675.47 393.23,677.00 C395.34,678.53 397.45,680.42 399.57,682.60 C401.68,684.78 403.79,687.52 405.90,690.10 C408.02,692.68 410.13,695.45 412.24,698.10 C414.35,700.75 416.46,703.45 418.58,706.00 C420.69,708.55 422.80,711.17 424.91,713.40 C427.03,715.63 429.14,717.65 431.25,719.40 C433.36,721.15 435.47,722.60 437.59,723.90 C439.70,725.20 441.81,726.17 443.92,727.20 C446.04,728.23 448.15,729.18 450.26,730.10 C452.37,731.02 454.48,731.92 456.60,732.70 C458.71,733.48 460.82,734.12 462.93,734.80 C465.05,735.48 467.16,736.20 469.27,736.80 C471.38,737.40 473.49,737.88 475.61,738.40 C477.72,738.92 479.83,739.42 481.94,739.90 C484.06,740.38 486.17,740.90 488.28,741.30 C490.39,741.70 492.50,741.97 494.62,742.30 C496.73,742.63 498.84,743.02 500.95,743.30 C503.07,743.58 505.18,743.88 507.29,744.00 C509.40,744.12 511.51,744.18 513.63,744.00 C515.74,743.82 518.91,743.08 519.96,742.90" fill="none" stroke="#8e3ca8" stroke-width="1.6"/>
<path d="M336.20,702.00 L335.25,703.45 L333.52,703.55 L334.30,705.10 L333.52,706.65 L335.25,706.75 L336.20,708.20 L337.15,706.75 L338.88,706.65 L338.10,705.10 L338.88,703.55 L337.15,703.45Z" fill="#8e3ca8"/>
<path d="M342.54,701.20 L341.59,702.65 L339.85,702.75 L340.64,704.30 L339.85,705.85 L341.59,705.95 L342.54,707.40 L343.49,705.95 L345.22,705.85 L344.44,704.30 L345.22,702.75 L343.49,702.65Z" fill="#8e3ca8"/>
<path d="M348.87,699.00 L347.92,700.45 L346.19,700.55 L346.97,702.10 L346.19,703.65 L347.92,703.75 L348.87,705.20 L349.82,703.75 L351.56,703.65 L350.77,702.10 L351.56,700.55 L349.82,700.45Z" fill="#8e3ca8"/>
<path d="M355.21,694.50 L354.26,695.95 L352.53,696.05 L353.31,697.60 L352.53,699.15 L354.26,699.25 L355.21,700.70 L356.16,699.25 L357.89,699.15 L357.11,697.60 L357.89,696.05 L356.16,695.95Z" fill="#8e3ca8"/>
<path d="M361.55,687.80 L360.60,689.25 L358.86,689.35 L359.65,690.90 L358.86,692.45 L360.60,692.55 L361.55,694.00 L362.50,692.55 L364.23,692.45 L363.45,690.90 L364.23,689.35 L362.50,689.25Z" fill="#8e3ca8"/>
<path d="M367.88,680.60 L366.93,682.05 L365.20,682.15 L365.98,683.70 L365.20,685.25 L366.93,685.35 L367.88,686.80 L368.83,685.35 L370.57,685.25 L369.78,683.70 L370.57,682.15 L368.83,682.05Z" fill="#8e3ca8"/>
<path d="M374.22,673.90 L373.27,675.35 L371.54,675.45 L372.32,677.00 L371.54,678.55 L373.27,678.65 L374.22,680.10 L375.17,678.65 L376.90,678.55 L376.12,677.00 L376.90,675.45 L375.17,675.35Z" fill="#8e3ca8"/>
<path d="M380.56,670.30 L379.61,671.75 L377.87,671.85 L378.66,673.40 L377.87,674.95 L379.61,675.05 L380.56,676.50 L381.51,675.05 L383.24,674.95 L382.46,673.40 L383.24,671.85 L381.51,671.75Z" fill="#8e3ca8"/>
<path d="M386.89,670.30 L385.94,671.75 L384.21,671.85 L384.99,673.40 L384.21,674.95 L385.94,675.05 L386.89,676.50 L387.84,675.05 L389.58,674.95 L388.79,673.40 L389.58,671.85 L387.84,671.75Z" fill="#8e3ca8"/>
<path d="M393.23,673.90 L392.28,675.35 L390.55,675.45 L391.33,677.00 L390.55,678.55 L392.28,678.65 L393.23,680.10 L394.18,678.65 L395.91,678.55 L395.13,677.00 L395.91,675.45 L394.18,675.35Z" fill="#8e3ca8"/>
<path d="M399.57,679.50 L398.62,680.95 L396.88,681.05 L397.67,682.60 L396.88,684.15 L398.62,684.25 L399.57,685.70 L400.52,684.25 L402.25,684.15 L401.47,682.60 L402.25,681.05 L400.52,680.95Z" fill="#8e3ca8"/>
<path d="M405.90,687.00 L404.95,688.45 L403.22,688.55 L404.00,690.10 L403.22,691.65 L404.95,691.75 L405.90,693.20 L406.85,691.75 L408.59,691.65 L407.80,690.10 L408.59,688.55 L406.85,688.45Z" fill="#8e3ca8"/>
<path d="M412.24,695.00 L411.29,696.45 L409.56,696.55 L410.34,698.10 L409.56,699.65 L411.29,699.75 L412.24,701.20 L413.19,699.75 L414.92,699.65 L414.14,698.10 L414.92,696.55 L413.19,696.45Z" fill="#8e3ca8"/>
<path d="M418.58,702.90 L417.63,704.35 L415.89,704.45 L416.68,706.00 L415.89,707.55 L417.63,707.65 L418.58,709.10 L419.53,707.65 L421.26,707.55 L420.48,706.00 L421.26,704.45 L419.53,704.35Z" fill="#8e3ca8"/>
<path d="M424.91,710.30 L423.96,711.75 L422.23,711.85 L423.01,713.40 L422.23,714.95 L423.96,715.05 L424.91,716.50 L425.86,715.05 L427.60,714.95 L426.81,713.40 L427.60,711.85 L425.86,711.75Z" fill="#8e3ca8"/>
<path d="M431.25,716.30 L430.30,717.75 L428.57,717.85 L429.35,719.40 L428.57,720.95 L430.30,721.05 L431.25,722.50 L432.20,721.05 L433.93,720.95 L433.15,719.40 L433.93,717.85 L432.20,717.75Z" fill="#8e3ca8"/>
<path d="M437.59,720.80 L436.64,722.25 L434.90,722.35 L435.69,723.90 L434.90,725.45 L436.64,725.55 L437.59,727.00 L438.54,725.55 L440.27,725.45 L439.49,723.90 L440.27,722.35 L438.54,722.25Z" fill="#8e3ca8"/>
<path d="M443.92,724.10 L442.97,725.55 L441.24,725.65 L442.02,727.20 L441.24,728.75 L442.97,728.85 L443.92,730.30 L444.87,728.85 L446.61,728.75 L445.82,727.20 L446.61,725.65 L444.87,725.55Z" fill="#8e3ca8"/>
<path d="M450.26,727.00 L449.31,728.45 L447.58,728.55 L448.36,730.10 L447.58,731.65 L449.31,731.75 L450.26,733.20 L451.21,731.75 L452.94,731.65 L452.16,730.10 L452.94,728.55 L451.21,728.45Z" fill="#8e3ca8"/>
<path d="M456.60,729.60 L455.65,731.05 L453.91,731.15 L454.70,732.70 L453.91,734.25 L455.65,734.35 L456.60,735.80 L457.55,734.35 L459.28,734.25 L458.50,732.70 L459.28,731.15 L457.55,731.05Z" fill="#8e3ca8"/>
<path d="M462.93,731.70 L461.98,733.15 L460.25,733.25 L461.03,734.80 L460.25,736.35 L461.98,736.45 L462.93,737.90 L463.88,736.45 L465.62,736.35 L464.83,734.80 L465.62,733.25 L463.88,733.15Z" fill="#8e3ca8"/>
<path d="M469.27,733.70 L468.32,735.15 L466.59,735.25 L467.37,736.80 L466.59,738.35 L468.32,738.45 L469.27,739.90 L470.22,738.45 L471.95,738.35 L471.17,736.80 L471.95,735.25 L470.22,735.15Z" fill="#8e3ca8"/>
<path d="M475.61,735.30 L474.66,736.75 L472.92,736.85 L473.71,738.40 L472.92,739.95 L474.66,740.05 L475.61,741.50 L476.56,740.05 L478.29,739.95 L477.51,738.40 L478.29,736.85 L476.56,736.75Z" fill="#8e3ca8"/>
<path d="M481.94,736.80 L480.99,738.25 L479.26,738.35 L480.04,739.90 L479.26,741.45 L480.99,741.55 L481.94,743.00 L482.89,741.55 L484.63,741.45 L483.84,739.90 L484.63,738.35 L482.89,738.25Z" fill="#8e3ca8"/>
<path d="M488.28,738.20 L487.33,739.65 L485.60,739.75 L486.38,741.30 L485.60,742.85 L487.33,742.95 L488.28,744.40 L489.23,742.95 L490.96,742.85 L490.18,741.30 L490.96,739.75 L489.23,739.65Z" fill="#8e3ca8"/>
<path d="M494.62,739.20 L493.67,740.65 L491.93,740.75 L492.72,742.30 L491.93,743.85 L493.67,743.95 L494.62,745.40 L495.57,743.95 L497.30,743.85 L496.52,742.30 L497.30,740.75 L495.57,740.65Z" fill="#8e3ca8"/>
<path d="M500.95,740.20 L500.00,741.65 L498.27,741.75 L499.05,743.30 L498.27,744.85 L500.00,744.95 L500.95,746.40 L501.90,744.95 L503.64,744.85 L502.85,743.30 L503.64,741.75 L501.90,741.65Z" fill="#8e3ca8"/>
<path d="M507.29,740.90 L506.34,742.35 L504.61,742.45 L505.39,744.00 L504.61,745.55 L506.34,745.65 L507.29,747.10 L508.24,745.65 L509.97,745.55 L509.19,744.00 L509.97,742.45 L508.24,742.35Z" fill="#8e3ca8"/>
<path d="M513.63,740.90 L512.68,742.35 L510.94,742.45 L511.73,744.00 L510.94,745.55 L512.68,745.65 L513.63,747.10 L514.58,745.65 L516.31,745.55 L515.53,744.00 L516.31,742.45 L514.58,742.35Z" fill="#8e3ca8"/>
<path d="M519.96,739.80 L519.01,741.25 L517.28,741.35 L518.06,742.90 L517.28,744.45 L519.01,744.55 L519.96,746.00 L520.91,744.55 L522.65,744.45 L521.86,742.90 L522.65,741.35 L520.91,741.25Z" fill="#8e3ca8"/>
<rect x="336.20" y="656.40" width="190.10" height="162.40" fill="none" stroke="#262626" stroke-width="1.2"/>
<line x1="399.57" y1="818.80" x2="399.57" y2="816.80" stroke="#262626" stroke-width="1"/>
<line x1="399.57" y1="656.40" x2="399.57" y2="658.40" stroke="#262626" stroke-width="1"/>
<line x1="462.93" y1="818.80" x2="462.93" y2="816.80" stroke="#262626" stroke-width="1"/>
<line x1="462.93" y1="656.40" x2="462.93" y2="658.40" stroke="#262626" stroke-width="1"/>
<line x1="336.20" y1="818.80" x2="338.20" y2="818.80" stroke="#262626" stroke-width="1"/>
<line x1="526.30" y1="818.80" x2="524.30" y2="818.80" stroke="#262626" stroke-width="1"/>
<line x1="336.20" y1="791.73" x2="338.20" y2="791.73" stroke="#262626" stroke-width="1"/>
<line x1="526.30" y1="791.73" x2="524.30" y2="791.73" stroke="#262626" stroke-width="1"/>
<line x1="336.20" y1="764.67" x2="338.20" y2="764.67" stroke="#262626" stroke-width="1"/>
<line x1="526.30" y1="764.67" x2="524.30" y2="764.67" stroke="#262626" stroke-width="1"/>
<line x1="336.20" y1="737.60" x2="338.20" y2="737.60" stroke="#262626" stroke-width="1"/>
<line x1="526.30" y1="737.60" x2="524.30" y2="737.60" stroke="#262626" stroke-width="1"/>
<line x1="336.20" y1="710.53" x2="338.20" y2="710.53" stroke="#262626" stroke-width="1"/>
<line x1="526.30" y1="710.53" x2="524.30" y2="710.53" stroke="#262626" stroke-width="1"/>
<line x1="336.20" y1="683.47" x2="338.20" y2="683.47" stroke="#262626" stroke-width="1"/>
<line x1="526.30" y1="683.47" x2="524.30" y2="683.47" stroke="#262626" stroke-width="1"/>
<line x1="336.20" y1="656.40" x2="338.20" y2="656.40" stroke="#262626" stroke-width="1"/>
<line x1="526.30" y1="656.40" x2="524.30" y2="656.40" stroke="#262626" stroke-width="1"/>
<text transform="translate(336.20,834.60) scale(1,1.07)" font-size="12.6" text-anchor="middle">0</text>
<text transform="translate(399.57,834.60) scale(1,1.07)" font-size="12.6" text-anchor="middle">0.1</text>
<text transform="translate(462.93,834.60) scale(1,1.07)" font-size="12.6" text-anchor="middle">0.2</text>
<text transform="translate(526.30,834.60) scale(1,1.07)" font-size="12.6" text-anchor="middle">0.3</text>
<text transform="translate(332.40,823.80) scale(1,1.07)" font-size="12.6" text-anchor="end">0</text>
<text transform="translate(332.40,796.73) scale(1,1.07)" font-size="12.6" text-anchor="end">0.5</text>
<text transform="translate(332.40,769.67) scale(1,1.07)" font-size="12.6" text-anchor="end">1</text>
<text transform="translate(332.40,742.60) scale(1,1.07)" font-size="12.6" text-anchor="end">1.5</text>
<text transform="translate(332.40,715.53) scale(1,1.07)" font-size="12.6" text-anchor="end">2</text>
<text transform="translate(332.40,688.47) scale(1,1.07)" font-size="12.6" text-anchor="end">2.5</text>
<text transform="translate(332.40,661.40) scale(1,1.07)" font-size="12.6" text-anchor="end">3</text>
<text x="431.25" y="849.80" font-size="14" text-anchor="middle"><tspan font-style="italic">r</tspan> (m)</text>
<text transform="translate(306.00,738.40) rotate(-90)" x="0" y="0" font-size="14" text-anchor="middle"><tspan font-style="italic">n</tspan><tspan font-size="10.5" dy="6.8" font-style="italic">e</tspan><tspan dy="-6.8"> (10</tspan><tspan font-size="11.5" dy="-6.5">22</tspan><tspan dy="6.5">m</tspan><tspan font-size="11.5" dy="-6.5">-3</tspan><tspan dy="6.5">)</tspan></text>
<rect x="340.10" y="744.60" width="64.4" height="54.1" fill="#fff" stroke="#262626" stroke-width="1.1"/>
<path d="M341.60,752.30 L354.20,752.30" fill="none" stroke="#3445b0" stroke-width="1.2" stroke-dasharray="1.1,1.4"/>
<path d="M346.00,750.40L349.80,754.20M346.00,754.20L349.80,750.40" stroke="#3445b0" stroke-width="1.1"/>
<text transform="translate(357.90,756.50) scale(1,1.1)" font-size="11.3">point coil</text>
<path d="M341.60,765.40 L354.20,765.40" fill="none" stroke="#74c44a" stroke-width="1.6" stroke-dasharray="4.2,2.8"/>
<text transform="translate(357.90,769.60) scale(1,1.1)" font-size="11.3">coil 6cm</text>
<path d="M341.60,778.50 L354.20,778.50" fill="none" stroke="#dd2326" stroke-width="1.6"/>
<text transform="translate(357.90,782.70) scale(1,1.1)" font-size="11.3">coil 10cm</text>
<path d="M341.60,791.60 L354.20,791.60" fill="none" stroke="#8e3ca8" stroke-width="1.6"/>
<path d="M347.90,788.50 L346.95,789.95 L345.22,790.05 L346.00,791.60 L345.22,793.15 L346.95,793.25 L347.90,794.70 L348.85,793.25 L350.58,793.15 L349.80,791.60 L350.58,790.05 L348.85,789.95Z" fill="#8e3ca8"/>
<text transform="translate(357.90,795.80) scale(1,1.1)" font-size="11.3">coil 14cm</text>
<text x="272.6" y="431.3" font-size="18.5" text-anchor="middle">(a) cusp configuration</text>
<text x="272.3" y="871.5" font-size="18.5" text-anchor="middle">(b) mirror configuration</text>
</svg></body></html>
